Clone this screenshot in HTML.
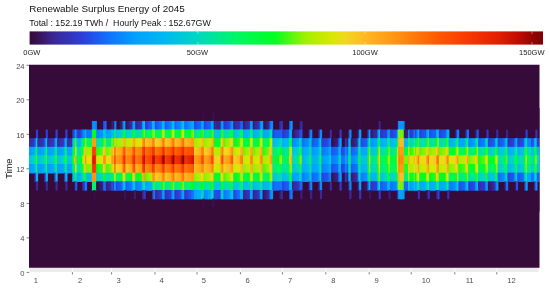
<!DOCTYPE html>
<html lang="en"><head><meta charset="utf-8"><title>Renewable Surplus Energy of 2045</title>
<style>html,body{margin:0;padding:0;background:#fff}body{width:550px;height:289px;overflow:hidden}svg{display:block}text{font-family:"Liberation Sans",Arial,sans-serif}</style></head><body>
<svg width="550" height="289" viewBox="0 0 550 289">
<defs><linearGradient id="cb" x1="0" x2="1" y1="0" y2="0"><stop offset="0.0000" stop-color="#360a39"/><stop offset="0.0104" stop-color="#370f49"/><stop offset="0.0208" stop-color="#38165e"/><stop offset="0.0312" stop-color="#391d73"/><stop offset="0.0417" stop-color="#392489"/><stop offset="0.0521" stop-color="#392a9b"/><stop offset="0.0625" stop-color="#362ea8"/><stop offset="0.0729" stop-color="#3332b5"/><stop offset="0.0833" stop-color="#3036c2"/><stop offset="0.0938" stop-color="#2e3bcf"/><stop offset="0.1042" stop-color="#2b3fdd"/><stop offset="0.1146" stop-color="#2648e5"/><stop offset="0.1250" stop-color="#2053ec"/><stop offset="0.1354" stop-color="#1a5ef3"/><stop offset="0.1458" stop-color="#1469fb"/><stop offset="0.1562" stop-color="#0f74ff"/><stop offset="0.1667" stop-color="#0c7dff"/><stop offset="0.1771" stop-color="#0887ff"/><stop offset="0.1875" stop-color="#0590ff"/><stop offset="0.1979" stop-color="#029aff"/><stop offset="0.2083" stop-color="#00a2fe"/><stop offset="0.2188" stop-color="#00a6fb"/><stop offset="0.2292" stop-color="#00aaf9"/><stop offset="0.2396" stop-color="#00aef6"/><stop offset="0.2500" stop-color="#00b3f3"/><stop offset="0.2604" stop-color="#00b7f1"/><stop offset="0.2708" stop-color="#00bcea"/><stop offset="0.2812" stop-color="#00c1e3"/><stop offset="0.2917" stop-color="#00c6db"/><stop offset="0.3021" stop-color="#00cbd3"/><stop offset="0.3125" stop-color="#00d0cb"/><stop offset="0.3229" stop-color="#00d5c4"/><stop offset="0.3333" stop-color="#00dab9"/><stop offset="0.3438" stop-color="#00dead"/><stop offset="0.3542" stop-color="#00e3a0"/><stop offset="0.3646" stop-color="#00e793"/><stop offset="0.3750" stop-color="#00eb86"/><stop offset="0.3854" stop-color="#00f079"/><stop offset="0.3958" stop-color="#00f46d"/><stop offset="0.4062" stop-color="#00f860"/><stop offset="0.4167" stop-color="#00f957"/><stop offset="0.4271" stop-color="#00fa4d"/><stop offset="0.4375" stop-color="#00fb44"/><stop offset="0.4479" stop-color="#00fc3b"/><stop offset="0.4583" stop-color="#00fd31"/><stop offset="0.4688" stop-color="#00fe28"/><stop offset="0.4792" stop-color="#04ff1f"/><stop offset="0.4896" stop-color="#21fc19"/><stop offset="0.5000" stop-color="#3df914"/><stop offset="0.5104" stop-color="#5af70e"/><stop offset="0.5208" stop-color="#76f408"/><stop offset="0.5312" stop-color="#93f103"/><stop offset="0.5417" stop-color="#a6ef00"/><stop offset="0.5521" stop-color="#b1ee00"/><stop offset="0.5625" stop-color="#bcec00"/><stop offset="0.5729" stop-color="#c8ea00"/><stop offset="0.5833" stop-color="#d3e900"/><stop offset="0.5938" stop-color="#dde507"/><stop offset="0.6042" stop-color="#e7de14"/><stop offset="0.6146" stop-color="#f0d820"/><stop offset="0.6250" stop-color="#f4cf20"/><stop offset="0.6354" stop-color="#f9c720"/><stop offset="0.6458" stop-color="#fcbe20"/><stop offset="0.6562" stop-color="#ffb61f"/><stop offset="0.6667" stop-color="#ffb01d"/><stop offset="0.6771" stop-color="#ffa91a"/><stop offset="0.6875" stop-color="#ffa318"/><stop offset="0.6979" stop-color="#ff9d15"/><stop offset="0.7083" stop-color="#ff9612"/><stop offset="0.7188" stop-color="#ff9010"/><stop offset="0.7292" stop-color="#ff880e"/><stop offset="0.7396" stop-color="#ff810c"/><stop offset="0.7500" stop-color="#ff790a"/><stop offset="0.7604" stop-color="#ff7207"/><stop offset="0.7708" stop-color="#ff6a05"/><stop offset="0.7812" stop-color="#ff6303"/><stop offset="0.7917" stop-color="#ff5b01"/><stop offset="0.8021" stop-color="#fe5500"/><stop offset="0.8125" stop-color="#fd4f00"/><stop offset="0.8229" stop-color="#fc4a00"/><stop offset="0.8333" stop-color="#fb4400"/><stop offset="0.8438" stop-color="#f93e00"/><stop offset="0.8542" stop-color="#f83800"/><stop offset="0.8646" stop-color="#f43400"/><stop offset="0.8750" stop-color="#f02f00"/><stop offset="0.8854" stop-color="#ed2a00"/><stop offset="0.8958" stop-color="#e92600"/><stop offset="0.9062" stop-color="#e52100"/><stop offset="0.9167" stop-color="#df1d00"/><stop offset="0.9271" stop-color="#d61800"/><stop offset="0.9375" stop-color="#cd1300"/><stop offset="0.9479" stop-color="#c40e00"/><stop offset="0.9583" stop-color="#b70a00"/><stop offset="0.9688" stop-color="#a70700"/><stop offset="0.9792" stop-color="#970400"/><stop offset="0.9896" stop-color="#890200"/><stop offset="1.0000" stop-color="#7d0000"/></linearGradient>
<filter id="bl" x="-2%" y="-20%" width="104%" height="140%" color-interpolation-filters="sRGB"><feGaussianBlur stdDeviation="0.70"/></filter>
<clipPath id="pc"><rect x="29.0" y="64.8" width="510.5" height="202.9"/></clipPath></defs>
<rect width="550" height="289" fill="#fff"/>
<text transform="translate(29.3,12.2) scale(1,0.94)" font-size="9.9" fill="#111">Renewable Surplus Energy of 2045</text>
<text transform="translate(29.3,25.6) scale(1,0.96)" font-size="8.85" fill="#111" xml:space="preserve">Total : 152.19 TWh /  Hourly Peak : 152.67GW</text>
<rect x="29.6" y="31.4" width="513.4" height="13.2" fill="url(#cb)"/>
<path d="M198.0 31.4v2.6M198.0 44.6v-2.6" stroke="#fff" stroke-width="0.7" opacity="0.55"/>
<path d="M365.0 31.4v2.6M365.0 44.6v-2.6" stroke="#fff" stroke-width="0.7" opacity="0.55"/>
<path d="M532.0 31.4v2.6M532.0 44.6v-2.6" stroke="#fff" stroke-width="0.7" opacity="0.55"/>
<text x="31.8" y="55.3" font-size="7.5" fill="#222" text-anchor="middle">0GW</text>
<text x="197.5" y="55.3" font-size="7.5" fill="#222" text-anchor="middle">50GW</text>
<text x="365.0" y="55.3" font-size="7.5" fill="#222" text-anchor="middle">100GW</text>
<text x="531.8" y="55.3" font-size="7.5" fill="#222" text-anchor="middle">150GW</text>
<rect x="30" y="64.8" width="508.6" height="207.2" fill="#ebebeb"/>
<path d="M72.4 267.5v4.5" stroke="#fff" stroke-width="0.7"/>
<path d="M111.6 267.5v4.5" stroke="#fff" stroke-width="0.7"/>
<path d="M155.0 267.5v4.5" stroke="#fff" stroke-width="0.7"/>
<path d="M197.0 267.5v4.5" stroke="#fff" stroke-width="0.7"/>
<path d="M240.4 267.5v4.5" stroke="#fff" stroke-width="0.7"/>
<path d="M282.4 267.5v4.5" stroke="#fff" stroke-width="0.7"/>
<path d="M325.8 267.5v4.5" stroke="#fff" stroke-width="0.7"/>
<path d="M369.2 267.5v4.5" stroke="#fff" stroke-width="0.7"/>
<path d="M411.2 267.5v4.5" stroke="#fff" stroke-width="0.7"/>
<path d="M454.8 267.5v4.5" stroke="#fff" stroke-width="0.7"/>
<path d="M496.8 267.5v4.5" stroke="#fff" stroke-width="0.7"/>
<g clip-path="url(#pc)"><rect x="26.0" y="61.8" width="516.5" height="208.9" fill="#360a39"/>
<g filter="url(#bl)">
<rect x="26.0" y="108.0" width="516.5" height="103.6" fill="#360a39"/>
<rect x="202.4" y="112.34" width="2.2" height="9.23" fill="#370e46"/>
<rect x="212.2" y="112.34" width="2.2" height="9.23" fill="#371354"/>
<rect x="91.9" y="120.97" width="2.2" height="9.23" fill="#0888ff"/>
<rect x="93.3" y="120.97" width="2.2" height="9.23" fill="#0494ff"/>
<rect x="94.7" y="120.97" width="2.2" height="9.23" fill="#0888ff"/>
<rect x="103.0" y="120.97" width="2.2" height="9.23" fill="#2a40e0"/>
<rect x="104.4" y="120.97" width="2.2" height="9.23" fill="#1469fb"/>
<rect x="111.4" y="120.97" width="2.2" height="9.23" fill="#391f7b"/>
<rect x="114.2" y="120.97" width="2.2" height="9.23" fill="#0a82ff"/>
<rect x="118.4" y="120.97" width="2.2" height="9.23" fill="#370e46"/>
<rect x="119.8" y="120.97" width="2.2" height="9.23" fill="#381761"/>
<rect x="121.2" y="120.97" width="2.2" height="9.23" fill="#391f7b"/>
<rect x="122.6" y="120.97" width="2.2" height="9.23" fill="#0888ff"/>
<rect x="124.0" y="120.97" width="2.2" height="9.23" fill="#00a3fd"/>
<rect x="125.4" y="120.97" width="2.2" height="9.23" fill="#371354"/>
<rect x="126.8" y="120.97" width="2.2" height="9.23" fill="#381b6e"/>
<rect x="128.2" y="120.97" width="2.2" height="9.23" fill="#391f7b"/>
<rect x="129.6" y="120.97" width="2.2" height="9.23" fill="#3a2896"/>
<rect x="131.0" y="120.97" width="2.2" height="9.23" fill="#362da6"/>
<rect x="132.4" y="120.97" width="2.2" height="9.23" fill="#0494ff"/>
<rect x="133.8" y="120.97" width="2.2" height="9.23" fill="#00a8fa"/>
<rect x="135.2" y="120.97" width="2.2" height="9.23" fill="#392489"/>
<rect x="136.6" y="120.97" width="2.2" height="9.23" fill="#382b9e"/>
<rect x="138.0" y="120.97" width="2.2" height="9.23" fill="#362da6"/>
<rect x="139.4" y="120.97" width="2.2" height="9.23" fill="#3333b7"/>
<rect x="140.8" y="120.97" width="2.2" height="9.23" fill="#2f38c7"/>
<rect x="142.2" y="120.97" width="2.2" height="9.23" fill="#00adf7"/>
<rect x="143.6" y="120.97" width="2.2" height="9.23" fill="#00c2e2"/>
<rect x="145.0" y="120.97" width="2.2" height="9.23" fill="#2c3dd8"/>
<rect x="146.4" y="120.97" width="2.2" height="9.23" fill="#2a40e0"/>
<rect x="147.8" y="120.97" width="2.2" height="9.23" fill="#234ee9"/>
<rect x="149.2" y="120.97" width="2.2" height="9.23" fill="#1b5bf2"/>
<rect x="150.6" y="120.97" width="2.2" height="9.23" fill="#1469fb"/>
<rect x="152.0" y="120.97" width="3.6" height="9.23" fill="#00b8f0"/>
<rect x="154.8" y="120.97" width="2.2" height="9.23" fill="#234ee9"/>
<rect x="156.2" y="120.97" width="2.2" height="9.23" fill="#1b5bf2"/>
<rect x="157.6" y="120.97" width="2.2" height="9.23" fill="#1762f6"/>
<rect x="159.0" y="120.97" width="2.2" height="9.23" fill="#1070ff"/>
<rect x="160.4" y="120.97" width="2.2" height="9.23" fill="#0e76ff"/>
<rect x="161.8" y="120.97" width="2.2" height="9.23" fill="#00b5f2"/>
<rect x="163.2" y="120.97" width="2.2" height="9.23" fill="#00c2e2"/>
<rect x="164.6" y="120.97" width="2.2" height="9.23" fill="#1b5bf2"/>
<rect x="166.0" y="120.97" width="2.2" height="9.23" fill="#1469fb"/>
<rect x="167.4" y="120.97" width="2.2" height="9.23" fill="#1070ff"/>
<rect x="168.8" y="120.97" width="2.2" height="9.23" fill="#0c7cff"/>
<rect x="170.2" y="120.97" width="2.2" height="9.23" fill="#0a82ff"/>
<rect x="171.6" y="120.97" width="2.2" height="9.23" fill="#00b8f0"/>
<rect x="173.0" y="120.97" width="2.2" height="9.23" fill="#00c5dd"/>
<rect x="174.4" y="120.97" width="2.2" height="9.23" fill="#1469fb"/>
<rect x="175.8" y="120.97" width="2.2" height="9.23" fill="#0e76ff"/>
<rect x="177.2" y="120.97" width="2.2" height="9.23" fill="#0c7cff"/>
<rect x="178.6" y="120.97" width="2.2" height="9.23" fill="#0888ff"/>
<rect x="180.0" y="120.97" width="2.2" height="9.23" fill="#068eff"/>
<rect x="181.4" y="120.97" width="2.2" height="9.23" fill="#00bbeb"/>
<rect x="182.8" y="120.97" width="2.2" height="9.23" fill="#00c8d8"/>
<rect x="184.2" y="120.97" width="2.2" height="9.23" fill="#1070ff"/>
<rect x="185.6" y="120.97" width="2.2" height="9.23" fill="#0e76ff"/>
<rect x="187.0" y="120.97" width="2.2" height="9.23" fill="#0a82ff"/>
<rect x="188.4" y="120.97" width="2.2" height="9.23" fill="#068eff"/>
<rect x="189.8" y="120.97" width="2.2" height="9.23" fill="#029aff"/>
<rect x="191.2" y="120.97" width="2.2" height="9.23" fill="#00a8fa"/>
<rect x="192.6" y="120.97" width="2.2" height="9.23" fill="#00adf7"/>
<rect x="194.0" y="120.97" width="2.2" height="9.23" fill="#2647e4"/>
<rect x="195.4" y="120.97" width="2.2" height="9.23" fill="#234ee9"/>
<rect x="196.8" y="120.97" width="2.2" height="9.23" fill="#1b5bf2"/>
<rect x="198.2" y="120.97" width="2.2" height="9.23" fill="#1762f6"/>
<rect x="199.6" y="120.97" width="2.2" height="9.23" fill="#1469fb"/>
<rect x="201.0" y="120.97" width="2.2" height="9.23" fill="#00a0ff"/>
<rect x="202.4" y="120.97" width="2.2" height="9.23" fill="#00a8fa"/>
<rect x="203.8" y="120.97" width="2.2" height="9.23" fill="#2a40e0"/>
<rect x="205.2" y="120.97" width="2.2" height="9.23" fill="#234ee9"/>
<rect x="206.6" y="120.97" width="2.2" height="9.23" fill="#1f55ed"/>
<rect x="208.0" y="120.97" width="2.2" height="9.23" fill="#1b5bf2"/>
<rect x="209.4" y="120.97" width="2.2" height="9.23" fill="#1762f6"/>
<rect x="210.8" y="120.97" width="2.2" height="9.23" fill="#00a0ff"/>
<rect x="212.2" y="120.97" width="2.2" height="9.23" fill="#00abf8"/>
<rect x="213.6" y="120.97" width="2.2" height="9.23" fill="#392489"/>
<rect x="215.0" y="120.97" width="2.2" height="9.23" fill="#382b9e"/>
<rect x="216.4" y="120.97" width="5.0" height="9.23" fill="#392489"/>
<rect x="220.6" y="120.97" width="2.2" height="9.23" fill="#0888ff"/>
<rect x="222.0" y="120.97" width="2.2" height="9.23" fill="#00a3fd"/>
<rect x="223.4" y="120.97" width="2.2" height="9.23" fill="#2f38c7"/>
<rect x="224.8" y="120.97" width="2.2" height="9.23" fill="#2e3bd0"/>
<rect x="226.2" y="120.97" width="2.2" height="9.23" fill="#2a40e0"/>
<rect x="227.6" y="120.97" width="2.2" height="9.23" fill="#2647e4"/>
<rect x="229.0" y="120.97" width="2.2" height="9.23" fill="#234ee9"/>
<rect x="230.4" y="120.97" width="2.2" height="9.23" fill="#0888ff"/>
<rect x="231.8" y="120.97" width="2.2" height="9.23" fill="#029aff"/>
<rect x="233.2" y="120.97" width="2.2" height="9.23" fill="#392489"/>
<rect x="234.6" y="120.97" width="2.2" height="9.23" fill="#382b9e"/>
<rect x="236.0" y="120.97" width="2.2" height="9.23" fill="#362da6"/>
<rect x="237.4" y="120.97" width="2.2" height="9.23" fill="#3530af"/>
<rect x="238.8" y="120.97" width="2.2" height="9.23" fill="#3333b7"/>
<rect x="240.1" y="120.97" width="2.2" height="9.23" fill="#1b5bf2"/>
<rect x="241.5" y="120.97" width="2.2" height="9.23" fill="#1070ff"/>
<rect x="242.9" y="120.97" width="2.2" height="9.23" fill="#381b6e"/>
<rect x="244.3" y="120.97" width="2.2" height="9.23" fill="#392489"/>
<rect x="245.7" y="120.97" width="2.2" height="9.23" fill="#3a2896"/>
<rect x="247.1" y="120.97" width="2.2" height="9.23" fill="#362da6"/>
<rect x="248.5" y="120.97" width="2.2" height="9.23" fill="#3530af"/>
<rect x="249.9" y="120.97" width="2.2" height="9.23" fill="#0494ff"/>
<rect x="251.3" y="120.97" width="2.2" height="9.23" fill="#00a8fa"/>
<rect x="252.7" y="120.97" width="2.2" height="9.23" fill="#381b6e"/>
<rect x="254.1" y="120.97" width="2.2" height="9.23" fill="#392489"/>
<rect x="255.5" y="120.97" width="2.2" height="9.23" fill="#3a2896"/>
<rect x="256.9" y="120.97" width="2.2" height="9.23" fill="#362da6"/>
<rect x="258.3" y="120.97" width="2.2" height="9.23" fill="#3530af"/>
<rect x="259.7" y="120.97" width="2.2" height="9.23" fill="#0888ff"/>
<rect x="261.1" y="120.97" width="2.2" height="9.23" fill="#00a3fd"/>
<rect x="263.9" y="120.97" width="2.2" height="9.23" fill="#371354"/>
<rect x="265.3" y="120.97" width="2.2" height="9.23" fill="#381761"/>
<rect x="266.7" y="120.97" width="2.2" height="9.23" fill="#391f7b"/>
<rect x="268.1" y="120.97" width="2.2" height="9.23" fill="#392489"/>
<rect x="269.5" y="120.97" width="2.2" height="9.23" fill="#1070ff"/>
<rect x="270.9" y="120.97" width="2.2" height="9.23" fill="#068eff"/>
<rect x="279.3" y="120.97" width="2.2" height="9.23" fill="#3a2896"/>
<rect x="280.7" y="120.97" width="2.2" height="9.23" fill="#3135bf"/>
<rect x="289.1" y="120.97" width="2.2" height="9.23" fill="#1762f6"/>
<rect x="290.5" y="120.97" width="2.2" height="9.23" fill="#029aff"/>
<rect x="298.9" y="120.97" width="2.2" height="9.23" fill="#371354"/>
<rect x="300.3" y="120.97" width="2.2" height="9.23" fill="#362da6"/>
<rect x="359.1" y="120.97" width="2.2" height="9.23" fill="#370e46"/>
<rect x="378.6" y="120.97" width="2.2" height="9.23" fill="#392489"/>
<rect x="396.8" y="120.97" width="2.2" height="9.23" fill="#381761"/>
<rect x="398.2" y="120.97" width="2.2" height="9.23" fill="#00a3fd"/>
<rect x="399.6" y="120.97" width="2.2" height="9.23" fill="#0494ff"/>
<rect x="401.0" y="120.97" width="2.2" height="9.23" fill="#029aff"/>
<rect x="402.4" y="120.97" width="2.2" height="9.23" fill="#068eff"/>
<rect x="35.9" y="129.60" width="2.2" height="9.23" fill="#2a40e0"/>
<rect x="45.7" y="129.60" width="2.2" height="9.23" fill="#2a40e0"/>
<rect x="55.5" y="129.60" width="2.2" height="9.23" fill="#2a40e0"/>
<rect x="65.3" y="129.60" width="2.2" height="9.23" fill="#2a40e0"/>
<rect x="72.3" y="129.60" width="2.2" height="9.23" fill="#2c3dd8"/>
<rect x="73.7" y="129.60" width="2.2" height="9.23" fill="#1b5bf2"/>
<rect x="75.1" y="129.60" width="2.2" height="9.23" fill="#00a3fd"/>
<rect x="76.5" y="129.60" width="2.2" height="9.23" fill="#2a40e0"/>
<rect x="77.9" y="129.60" width="3.6" height="9.23" fill="#2f38c7"/>
<rect x="80.7" y="129.60" width="2.2" height="9.23" fill="#1f55ed"/>
<rect x="82.1" y="129.60" width="2.2" height="9.23" fill="#0e76ff"/>
<rect x="83.5" y="129.60" width="2.2" height="9.23" fill="#0494ff"/>
<rect x="84.9" y="129.60" width="2.2" height="9.23" fill="#00b0f5"/>
<rect x="86.3" y="129.60" width="2.2" height="9.23" fill="#1070ff"/>
<rect x="87.7" y="129.60" width="3.6" height="9.23" fill="#0e76ff"/>
<rect x="90.5" y="129.60" width="2.2" height="9.23" fill="#0c7cff"/>
<rect x="91.9" y="129.60" width="2.2" height="9.23" fill="#00fd31"/>
<rect x="93.3" y="129.60" width="2.2" height="9.23" fill="#12fd1c"/>
<rect x="94.7" y="129.60" width="2.2" height="9.23" fill="#00fd31"/>
<rect x="96.1" y="129.60" width="2.2" height="9.23" fill="#0a82ff"/>
<rect x="97.5" y="129.60" width="2.2" height="9.23" fill="#0888ff"/>
<rect x="98.8" y="129.60" width="2.2" height="9.23" fill="#068eff"/>
<rect x="100.2" y="129.60" width="3.6" height="9.23" fill="#0494ff"/>
<rect x="103.0" y="129.60" width="2.2" height="9.23" fill="#00c2e2"/>
<rect x="104.4" y="129.60" width="2.2" height="9.23" fill="#00cece"/>
<rect x="105.8" y="129.60" width="2.2" height="9.23" fill="#029aff"/>
<rect x="107.2" y="129.60" width="2.2" height="9.23" fill="#00a0ff"/>
<rect x="108.6" y="129.60" width="2.2" height="9.23" fill="#00a3fd"/>
<rect x="110.0" y="129.60" width="2.2" height="9.23" fill="#00a5fc"/>
<rect x="111.4" y="129.60" width="2.2" height="9.23" fill="#00c8d8"/>
<rect x="112.8" y="129.60" width="2.2" height="9.23" fill="#00b5f2"/>
<rect x="114.2" y="129.60" width="2.2" height="9.23" fill="#00f95a"/>
<rect x="115.6" y="129.60" width="2.2" height="9.23" fill="#00bee6"/>
<rect x="117.0" y="129.60" width="2.2" height="9.23" fill="#00c5dd"/>
<rect x="118.4" y="129.60" width="2.2" height="9.23" fill="#00c8d8"/>
<rect x="119.8" y="129.60" width="2.2" height="9.23" fill="#00cbd3"/>
<rect x="121.2" y="129.60" width="2.2" height="9.23" fill="#00d2ca"/>
<rect x="122.6" y="129.60" width="2.2" height="9.23" fill="#00f954"/>
<rect x="124.0" y="129.60" width="2.2" height="9.23" fill="#00fc37"/>
<rect x="125.4" y="129.60" width="2.2" height="9.23" fill="#00cbd3"/>
<rect x="126.8" y="129.60" width="2.2" height="9.23" fill="#00d2ca"/>
<rect x="128.2" y="129.60" width="2.2" height="9.23" fill="#00d5c5"/>
<rect x="129.6" y="129.60" width="2.2" height="9.23" fill="#00d8c0"/>
<rect x="131.0" y="129.60" width="2.2" height="9.23" fill="#00ddb0"/>
<rect x="132.4" y="129.60" width="2.2" height="9.23" fill="#00fb43"/>
<rect x="133.8" y="129.60" width="2.2" height="9.23" fill="#00fe2c"/>
<rect x="135.2" y="129.60" width="2.2" height="9.23" fill="#00d8c0"/>
<rect x="136.6" y="129.60" width="2.2" height="9.23" fill="#00ddb0"/>
<rect x="138.0" y="129.60" width="2.2" height="9.23" fill="#00e0a8"/>
<rect x="139.4" y="129.60" width="2.2" height="9.23" fill="#00e3a0"/>
<rect x="140.8" y="129.60" width="2.2" height="9.23" fill="#00e890"/>
<rect x="142.2" y="129.60" width="2.2" height="9.23" fill="#12fd1c"/>
<rect x="143.6" y="129.60" width="2.2" height="9.23" fill="#7cf307"/>
<rect x="145.0" y="129.60" width="2.2" height="9.23" fill="#00f078"/>
<rect x="146.4" y="129.60" width="2.2" height="9.23" fill="#00f370"/>
<rect x="147.8" y="129.60" width="2.2" height="9.23" fill="#00f860"/>
<rect x="149.2" y="129.60" width="2.2" height="9.23" fill="#00f95a"/>
<rect x="150.6" y="129.60" width="2.2" height="9.23" fill="#00fa4f"/>
<rect x="152.0" y="129.60" width="2.2" height="9.23" fill="#59f70e"/>
<rect x="153.4" y="129.60" width="2.2" height="9.23" fill="#aeee00"/>
<rect x="154.8" y="129.60" width="2.2" height="9.23" fill="#00f370"/>
<rect x="156.2" y="129.60" width="2.2" height="9.23" fill="#00f860"/>
<rect x="157.6" y="129.60" width="2.2" height="9.23" fill="#00f95a"/>
<rect x="159.0" y="129.60" width="2.2" height="9.23" fill="#00fa4f"/>
<rect x="160.4" y="129.60" width="2.2" height="9.23" fill="#00fb43"/>
<rect x="161.8" y="129.60" width="2.2" height="9.23" fill="#a0f000"/>
<rect x="163.2" y="129.60" width="2.2" height="9.23" fill="#c3eb00"/>
<rect x="164.6" y="129.60" width="2.2" height="9.23" fill="#00f860"/>
<rect x="166.0" y="129.60" width="2.2" height="9.23" fill="#00f954"/>
<rect x="167.4" y="129.60" width="2.2" height="9.23" fill="#00fa4f"/>
<rect x="168.8" y="129.60" width="2.2" height="9.23" fill="#00fb43"/>
<rect x="170.2" y="129.60" width="2.2" height="9.23" fill="#00fc37"/>
<rect x="171.6" y="129.60" width="2.2" height="9.23" fill="#a7ef00"/>
<rect x="173.0" y="129.60" width="2.2" height="9.23" fill="#caea00"/>
<rect x="174.4" y="129.60" width="2.2" height="9.23" fill="#00f954"/>
<rect x="175.8" y="129.60" width="2.2" height="9.23" fill="#00fb49"/>
<rect x="177.2" y="129.60" width="2.2" height="9.23" fill="#00fb43"/>
<rect x="178.6" y="129.60" width="2.2" height="9.23" fill="#00fc37"/>
<rect x="180.0" y="129.60" width="2.2" height="9.23" fill="#00fe2c"/>
<rect x="181.4" y="129.60" width="2.2" height="9.23" fill="#b5ed00"/>
<rect x="182.8" y="129.60" width="2.2" height="9.23" fill="#d1e900"/>
<rect x="184.2" y="129.60" width="2.2" height="9.23" fill="#00fa4f"/>
<rect x="185.6" y="129.60" width="2.2" height="9.23" fill="#00fb49"/>
<rect x="187.0" y="129.60" width="2.2" height="9.23" fill="#00fc3d"/>
<rect x="188.4" y="129.60" width="2.2" height="9.23" fill="#00fd31"/>
<rect x="189.8" y="129.60" width="2.2" height="9.23" fill="#00ff20"/>
<rect x="191.2" y="129.60" width="2.2" height="9.23" fill="#59f70e"/>
<rect x="192.6" y="129.60" width="2.2" height="9.23" fill="#7cf307"/>
<rect x="194.0" y="129.60" width="2.2" height="9.23" fill="#00e0a8"/>
<rect x="195.4" y="129.60" width="2.2" height="9.23" fill="#00e3a0"/>
<rect x="196.8" y="129.60" width="2.2" height="9.23" fill="#00e890"/>
<rect x="198.2" y="129.60" width="2.2" height="9.23" fill="#00ed80"/>
<rect x="199.6" y="129.60" width="2.2" height="9.23" fill="#00f370"/>
<rect x="201.0" y="129.60" width="2.2" height="9.23" fill="#00ff20"/>
<rect x="202.4" y="129.60" width="2.2" height="9.23" fill="#47f812"/>
<rect x="203.8" y="129.60" width="2.2" height="9.23" fill="#00ddb0"/>
<rect x="205.2" y="129.60" width="2.2" height="9.23" fill="#00e3a0"/>
<rect x="206.6" y="129.60" width="2.2" height="9.23" fill="#00e598"/>
<rect x="208.0" y="129.60" width="2.2" height="9.23" fill="#00eb88"/>
<rect x="209.4" y="129.60" width="2.2" height="9.23" fill="#00ed80"/>
<rect x="210.8" y="129.60" width="2.2" height="9.23" fill="#00ff20"/>
<rect x="212.2" y="129.60" width="2.2" height="9.23" fill="#59f70e"/>
<rect x="213.6" y="129.60" width="2.2" height="9.23" fill="#00bee6"/>
<rect x="215.0" y="129.60" width="2.2" height="9.23" fill="#00c5dd"/>
<rect x="216.4" y="129.60" width="5.0" height="9.23" fill="#00bee6"/>
<rect x="220.6" y="129.60" width="2.2" height="9.23" fill="#00fd31"/>
<rect x="222.0" y="129.60" width="2.2" height="9.23" fill="#35fa15"/>
<rect x="223.4" y="129.60" width="2.2" height="9.23" fill="#00d5c5"/>
<rect x="224.8" y="129.60" width="2.2" height="9.23" fill="#00d8c0"/>
<rect x="226.2" y="129.60" width="2.2" height="9.23" fill="#00ddb0"/>
<rect x="227.6" y="129.60" width="2.2" height="9.23" fill="#00e3a0"/>
<rect x="229.0" y="129.60" width="2.2" height="9.23" fill="#00e890"/>
<rect x="230.4" y="129.60" width="2.2" height="9.23" fill="#00fc37"/>
<rect x="231.8" y="129.60" width="2.2" height="9.23" fill="#00ff20"/>
<rect x="233.2" y="129.60" width="2.2" height="9.23" fill="#00bee6"/>
<rect x="234.6" y="129.60" width="2.2" height="9.23" fill="#00c5dd"/>
<rect x="236.0" y="129.60" width="2.2" height="9.23" fill="#00c8d8"/>
<rect x="237.4" y="129.60" width="2.2" height="9.23" fill="#00cece"/>
<rect x="238.8" y="129.60" width="2.2" height="9.23" fill="#00d5c5"/>
<rect x="240.1" y="129.60" width="2.2" height="9.23" fill="#00f860"/>
<rect x="241.5" y="129.60" width="2.2" height="9.23" fill="#00fb49"/>
<rect x="242.9" y="129.60" width="2.2" height="9.23" fill="#00adf7"/>
<rect x="244.3" y="129.60" width="2.2" height="9.23" fill="#00b3f3"/>
<rect x="245.7" y="129.60" width="2.2" height="9.23" fill="#00b5f2"/>
<rect x="247.1" y="129.60" width="2.2" height="9.23" fill="#00b8f0"/>
<rect x="248.5" y="129.60" width="2.2" height="9.23" fill="#00bee6"/>
<rect x="249.9" y="129.60" width="2.2" height="9.23" fill="#00eb88"/>
<rect x="251.3" y="129.60" width="2.2" height="9.23" fill="#00f860"/>
<rect x="252.7" y="129.60" width="2.2" height="9.23" fill="#00adf7"/>
<rect x="254.1" y="129.60" width="2.2" height="9.23" fill="#00b3f3"/>
<rect x="255.5" y="129.60" width="2.2" height="9.23" fill="#00b5f2"/>
<rect x="256.9" y="129.60" width="2.2" height="9.23" fill="#00b8f0"/>
<rect x="258.3" y="129.60" width="2.2" height="9.23" fill="#00bee6"/>
<rect x="259.7" y="129.60" width="2.2" height="9.23" fill="#00e890"/>
<rect x="261.1" y="129.60" width="2.2" height="9.23" fill="#00f370"/>
<rect x="262.5" y="129.60" width="2.2" height="9.23" fill="#00a3fd"/>
<rect x="263.9" y="129.60" width="2.2" height="9.23" fill="#00a8fa"/>
<rect x="265.3" y="129.60" width="2.2" height="9.23" fill="#00abf8"/>
<rect x="266.7" y="129.60" width="2.2" height="9.23" fill="#00adf7"/>
<rect x="268.1" y="129.60" width="2.2" height="9.23" fill="#00b3f3"/>
<rect x="269.5" y="129.60" width="2.2" height="9.23" fill="#00ddb0"/>
<rect x="270.9" y="129.60" width="2.2" height="9.23" fill="#00e890"/>
<rect x="272.3" y="129.60" width="2.2" height="9.23" fill="#2647e4"/>
<rect x="273.7" y="129.60" width="2.2" height="9.23" fill="#234ee9"/>
<rect x="275.1" y="129.60" width="6.4" height="9.23" fill="#1b5bf2"/>
<rect x="280.7" y="129.60" width="2.2" height="9.23" fill="#1469fb"/>
<rect x="282.1" y="129.60" width="2.2" height="9.23" fill="#2f38c7"/>
<rect x="283.5" y="129.60" width="2.2" height="9.23" fill="#2e3bd0"/>
<rect x="284.9" y="129.60" width="2.2" height="9.23" fill="#2a40e0"/>
<rect x="286.3" y="129.60" width="2.2" height="9.23" fill="#2647e4"/>
<rect x="287.7" y="129.60" width="2.2" height="9.23" fill="#234ee9"/>
<rect x="289.1" y="129.60" width="2.2" height="9.23" fill="#00a8fa"/>
<rect x="290.5" y="129.60" width="2.2" height="9.23" fill="#00b8f0"/>
<rect x="291.9" y="129.60" width="2.2" height="9.23" fill="#381761"/>
<rect x="293.3" y="129.60" width="2.2" height="9.23" fill="#381b6e"/>
<rect x="294.7" y="129.60" width="2.2" height="9.23" fill="#392489"/>
<rect x="296.1" y="129.60" width="3.6" height="9.23" fill="#3a2896"/>
<rect x="298.9" y="129.60" width="2.2" height="9.23" fill="#2c3dd8"/>
<rect x="300.3" y="129.60" width="2.2" height="9.23" fill="#1f55ed"/>
<rect x="308.7" y="129.60" width="2.2" height="9.23" fill="#2f38c7"/>
<rect x="310.1" y="129.60" width="2.2" height="9.23" fill="#0888ff"/>
<rect x="318.5" y="129.60" width="2.2" height="9.23" fill="#3333b7"/>
<rect x="319.9" y="129.60" width="2.2" height="9.23" fill="#068eff"/>
<rect x="329.7" y="129.60" width="2.2" height="9.23" fill="#362da6"/>
<rect x="339.5" y="129.60" width="2.2" height="9.23" fill="#2e3bd0"/>
<rect x="347.9" y="129.60" width="2.2" height="9.23" fill="#391f7b"/>
<rect x="349.3" y="129.60" width="2.2" height="9.23" fill="#068eff"/>
<rect x="357.7" y="129.60" width="2.2" height="9.23" fill="#362da6"/>
<rect x="359.1" y="129.60" width="2.2" height="9.23" fill="#00a5fc"/>
<rect x="367.5" y="129.60" width="2.2" height="9.23" fill="#2c3dd8"/>
<rect x="368.9" y="129.60" width="2.2" height="9.23" fill="#00a5fc"/>
<rect x="370.3" y="129.60" width="2.2" height="9.23" fill="#381b6e"/>
<rect x="371.7" y="129.60" width="2.2" height="9.23" fill="#391f7b"/>
<rect x="373.1" y="129.60" width="2.2" height="9.23" fill="#392489"/>
<rect x="374.5" y="129.60" width="3.6" height="9.23" fill="#3a2896"/>
<rect x="377.3" y="129.60" width="2.2" height="9.23" fill="#0a82ff"/>
<rect x="378.6" y="129.60" width="2.2" height="9.23" fill="#00c2e2"/>
<rect x="380.0" y="129.60" width="2.2" height="9.23" fill="#3135bf"/>
<rect x="381.4" y="129.60" width="2.2" height="9.23" fill="#2f38c7"/>
<rect x="382.8" y="129.60" width="2.2" height="9.23" fill="#2e3bd0"/>
<rect x="384.2" y="129.60" width="3.6" height="9.23" fill="#2c3dd8"/>
<rect x="387.0" y="129.60" width="2.2" height="9.23" fill="#0c7cff"/>
<rect x="388.4" y="129.60" width="2.2" height="9.23" fill="#00abf8"/>
<rect x="389.8" y="129.60" width="2.2" height="9.23" fill="#2c3dd8"/>
<rect x="391.2" y="129.60" width="2.2" height="9.23" fill="#2a40e0"/>
<rect x="392.6" y="129.60" width="2.2" height="9.23" fill="#2647e4"/>
<rect x="394.0" y="129.60" width="3.6" height="9.23" fill="#234ee9"/>
<rect x="396.8" y="129.60" width="2.2" height="9.23" fill="#00bbeb"/>
<rect x="398.2" y="129.60" width="2.2" height="9.23" fill="#a0f000"/>
<rect x="399.6" y="129.60" width="2.2" height="9.23" fill="#6bf50b"/>
<rect x="401.0" y="129.60" width="2.2" height="9.23" fill="#7cf307"/>
<rect x="402.4" y="129.60" width="2.2" height="9.23" fill="#59f70e"/>
<rect x="403.8" y="129.60" width="5.0" height="9.23" fill="#391f7b"/>
<rect x="408.0" y="129.60" width="2.2" height="9.23" fill="#0888ff"/>
<rect x="409.4" y="129.60" width="2.2" height="9.23" fill="#2f38c7"/>
<rect x="410.8" y="129.60" width="2.2" height="9.23" fill="#2e3bd0"/>
<rect x="412.2" y="129.60" width="2.2" height="9.23" fill="#2c3dd8"/>
<rect x="413.6" y="129.60" width="2.2" height="9.23" fill="#0c7cff"/>
<rect x="415.0" y="129.60" width="2.2" height="9.23" fill="#2a40e0"/>
<rect x="416.4" y="129.60" width="2.2" height="9.23" fill="#0888ff"/>
<rect x="417.8" y="129.60" width="2.2" height="9.23" fill="#00b0f5"/>
<rect x="419.2" y="129.60" width="2.2" height="9.23" fill="#2a40e0"/>
<rect x="420.6" y="129.60" width="2.2" height="9.23" fill="#2647e4"/>
<rect x="422.0" y="129.60" width="2.2" height="9.23" fill="#234ee9"/>
<rect x="423.4" y="129.60" width="3.6" height="9.23" fill="#1f55ed"/>
<rect x="426.2" y="129.60" width="2.2" height="9.23" fill="#0494ff"/>
<rect x="427.6" y="129.60" width="2.2" height="9.23" fill="#00b5f2"/>
<rect x="429.0" y="129.60" width="2.2" height="9.23" fill="#234ee9"/>
<rect x="430.4" y="129.60" width="2.2" height="9.23" fill="#1f55ed"/>
<rect x="431.8" y="129.60" width="2.2" height="9.23" fill="#1b5bf2"/>
<rect x="433.2" y="129.60" width="3.6" height="9.23" fill="#1762f6"/>
<rect x="436.0" y="129.60" width="2.2" height="9.23" fill="#00a5fc"/>
<rect x="437.4" y="129.60" width="2.2" height="9.23" fill="#00c2e2"/>
<rect x="438.8" y="129.60" width="2.2" height="9.23" fill="#2a40e0"/>
<rect x="440.2" y="129.60" width="2.2" height="9.23" fill="#2647e4"/>
<rect x="441.6" y="129.60" width="2.2" height="9.23" fill="#234ee9"/>
<rect x="443.0" y="129.60" width="3.6" height="9.23" fill="#1f55ed"/>
<rect x="445.8" y="129.60" width="2.2" height="9.23" fill="#068eff"/>
<rect x="447.2" y="129.60" width="2.2" height="9.23" fill="#00b0f5"/>
<rect x="455.6" y="129.60" width="2.2" height="9.23" fill="#2f38c7"/>
<rect x="457.0" y="129.60" width="2.2" height="9.23" fill="#0a82ff"/>
<rect x="465.4" y="129.60" width="2.2" height="9.23" fill="#362da6"/>
<rect x="466.8" y="129.60" width="2.2" height="9.23" fill="#1070ff"/>
<rect x="475.2" y="129.60" width="2.2" height="9.23" fill="#391f7b"/>
<rect x="476.6" y="129.60" width="2.2" height="9.23" fill="#1f55ed"/>
<rect x="486.4" y="129.60" width="2.2" height="9.23" fill="#2f38c7"/>
<rect x="496.2" y="129.60" width="2.2" height="9.23" fill="#362da6"/>
<rect x="506.0" y="129.60" width="2.2" height="9.23" fill="#392489"/>
<rect x="515.8" y="129.60" width="2.2" height="9.23" fill="#370e46"/>
<rect x="525.5" y="129.60" width="2.2" height="9.23" fill="#2c3dd8"/>
<rect x="535.3" y="129.60" width="2.2" height="9.23" fill="#3530af"/>
<rect x="28.9" y="138.23" width="2.2" height="9.23" fill="#362da6"/>
<rect x="30.3" y="138.23" width="2.2" height="9.23" fill="#3530af"/>
<rect x="31.7" y="138.23" width="2.2" height="9.23" fill="#3333b7"/>
<rect x="33.1" y="138.23" width="2.2" height="9.23" fill="#3135bf"/>
<rect x="34.5" y="138.23" width="2.2" height="9.23" fill="#1469fb"/>
<rect x="35.9" y="138.23" width="2.2" height="9.23" fill="#00c2e2"/>
<rect x="37.3" y="138.23" width="2.2" height="9.23" fill="#382b9e"/>
<rect x="38.7" y="138.23" width="2.2" height="9.23" fill="#362da6"/>
<rect x="40.1" y="138.23" width="2.2" height="9.23" fill="#3530af"/>
<rect x="41.5" y="138.23" width="2.2" height="9.23" fill="#3333b7"/>
<rect x="42.9" y="138.23" width="2.2" height="9.23" fill="#3135bf"/>
<rect x="44.3" y="138.23" width="2.2" height="9.23" fill="#1469fb"/>
<rect x="45.7" y="138.23" width="2.2" height="9.23" fill="#00c2e2"/>
<rect x="47.1" y="138.23" width="2.2" height="9.23" fill="#382b9e"/>
<rect x="48.5" y="138.23" width="2.2" height="9.23" fill="#362da6"/>
<rect x="49.9" y="138.23" width="2.2" height="9.23" fill="#3530af"/>
<rect x="51.3" y="138.23" width="2.2" height="9.23" fill="#3333b7"/>
<rect x="52.7" y="138.23" width="2.2" height="9.23" fill="#3135bf"/>
<rect x="54.1" y="138.23" width="2.2" height="9.23" fill="#1469fb"/>
<rect x="55.5" y="138.23" width="2.2" height="9.23" fill="#00c2e2"/>
<rect x="56.9" y="138.23" width="2.2" height="9.23" fill="#382b9e"/>
<rect x="58.3" y="138.23" width="2.2" height="9.23" fill="#362da6"/>
<rect x="59.7" y="138.23" width="2.2" height="9.23" fill="#3530af"/>
<rect x="61.1" y="138.23" width="2.2" height="9.23" fill="#3333b7"/>
<rect x="62.5" y="138.23" width="2.2" height="9.23" fill="#3135bf"/>
<rect x="63.9" y="138.23" width="2.2" height="9.23" fill="#1469fb"/>
<rect x="65.3" y="138.23" width="2.2" height="9.23" fill="#00c2e2"/>
<rect x="66.7" y="138.23" width="6.4" height="9.23" fill="#3530af"/>
<rect x="72.3" y="138.23" width="2.2" height="9.23" fill="#00c8d8"/>
<rect x="73.7" y="138.23" width="2.2" height="9.23" fill="#00e598"/>
<rect x="75.1" y="138.23" width="2.2" height="9.23" fill="#47f812"/>
<rect x="76.5" y="138.23" width="2.2" height="9.23" fill="#00bee6"/>
<rect x="77.9" y="138.23" width="3.6" height="9.23" fill="#00b5f2"/>
<rect x="80.7" y="138.23" width="2.2" height="9.23" fill="#00d2ca"/>
<rect x="82.1" y="138.23" width="2.2" height="9.23" fill="#00f078"/>
<rect x="83.5" y="138.23" width="2.2" height="9.23" fill="#00fc37"/>
<rect x="84.9" y="138.23" width="2.2" height="9.23" fill="#a0f000"/>
<rect x="86.3" y="138.23" width="2.2" height="9.23" fill="#00f568"/>
<rect x="87.7" y="138.23" width="3.6" height="9.23" fill="#00f860"/>
<rect x="90.5" y="138.23" width="2.2" height="9.23" fill="#00f954"/>
<rect x="91.9" y="138.23" width="2.2" height="9.23" fill="#ffa016"/>
<rect x="93.3" y="138.23" width="2.2" height="9.23" fill="#ff9813"/>
<rect x="94.7" y="138.23" width="2.2" height="9.23" fill="#ffa016"/>
<rect x="96.1" y="138.23" width="2.2" height="9.23" fill="#00ddb0"/>
<rect x="97.5" y="138.23" width="2.2" height="9.23" fill="#00e0a8"/>
<rect x="98.8" y="138.23" width="2.2" height="9.23" fill="#00e3a0"/>
<rect x="100.2" y="138.23" width="2.2" height="9.23" fill="#00e598"/>
<rect x="101.6" y="138.23" width="2.2" height="9.23" fill="#00e890"/>
<rect x="103.0" y="138.23" width="2.2" height="9.23" fill="#24fc19"/>
<rect x="104.4" y="138.23" width="2.2" height="9.23" fill="#7cf307"/>
<rect x="105.8" y="138.23" width="2.2" height="9.23" fill="#00e890"/>
<rect x="107.2" y="138.23" width="2.2" height="9.23" fill="#00eb88"/>
<rect x="108.6" y="138.23" width="2.2" height="9.23" fill="#00ed80"/>
<rect x="110.0" y="138.23" width="2.2" height="9.23" fill="#00f078"/>
<rect x="111.4" y="138.23" width="2.2" height="9.23" fill="#8ef204"/>
<rect x="112.8" y="138.23" width="2.2" height="9.23" fill="#35fa15"/>
<rect x="114.2" y="138.23" width="2.2" height="9.23" fill="#f8c820"/>
<rect x="115.6" y="138.23" width="2.2" height="9.23" fill="#7cf307"/>
<rect x="117.0" y="138.23" width="2.2" height="9.23" fill="#a0f000"/>
<rect x="118.4" y="138.23" width="2.2" height="9.23" fill="#a7ef00"/>
<rect x="119.8" y="138.23" width="2.2" height="9.23" fill="#aeee00"/>
<rect x="121.2" y="138.23" width="2.2" height="9.23" fill="#b5ed00"/>
<rect x="122.6" y="138.23" width="2.2" height="9.23" fill="#fdbd20"/>
<rect x="124.0" y="138.23" width="2.2" height="9.23" fill="#ffac1b"/>
<rect x="125.4" y="138.23" width="2.2" height="9.23" fill="#aeee00"/>
<rect x="126.8" y="138.23" width="2.2" height="9.23" fill="#bcec00"/>
<rect x="128.2" y="138.23" width="2.2" height="9.23" fill="#c3eb00"/>
<rect x="129.6" y="138.23" width="2.2" height="9.23" fill="#caea00"/>
<rect x="131.0" y="138.23" width="2.2" height="9.23" fill="#d1e900"/>
<rect x="132.4" y="138.23" width="2.2" height="9.23" fill="#ffb41e"/>
<rect x="133.8" y="138.23" width="2.2" height="9.23" fill="#ffa418"/>
<rect x="135.2" y="138.23" width="2.2" height="9.23" fill="#caea00"/>
<rect x="136.6" y="138.23" width="2.2" height="9.23" fill="#d8e800"/>
<rect x="138.0" y="138.23" width="2.2" height="9.23" fill="#dee408"/>
<rect x="139.4" y="138.23" width="2.2" height="9.23" fill="#e4e010"/>
<rect x="140.8" y="138.23" width="2.2" height="9.23" fill="#eadc18"/>
<rect x="142.2" y="138.23" width="2.2" height="9.23" fill="#ff9412"/>
<rect x="143.6" y="138.23" width="2.2" height="9.23" fill="#ff7d0b"/>
<rect x="145.0" y="138.23" width="2.2" height="9.23" fill="#f8c820"/>
<rect x="146.4" y="138.23" width="2.2" height="9.23" fill="#fac320"/>
<rect x="147.8" y="138.23" width="2.2" height="9.23" fill="#ffb820"/>
<rect x="149.2" y="138.23" width="2.2" height="9.23" fill="#ffb41e"/>
<rect x="150.6" y="138.23" width="2.2" height="9.23" fill="#ffb01d"/>
<rect x="152.0" y="138.23" width="3.6" height="9.23" fill="#ff870d"/>
<rect x="154.8" y="138.23" width="2.2" height="9.23" fill="#f0d820"/>
<rect x="156.2" y="138.23" width="2.2" height="9.23" fill="#f5cd20"/>
<rect x="157.6" y="138.23" width="2.2" height="9.23" fill="#f8c820"/>
<rect x="159.0" y="138.23" width="2.2" height="9.23" fill="#fac320"/>
<rect x="160.4" y="138.23" width="2.2" height="9.23" fill="#ffb820"/>
<rect x="161.8" y="138.23" width="2.2" height="9.23" fill="#ff8b0f"/>
<rect x="163.2" y="138.23" width="2.2" height="9.23" fill="#ff7909"/>
<rect x="164.6" y="138.23" width="2.2" height="9.23" fill="#f5cd20"/>
<rect x="166.0" y="138.23" width="2.2" height="9.23" fill="#fac320"/>
<rect x="167.4" y="138.23" width="2.2" height="9.23" fill="#fdbd20"/>
<rect x="168.8" y="138.23" width="2.2" height="9.23" fill="#ffb820"/>
<rect x="170.2" y="138.23" width="2.2" height="9.23" fill="#ffb01d"/>
<rect x="171.6" y="138.23" width="2.2" height="9.23" fill="#ff870d"/>
<rect x="173.0" y="138.23" width="2.2" height="9.23" fill="#ff7408"/>
<rect x="174.4" y="138.23" width="2.2" height="9.23" fill="#fac320"/>
<rect x="175.8" y="138.23" width="2.2" height="9.23" fill="#ffb820"/>
<rect x="177.2" y="138.23" width="2.2" height="9.23" fill="#ffb41e"/>
<rect x="178.6" y="138.23" width="2.2" height="9.23" fill="#ffb01d"/>
<rect x="180.0" y="138.23" width="2.2" height="9.23" fill="#ffa81a"/>
<rect x="181.4" y="138.23" width="2.2" height="9.23" fill="#ff820c"/>
<rect x="182.8" y="138.23" width="2.2" height="9.23" fill="#ff6f07"/>
<rect x="184.2" y="138.23" width="2.2" height="9.23" fill="#fdbd20"/>
<rect x="185.6" y="138.23" width="2.2" height="9.23" fill="#ffb820"/>
<rect x="187.0" y="138.23" width="2.2" height="9.23" fill="#ffb01d"/>
<rect x="188.4" y="138.23" width="2.2" height="9.23" fill="#ffac1b"/>
<rect x="189.8" y="138.23" width="2.2" height="9.23" fill="#ffa81a"/>
<rect x="191.2" y="138.23" width="2.2" height="9.23" fill="#ffa016"/>
<rect x="192.6" y="138.23" width="2.2" height="9.23" fill="#ff9813"/>
<rect x="194.0" y="138.23" width="2.2" height="9.23" fill="#a0f000"/>
<rect x="195.4" y="138.23" width="2.2" height="9.23" fill="#aeee00"/>
<rect x="196.8" y="138.23" width="2.2" height="9.23" fill="#b5ed00"/>
<rect x="198.2" y="138.23" width="2.2" height="9.23" fill="#bcec00"/>
<rect x="199.6" y="138.23" width="2.2" height="9.23" fill="#caea00"/>
<rect x="201.0" y="138.23" width="2.2" height="9.23" fill="#f8c820"/>
<rect x="202.4" y="138.23" width="2.2" height="9.23" fill="#ffb41e"/>
<rect x="203.8" y="138.23" width="2.2" height="9.23" fill="#8ef204"/>
<rect x="205.2" y="138.23" width="2.2" height="9.23" fill="#a0f000"/>
<rect x="206.6" y="138.23" width="2.2" height="9.23" fill="#aeee00"/>
<rect x="208.0" y="138.23" width="2.2" height="9.23" fill="#b5ed00"/>
<rect x="209.4" y="138.23" width="2.2" height="9.23" fill="#c3eb00"/>
<rect x="210.8" y="138.23" width="2.2" height="9.23" fill="#fac320"/>
<rect x="212.2" y="138.23" width="2.2" height="9.23" fill="#ffb01d"/>
<rect x="213.6" y="138.23" width="2.2" height="9.23" fill="#00fe2c"/>
<rect x="215.0" y="138.23" width="2.2" height="9.23" fill="#00fe26"/>
<rect x="216.4" y="138.23" width="5.0" height="9.23" fill="#00fe2c"/>
<rect x="220.6" y="138.23" width="2.2" height="9.23" fill="#f0d820"/>
<rect x="222.0" y="138.23" width="2.2" height="9.23" fill="#ffb820"/>
<rect x="223.4" y="138.23" width="2.2" height="9.23" fill="#59f70e"/>
<rect x="224.8" y="138.23" width="2.2" height="9.23" fill="#7cf307"/>
<rect x="226.2" y="138.23" width="2.2" height="9.23" fill="#8ef204"/>
<rect x="227.6" y="138.23" width="2.2" height="9.23" fill="#a0f000"/>
<rect x="229.0" y="138.23" width="2.2" height="9.23" fill="#aeee00"/>
<rect x="230.4" y="138.23" width="2.2" height="9.23" fill="#eadc18"/>
<rect x="231.8" y="138.23" width="2.2" height="9.23" fill="#f8c820"/>
<rect x="233.2" y="138.23" width="2.2" height="9.23" fill="#00fe2c"/>
<rect x="234.6" y="138.23" width="2.2" height="9.23" fill="#00fe26"/>
<rect x="236.0" y="138.23" width="2.2" height="9.23" fill="#12fd1c"/>
<rect x="237.4" y="138.23" width="2.2" height="9.23" fill="#24fc19"/>
<rect x="238.8" y="138.23" width="2.2" height="9.23" fill="#47f812"/>
<rect x="240.1" y="138.23" width="2.2" height="9.23" fill="#bcec00"/>
<rect x="241.5" y="138.23" width="2.2" height="9.23" fill="#d8e800"/>
<rect x="242.9" y="138.23" width="2.2" height="9.23" fill="#00fa4f"/>
<rect x="244.3" y="138.23" width="2.2" height="9.23" fill="#00fb49"/>
<rect x="245.7" y="138.23" width="2.2" height="9.23" fill="#00fc3d"/>
<rect x="247.1" y="138.23" width="2.2" height="9.23" fill="#00fd31"/>
<rect x="248.5" y="138.23" width="2.2" height="9.23" fill="#00fe2c"/>
<rect x="249.9" y="138.23" width="2.2" height="9.23" fill="#d1e900"/>
<rect x="251.3" y="138.23" width="2.2" height="9.23" fill="#f0d820"/>
<rect x="252.7" y="138.23" width="2.2" height="9.23" fill="#00fa4f"/>
<rect x="254.1" y="138.23" width="2.2" height="9.23" fill="#00fb49"/>
<rect x="255.5" y="138.23" width="2.2" height="9.23" fill="#00fc3d"/>
<rect x="256.9" y="138.23" width="2.2" height="9.23" fill="#00fd31"/>
<rect x="258.3" y="138.23" width="2.2" height="9.23" fill="#00fe2c"/>
<rect x="259.7" y="138.23" width="2.2" height="9.23" fill="#c3eb00"/>
<rect x="261.1" y="138.23" width="2.2" height="9.23" fill="#e4e010"/>
<rect x="262.5" y="138.23" width="2.2" height="9.23" fill="#00f568"/>
<rect x="263.9" y="138.23" width="2.2" height="9.23" fill="#00f860"/>
<rect x="265.3" y="138.23" width="2.2" height="9.23" fill="#00f954"/>
<rect x="266.7" y="138.23" width="2.2" height="9.23" fill="#00fb49"/>
<rect x="268.1" y="138.23" width="2.2" height="9.23" fill="#00fb43"/>
<rect x="269.5" y="138.23" width="2.2" height="9.23" fill="#a7ef00"/>
<rect x="270.9" y="138.23" width="2.2" height="9.23" fill="#caea00"/>
<rect x="272.3" y="138.23" width="2.2" height="9.23" fill="#00b8f0"/>
<rect x="273.7" y="138.23" width="2.2" height="9.23" fill="#00bee6"/>
<rect x="275.1" y="138.23" width="2.2" height="9.23" fill="#00c2e2"/>
<rect x="276.5" y="138.23" width="3.6" height="9.23" fill="#00c5dd"/>
<rect x="279.3" y="138.23" width="2.2" height="9.23" fill="#00d5c5"/>
<rect x="280.7" y="138.23" width="2.2" height="9.23" fill="#00ddb0"/>
<rect x="282.1" y="138.23" width="2.2" height="9.23" fill="#00adf7"/>
<rect x="283.5" y="138.23" width="2.2" height="9.23" fill="#00b3f3"/>
<rect x="284.9" y="138.23" width="2.2" height="9.23" fill="#00b5f2"/>
<rect x="286.3" y="138.23" width="2.2" height="9.23" fill="#00b8f0"/>
<rect x="287.7" y="138.23" width="2.2" height="9.23" fill="#00bbeb"/>
<rect x="289.1" y="138.23" width="2.2" height="9.23" fill="#00f95a"/>
<rect x="290.5" y="138.23" width="2.2" height="9.23" fill="#00fd31"/>
<rect x="291.9" y="138.23" width="2.2" height="9.23" fill="#0a82ff"/>
<rect x="293.3" y="138.23" width="2.2" height="9.23" fill="#068eff"/>
<rect x="294.7" y="138.23" width="2.2" height="9.23" fill="#0494ff"/>
<rect x="296.1" y="138.23" width="2.2" height="9.23" fill="#029aff"/>
<rect x="297.5" y="138.23" width="2.2" height="9.23" fill="#00a0ff"/>
<rect x="298.9" y="138.23" width="2.2" height="9.23" fill="#00c5dd"/>
<rect x="300.3" y="138.23" width="2.2" height="9.23" fill="#00d5c5"/>
<rect x="301.7" y="138.23" width="2.2" height="9.23" fill="#1070ff"/>
<rect x="303.1" y="138.23" width="2.2" height="9.23" fill="#0e76ff"/>
<rect x="304.5" y="138.23" width="2.2" height="9.23" fill="#0a82ff"/>
<rect x="305.9" y="138.23" width="3.6" height="9.23" fill="#0888ff"/>
<rect x="308.7" y="138.23" width="2.2" height="9.23" fill="#00adf7"/>
<rect x="310.1" y="138.23" width="2.2" height="9.23" fill="#00c5dd"/>
<rect x="311.5" y="138.23" width="2.2" height="9.23" fill="#1f55ed"/>
<rect x="312.9" y="138.23" width="2.2" height="9.23" fill="#1b5bf2"/>
<rect x="314.3" y="138.23" width="2.2" height="9.23" fill="#1762f6"/>
<rect x="315.7" y="138.23" width="3.6" height="9.23" fill="#1469fb"/>
<rect x="318.5" y="138.23" width="2.2" height="9.23" fill="#00a8fa"/>
<rect x="319.9" y="138.23" width="2.2" height="9.23" fill="#00c8d8"/>
<rect x="321.3" y="138.23" width="2.2" height="9.23" fill="#2e3bd0"/>
<rect x="322.7" y="138.23" width="2.2" height="9.23" fill="#2c3dd8"/>
<rect x="324.1" y="138.23" width="2.2" height="9.23" fill="#2a40e0"/>
<rect x="325.5" y="138.23" width="3.6" height="9.23" fill="#2647e4"/>
<rect x="328.3" y="138.23" width="2.2" height="9.23" fill="#1762f6"/>
<rect x="329.7" y="138.23" width="2.2" height="9.23" fill="#0a82ff"/>
<rect x="331.1" y="138.23" width="2.2" height="9.23" fill="#370e46"/>
<rect x="332.5" y="138.23" width="2.2" height="9.23" fill="#371354"/>
<rect x="333.9" y="138.23" width="2.2" height="9.23" fill="#381761"/>
<rect x="335.3" y="138.23" width="2.2" height="9.23" fill="#381b6e"/>
<rect x="336.7" y="138.23" width="2.2" height="9.23" fill="#391f7b"/>
<rect x="338.1" y="138.23" width="2.2" height="9.23" fill="#1f55ed"/>
<rect x="339.5" y="138.23" width="2.2" height="9.23" fill="#00a0ff"/>
<rect x="343.7" y="138.23" width="2.2" height="9.23" fill="#370e46"/>
<rect x="345.1" y="138.23" width="2.2" height="9.23" fill="#2f38c7"/>
<rect x="346.5" y="138.23" width="2.2" height="9.23" fill="#381761"/>
<rect x="347.9" y="138.23" width="2.2" height="9.23" fill="#0c7cff"/>
<rect x="349.3" y="138.23" width="2.2" height="9.23" fill="#00c8d8"/>
<rect x="350.7" y="138.23" width="2.2" height="9.23" fill="#381761"/>
<rect x="352.1" y="138.23" width="2.2" height="9.23" fill="#381b6e"/>
<rect x="353.5" y="138.23" width="2.2" height="9.23" fill="#391f7b"/>
<rect x="354.9" y="138.23" width="2.2" height="9.23" fill="#392489"/>
<rect x="356.3" y="138.23" width="2.2" height="9.23" fill="#3a2896"/>
<rect x="357.7" y="138.23" width="2.2" height="9.23" fill="#029aff"/>
<rect x="359.1" y="138.23" width="2.2" height="9.23" fill="#00d8c0"/>
<rect x="360.5" y="138.23" width="2.2" height="9.23" fill="#2647e4"/>
<rect x="361.9" y="138.23" width="2.2" height="9.23" fill="#234ee9"/>
<rect x="363.3" y="138.23" width="2.2" height="9.23" fill="#1f55ed"/>
<rect x="364.7" y="138.23" width="3.6" height="9.23" fill="#1b5bf2"/>
<rect x="367.5" y="138.23" width="2.2" height="9.23" fill="#00b8f0"/>
<rect x="368.9" y="138.23" width="2.2" height="9.23" fill="#00ed80"/>
<rect x="370.3" y="138.23" width="2.2" height="9.23" fill="#0494ff"/>
<rect x="371.7" y="138.23" width="2.2" height="9.23" fill="#029aff"/>
<rect x="373.1" y="138.23" width="2.2" height="9.23" fill="#00a0ff"/>
<rect x="374.5" y="138.23" width="3.6" height="9.23" fill="#00a3fd"/>
<rect x="377.3" y="138.23" width="2.2" height="9.23" fill="#00dbb8"/>
<rect x="378.6" y="138.23" width="2.2" height="9.23" fill="#00fc3d"/>
<rect x="380.0" y="138.23" width="2.2" height="9.23" fill="#00b0f5"/>
<rect x="381.4" y="138.23" width="2.2" height="9.23" fill="#00b3f3"/>
<rect x="382.8" y="138.23" width="2.2" height="9.23" fill="#00b5f2"/>
<rect x="384.2" y="138.23" width="3.6" height="9.23" fill="#00b8f0"/>
<rect x="387.0" y="138.23" width="2.2" height="9.23" fill="#00d8c0"/>
<rect x="388.4" y="138.23" width="2.2" height="9.23" fill="#00f370"/>
<rect x="389.8" y="138.23" width="2.2" height="9.23" fill="#00b8f0"/>
<rect x="391.2" y="138.23" width="2.2" height="9.23" fill="#00bbeb"/>
<rect x="392.6" y="138.23" width="2.2" height="9.23" fill="#00bee6"/>
<rect x="394.0" y="138.23" width="3.6" height="9.23" fill="#00c2e2"/>
<rect x="396.8" y="138.23" width="2.2" height="9.23" fill="#00fb49"/>
<rect x="398.2" y="138.23" width="2.2" height="9.23" fill="#ffb01d"/>
<rect x="399.6" y="138.23" width="2.2" height="9.23" fill="#fdbd20"/>
<rect x="401.0" y="138.23" width="2.2" height="9.23" fill="#ffb820"/>
<rect x="402.4" y="138.23" width="2.2" height="9.23" fill="#fac320"/>
<rect x="403.8" y="138.23" width="5.0" height="9.23" fill="#00b8f0"/>
<rect x="408.0" y="138.23" width="2.2" height="9.23" fill="#00fb49"/>
<rect x="409.4" y="138.23" width="2.2" height="9.23" fill="#00d2ca"/>
<rect x="410.8" y="138.23" width="2.2" height="9.23" fill="#00d5c5"/>
<rect x="412.2" y="138.23" width="2.2" height="9.23" fill="#00d8c0"/>
<rect x="413.6" y="138.23" width="2.2" height="9.23" fill="#00f860"/>
<rect x="415.0" y="138.23" width="2.2" height="9.23" fill="#00ddb0"/>
<rect x="416.4" y="138.23" width="2.2" height="9.23" fill="#00fa4f"/>
<rect x="417.8" y="138.23" width="2.2" height="9.23" fill="#35fa15"/>
<rect x="419.2" y="138.23" width="2.2" height="9.23" fill="#00dbb8"/>
<rect x="420.6" y="138.23" width="2.2" height="9.23" fill="#00ddb0"/>
<rect x="422.0" y="138.23" width="2.2" height="9.23" fill="#00e0a8"/>
<rect x="423.4" y="138.23" width="2.2" height="9.23" fill="#00e3a0"/>
<rect x="424.8" y="138.23" width="2.2" height="9.23" fill="#00e598"/>
<rect x="426.2" y="138.23" width="2.2" height="9.23" fill="#00fb43"/>
<rect x="427.6" y="138.23" width="2.2" height="9.23" fill="#59f70e"/>
<rect x="429.0" y="138.23" width="2.2" height="9.23" fill="#00e0a8"/>
<rect x="430.4" y="138.23" width="2.2" height="9.23" fill="#00e3a0"/>
<rect x="431.8" y="138.23" width="2.2" height="9.23" fill="#00e598"/>
<rect x="433.2" y="138.23" width="2.2" height="9.23" fill="#00e890"/>
<rect x="434.6" y="138.23" width="2.2" height="9.23" fill="#00eb88"/>
<rect x="436.0" y="138.23" width="2.2" height="9.23" fill="#00fd31"/>
<rect x="437.4" y="138.23" width="2.2" height="9.23" fill="#a0f000"/>
<rect x="438.8" y="138.23" width="2.2" height="9.23" fill="#00dbb8"/>
<rect x="440.2" y="138.23" width="2.2" height="9.23" fill="#00ddb0"/>
<rect x="441.6" y="138.23" width="2.2" height="9.23" fill="#00e0a8"/>
<rect x="443.0" y="138.23" width="2.2" height="9.23" fill="#00e3a0"/>
<rect x="444.4" y="138.23" width="2.2" height="9.23" fill="#00e598"/>
<rect x="445.8" y="138.23" width="2.2" height="9.23" fill="#00fb49"/>
<rect x="447.2" y="138.23" width="2.2" height="9.23" fill="#35fa15"/>
<rect x="448.6" y="138.23" width="2.2" height="9.23" fill="#00b0f5"/>
<rect x="450.0" y="138.23" width="2.2" height="9.23" fill="#00b3f3"/>
<rect x="451.4" y="138.23" width="2.2" height="9.23" fill="#00b5f2"/>
<rect x="452.8" y="138.23" width="2.2" height="9.23" fill="#00b8f0"/>
<rect x="454.2" y="138.23" width="2.2" height="9.23" fill="#00bbeb"/>
<rect x="455.6" y="138.23" width="2.2" height="9.23" fill="#00e0a8"/>
<rect x="457.0" y="138.23" width="2.2" height="9.23" fill="#00f954"/>
<rect x="458.4" y="138.23" width="2.2" height="9.23" fill="#00a0ff"/>
<rect x="459.8" y="138.23" width="2.2" height="9.23" fill="#00a3fd"/>
<rect x="461.2" y="138.23" width="2.2" height="9.23" fill="#00a5fc"/>
<rect x="462.6" y="138.23" width="2.2" height="9.23" fill="#00a8fa"/>
<rect x="464.0" y="138.23" width="2.2" height="9.23" fill="#00abf8"/>
<rect x="465.4" y="138.23" width="2.2" height="9.23" fill="#00d5c5"/>
<rect x="466.8" y="138.23" width="2.2" height="9.23" fill="#00f568"/>
<rect x="468.2" y="138.23" width="2.2" height="9.23" fill="#0888ff"/>
<rect x="469.6" y="138.23" width="2.2" height="9.23" fill="#068eff"/>
<rect x="471.0" y="138.23" width="2.2" height="9.23" fill="#0494ff"/>
<rect x="472.4" y="138.23" width="2.2" height="9.23" fill="#029aff"/>
<rect x="473.8" y="138.23" width="2.2" height="9.23" fill="#00a0ff"/>
<rect x="475.2" y="138.23" width="2.2" height="9.23" fill="#00c8d8"/>
<rect x="476.6" y="138.23" width="2.2" height="9.23" fill="#00eb88"/>
<rect x="478.0" y="138.23" width="2.2" height="9.23" fill="#1469fb"/>
<rect x="479.4" y="138.23" width="2.2" height="9.23" fill="#1070ff"/>
<rect x="480.8" y="138.23" width="2.2" height="9.23" fill="#0e76ff"/>
<rect x="482.2" y="138.23" width="2.2" height="9.23" fill="#0c7cff"/>
<rect x="483.6" y="138.23" width="2.2" height="9.23" fill="#0a82ff"/>
<rect x="485.0" y="138.23" width="2.2" height="9.23" fill="#00b5f2"/>
<rect x="486.4" y="138.23" width="2.2" height="9.23" fill="#00dbb8"/>
<rect x="487.8" y="138.23" width="2.2" height="9.23" fill="#2a40e0"/>
<rect x="489.2" y="138.23" width="2.2" height="9.23" fill="#2647e4"/>
<rect x="490.6" y="138.23" width="2.2" height="9.23" fill="#234ee9"/>
<rect x="492.0" y="138.23" width="2.2" height="9.23" fill="#1f55ed"/>
<rect x="493.4" y="138.23" width="2.2" height="9.23" fill="#1b5bf2"/>
<rect x="494.8" y="138.23" width="2.2" height="9.23" fill="#00a8fa"/>
<rect x="496.2" y="138.23" width="2.2" height="9.23" fill="#00cece"/>
<rect x="497.6" y="138.23" width="2.2" height="9.23" fill="#234ee9"/>
<rect x="499.0" y="138.23" width="2.2" height="9.23" fill="#1f55ed"/>
<rect x="500.4" y="138.23" width="2.2" height="9.23" fill="#1b5bf2"/>
<rect x="501.8" y="138.23" width="2.2" height="9.23" fill="#1762f6"/>
<rect x="503.2" y="138.23" width="2.2" height="9.23" fill="#1469fb"/>
<rect x="504.6" y="138.23" width="2.2" height="9.23" fill="#00a3fd"/>
<rect x="506.0" y="138.23" width="2.2" height="9.23" fill="#00bee6"/>
<rect x="507.4" y="138.23" width="2.2" height="9.23" fill="#3333b7"/>
<rect x="508.8" y="138.23" width="2.2" height="9.23" fill="#3135bf"/>
<rect x="510.2" y="138.23" width="2.2" height="9.23" fill="#2f38c7"/>
<rect x="511.6" y="138.23" width="2.2" height="9.23" fill="#2e3bd0"/>
<rect x="513.0" y="138.23" width="2.2" height="9.23" fill="#2c3dd8"/>
<rect x="514.4" y="138.23" width="2.2" height="9.23" fill="#0a82ff"/>
<rect x="515.8" y="138.23" width="2.2" height="9.23" fill="#00b0f5"/>
<rect x="517.2" y="138.23" width="2.2" height="9.23" fill="#2e3bd0"/>
<rect x="518.6" y="138.23" width="2.2" height="9.23" fill="#2c3dd8"/>
<rect x="519.9" y="138.23" width="2.2" height="9.23" fill="#2a40e0"/>
<rect x="521.3" y="138.23" width="2.2" height="9.23" fill="#2647e4"/>
<rect x="522.7" y="138.23" width="2.2" height="9.23" fill="#234ee9"/>
<rect x="524.1" y="138.23" width="2.2" height="9.23" fill="#00abf8"/>
<rect x="525.5" y="138.23" width="2.2" height="9.23" fill="#00dbb8"/>
<rect x="526.9" y="138.23" width="5.0" height="9.23" fill="#0888ff"/>
<rect x="531.1" y="138.23" width="2.2" height="9.23" fill="#234ee9"/>
<rect x="532.5" y="138.23" width="2.2" height="9.23" fill="#1f55ed"/>
<rect x="533.9" y="138.23" width="2.2" height="9.23" fill="#00a5fc"/>
<rect x="535.3" y="138.23" width="2.2" height="9.23" fill="#00cbd3"/>
<rect x="536.7" y="138.23" width="2.2" height="9.23" fill="#2c3dd8"/>
<rect x="538.1" y="138.23" width="2.2" height="9.23" fill="#2a40e0"/>
<rect x="28.9" y="146.87" width="2.2" height="9.23" fill="#00a0ff"/>
<rect x="30.3" y="146.87" width="2.2" height="9.23" fill="#00a3fd"/>
<rect x="31.7" y="146.87" width="2.2" height="9.23" fill="#00a5fc"/>
<rect x="33.1" y="146.87" width="2.2" height="9.23" fill="#00a8fa"/>
<rect x="34.5" y="146.87" width="2.2" height="9.23" fill="#00c2e2"/>
<rect x="35.9" y="146.87" width="2.2" height="9.23" fill="#00f95a"/>
<rect x="37.3" y="146.87" width="2.2" height="9.23" fill="#029aff"/>
<rect x="38.7" y="146.87" width="2.2" height="9.23" fill="#00a0ff"/>
<rect x="40.1" y="146.87" width="2.2" height="9.23" fill="#00a3fd"/>
<rect x="41.5" y="146.87" width="2.2" height="9.23" fill="#00a5fc"/>
<rect x="42.9" y="146.87" width="2.2" height="9.23" fill="#00a8fa"/>
<rect x="44.3" y="146.87" width="2.2" height="9.23" fill="#00c2e2"/>
<rect x="45.7" y="146.87" width="2.2" height="9.23" fill="#00f95a"/>
<rect x="47.1" y="146.87" width="2.2" height="9.23" fill="#029aff"/>
<rect x="48.5" y="146.87" width="2.2" height="9.23" fill="#00a0ff"/>
<rect x="49.9" y="146.87" width="2.2" height="9.23" fill="#00a3fd"/>
<rect x="51.3" y="146.87" width="2.2" height="9.23" fill="#00a5fc"/>
<rect x="52.7" y="146.87" width="2.2" height="9.23" fill="#00a8fa"/>
<rect x="54.1" y="146.87" width="2.2" height="9.23" fill="#00c2e2"/>
<rect x="55.5" y="146.87" width="2.2" height="9.23" fill="#00f95a"/>
<rect x="56.9" y="146.87" width="2.2" height="9.23" fill="#029aff"/>
<rect x="58.3" y="146.87" width="2.2" height="9.23" fill="#00a0ff"/>
<rect x="59.7" y="146.87" width="2.2" height="9.23" fill="#00a3fd"/>
<rect x="61.1" y="146.87" width="2.2" height="9.23" fill="#00a5fc"/>
<rect x="62.5" y="146.87" width="2.2" height="9.23" fill="#00a8fa"/>
<rect x="63.9" y="146.87" width="2.2" height="9.23" fill="#00c2e2"/>
<rect x="65.3" y="146.87" width="2.2" height="9.23" fill="#00f95a"/>
<rect x="66.7" y="146.87" width="6.4" height="9.23" fill="#00a3fd"/>
<rect x="72.3" y="146.87" width="2.2" height="9.23" fill="#00f370"/>
<rect x="73.7" y="146.87" width="2.2" height="9.23" fill="#00fd31"/>
<rect x="75.1" y="146.87" width="2.2" height="9.23" fill="#f0d820"/>
<rect x="76.5" y="146.87" width="2.2" height="9.23" fill="#00e890"/>
<rect x="77.9" y="146.87" width="3.6" height="9.23" fill="#00e0a8"/>
<rect x="80.7" y="146.87" width="2.2" height="9.23" fill="#00f860"/>
<rect x="82.1" y="146.87" width="2.2" height="9.23" fill="#12fd1c"/>
<rect x="83.5" y="146.87" width="2.2" height="9.23" fill="#b5ed00"/>
<rect x="84.9" y="146.87" width="2.2" height="9.23" fill="#fdbd20"/>
<rect x="86.3" y="146.87" width="2.2" height="9.23" fill="#a0f000"/>
<rect x="87.7" y="146.87" width="3.6" height="9.23" fill="#a7ef00"/>
<rect x="90.5" y="146.87" width="2.2" height="9.23" fill="#b5ed00"/>
<rect x="91.9" y="146.87" width="2.2" height="9.23" fill="#fb4600"/>
<rect x="93.3" y="146.87" width="2.2" height="9.23" fill="#f93c00"/>
<rect x="94.7" y="146.87" width="2.2" height="9.23" fill="#fb4600"/>
<rect x="96.1" y="146.87" width="2.2" height="9.23" fill="#24fc19"/>
<rect x="97.5" y="146.87" width="2.2" height="9.23" fill="#35fa15"/>
<rect x="98.8" y="146.87" width="2.2" height="9.23" fill="#47f812"/>
<rect x="100.2" y="146.87" width="2.2" height="9.23" fill="#59f70e"/>
<rect x="101.6" y="146.87" width="2.2" height="9.23" fill="#6bf50b"/>
<rect x="103.0" y="146.87" width="2.2" height="9.23" fill="#f3d320"/>
<rect x="104.4" y="146.87" width="2.2" height="9.23" fill="#fdbd20"/>
<rect x="105.8" y="146.87" width="2.2" height="9.23" fill="#6bf50b"/>
<rect x="107.2" y="146.87" width="2.2" height="9.23" fill="#7cf307"/>
<rect x="108.6" y="146.87" width="2.2" height="9.23" fill="#8ef204"/>
<rect x="110.0" y="146.87" width="2.2" height="9.23" fill="#a0f000"/>
<rect x="111.4" y="146.87" width="2.2" height="9.23" fill="#ffb41e"/>
<rect x="112.8" y="146.87" width="2.2" height="9.23" fill="#f5cd20"/>
<rect x="114.2" y="146.87" width="2.2" height="9.23" fill="#ff6f07"/>
<rect x="115.6" y="146.87" width="2.2" height="9.23" fill="#ffb820"/>
<rect x="117.0" y="146.87" width="2.2" height="9.23" fill="#ffb01d"/>
<rect x="118.4" y="146.87" width="2.2" height="9.23" fill="#ffac1b"/>
<rect x="119.8" y="146.87" width="2.2" height="9.23" fill="#ffa81a"/>
<rect x="121.2" y="146.87" width="2.2" height="9.23" fill="#ffa418"/>
<rect x="122.6" y="146.87" width="2.2" height="9.23" fill="#ff6604"/>
<rect x="124.0" y="146.87" width="2.2" height="9.23" fill="#fe5400"/>
<rect x="125.4" y="146.87" width="2.2" height="9.23" fill="#ffa81a"/>
<rect x="126.8" y="146.87" width="2.2" height="9.23" fill="#ffa016"/>
<rect x="128.2" y="146.87" width="2.2" height="9.23" fill="#ff9c15"/>
<rect x="129.6" y="146.87" width="2.2" height="9.23" fill="#ff9813"/>
<rect x="131.0" y="146.87" width="2.2" height="9.23" fill="#ff9412"/>
<rect x="132.4" y="146.87" width="2.2" height="9.23" fill="#ff5d01"/>
<rect x="133.8" y="146.87" width="2.2" height="9.23" fill="#fd4d00"/>
<rect x="135.2" y="146.87" width="2.2" height="9.23" fill="#ff9813"/>
<rect x="136.6" y="146.87" width="2.2" height="9.23" fill="#ff9010"/>
<rect x="138.0" y="146.87" width="2.2" height="9.23" fill="#ff8b0f"/>
<rect x="139.4" y="146.87" width="2.2" height="9.23" fill="#ff870d"/>
<rect x="140.8" y="146.87" width="2.2" height="9.23" fill="#ff820c"/>
<rect x="142.2" y="146.87" width="2.2" height="9.23" fill="#fa3f00"/>
<rect x="143.6" y="146.87" width="2.2" height="9.23" fill="#f12f00"/>
<rect x="145.0" y="146.87" width="2.2" height="9.23" fill="#ff6f07"/>
<rect x="146.4" y="146.87" width="2.2" height="9.23" fill="#ff6b05"/>
<rect x="147.8" y="146.87" width="2.2" height="9.23" fill="#ff6103"/>
<rect x="149.2" y="146.87" width="2.2" height="9.23" fill="#ff5d01"/>
<rect x="150.6" y="146.87" width="2.2" height="9.23" fill="#ff5800"/>
<rect x="152.0" y="146.87" width="2.2" height="9.23" fill="#f63500"/>
<rect x="153.4" y="146.87" width="2.2" height="9.23" fill="#f83800"/>
<rect x="154.8" y="146.87" width="2.2" height="9.23" fill="#ff7909"/>
<rect x="156.2" y="146.87" width="2.2" height="9.23" fill="#ff7408"/>
<rect x="157.6" y="146.87" width="2.2" height="9.23" fill="#ff6b05"/>
<rect x="159.0" y="146.87" width="2.2" height="9.23" fill="#ff6604"/>
<rect x="160.4" y="146.87" width="2.2" height="9.23" fill="#ff6103"/>
<rect x="161.8" y="146.87" width="2.2" height="9.23" fill="#f93c00"/>
<rect x="163.2" y="146.87" width="2.2" height="9.23" fill="#f12f00"/>
<rect x="164.6" y="146.87" width="2.2" height="9.23" fill="#ff6f07"/>
<rect x="166.0" y="146.87" width="2.2" height="9.23" fill="#ff6b05"/>
<rect x="167.4" y="146.87" width="2.2" height="9.23" fill="#ff6103"/>
<rect x="168.8" y="146.87" width="2.2" height="9.23" fill="#ff5d01"/>
<rect x="170.2" y="146.87" width="2.2" height="9.23" fill="#ff5800"/>
<rect x="171.6" y="146.87" width="2.2" height="9.23" fill="#f83800"/>
<rect x="173.0" y="146.87" width="2.2" height="9.23" fill="#ee2c00"/>
<rect x="174.4" y="146.87" width="2.2" height="9.23" fill="#ff6604"/>
<rect x="175.8" y="146.87" width="2.2" height="9.23" fill="#ff6103"/>
<rect x="177.2" y="146.87" width="2.2" height="9.23" fill="#ff5800"/>
<rect x="178.6" y="146.87" width="2.2" height="9.23" fill="#fe5400"/>
<rect x="180.0" y="146.87" width="2.2" height="9.23" fill="#fd5100"/>
<rect x="181.4" y="146.87" width="2.2" height="9.23" fill="#f33200"/>
<rect x="182.8" y="146.87" width="2.2" height="9.23" fill="#ec2a00"/>
<rect x="184.2" y="146.87" width="2.2" height="9.23" fill="#ff6103"/>
<rect x="185.6" y="146.87" width="2.2" height="9.23" fill="#ff5800"/>
<rect x="187.0" y="146.87" width="2.2" height="9.23" fill="#fe5400"/>
<rect x="188.4" y="146.87" width="3.6" height="9.23" fill="#fd5100"/>
<rect x="191.2" y="146.87" width="2.2" height="9.23" fill="#fc4a00"/>
<rect x="192.6" y="146.87" width="2.2" height="9.23" fill="#fb4600"/>
<rect x="194.0" y="146.87" width="2.2" height="9.23" fill="#f5cd20"/>
<rect x="195.4" y="146.87" width="2.2" height="9.23" fill="#fac320"/>
<rect x="196.8" y="146.87" width="2.2" height="9.23" fill="#fdbd20"/>
<rect x="198.2" y="146.87" width="2.2" height="9.23" fill="#ffb820"/>
<rect x="199.6" y="146.87" width="2.2" height="9.23" fill="#ffb01d"/>
<rect x="201.0" y="146.87" width="2.2" height="9.23" fill="#ff8b0f"/>
<rect x="202.4" y="146.87" width="2.2" height="9.23" fill="#ff7909"/>
<rect x="203.8" y="146.87" width="2.2" height="9.23" fill="#f3d320"/>
<rect x="205.2" y="146.87" width="2.2" height="9.23" fill="#f5cd20"/>
<rect x="206.6" y="146.87" width="2.2" height="9.23" fill="#fac320"/>
<rect x="208.0" y="146.87" width="2.2" height="9.23" fill="#fdbd20"/>
<rect x="209.4" y="146.87" width="2.2" height="9.23" fill="#ffb41e"/>
<rect x="210.8" y="146.87" width="2.2" height="9.23" fill="#ff870d"/>
<rect x="212.2" y="146.87" width="2.2" height="9.23" fill="#ff7408"/>
<rect x="213.6" y="146.87" width="2.2" height="9.23" fill="#b5ed00"/>
<rect x="215.0" y="146.87" width="2.2" height="9.23" fill="#bcec00"/>
<rect x="216.4" y="146.87" width="5.0" height="9.23" fill="#b5ed00"/>
<rect x="220.6" y="146.87" width="2.2" height="9.23" fill="#ff9813"/>
<rect x="222.0" y="146.87" width="2.2" height="9.23" fill="#ff7d0b"/>
<rect x="223.4" y="146.87" width="2.2" height="9.23" fill="#e4e010"/>
<rect x="224.8" y="146.87" width="2.2" height="9.23" fill="#f0d820"/>
<rect x="226.2" y="146.87" width="2.2" height="9.23" fill="#f3d320"/>
<rect x="227.6" y="146.87" width="2.2" height="9.23" fill="#f5cd20"/>
<rect x="229.0" y="146.87" width="2.2" height="9.23" fill="#fac320"/>
<rect x="230.4" y="146.87" width="2.2" height="9.23" fill="#ff9c15"/>
<rect x="231.8" y="146.87" width="2.2" height="9.23" fill="#ff8b0f"/>
<rect x="233.2" y="146.87" width="2.2" height="9.23" fill="#b5ed00"/>
<rect x="234.6" y="146.87" width="2.2" height="9.23" fill="#bcec00"/>
<rect x="236.0" y="146.87" width="2.2" height="9.23" fill="#caea00"/>
<rect x="237.4" y="146.87" width="2.2" height="9.23" fill="#d1e900"/>
<rect x="238.8" y="146.87" width="2.2" height="9.23" fill="#dee408"/>
<rect x="240.1" y="146.87" width="2.2" height="9.23" fill="#ffb820"/>
<rect x="241.5" y="146.87" width="2.2" height="9.23" fill="#ffa81a"/>
<rect x="242.9" y="146.87" width="2.2" height="9.23" fill="#6bf50b"/>
<rect x="244.3" y="146.87" width="2.2" height="9.23" fill="#7cf307"/>
<rect x="245.7" y="146.87" width="2.2" height="9.23" fill="#a0f000"/>
<rect x="247.1" y="146.87" width="2.2" height="9.23" fill="#a7ef00"/>
<rect x="248.5" y="146.87" width="2.2" height="9.23" fill="#b5ed00"/>
<rect x="249.9" y="146.87" width="2.2" height="9.23" fill="#ffb41e"/>
<rect x="251.3" y="146.87" width="2.2" height="9.23" fill="#ffa016"/>
<rect x="252.7" y="146.87" width="2.2" height="9.23" fill="#6bf50b"/>
<rect x="254.1" y="146.87" width="2.2" height="9.23" fill="#7cf307"/>
<rect x="255.5" y="146.87" width="2.2" height="9.23" fill="#a0f000"/>
<rect x="256.9" y="146.87" width="2.2" height="9.23" fill="#a7ef00"/>
<rect x="258.3" y="146.87" width="2.2" height="9.23" fill="#b5ed00"/>
<rect x="259.7" y="146.87" width="2.2" height="9.23" fill="#ffb820"/>
<rect x="261.1" y="146.87" width="2.2" height="9.23" fill="#ffa81a"/>
<rect x="262.5" y="146.87" width="2.2" height="9.23" fill="#24fc19"/>
<rect x="263.9" y="146.87" width="2.2" height="9.23" fill="#35fa15"/>
<rect x="265.3" y="146.87" width="2.2" height="9.23" fill="#59f70e"/>
<rect x="266.7" y="146.87" width="2.2" height="9.23" fill="#6bf50b"/>
<rect x="268.1" y="146.87" width="2.2" height="9.23" fill="#8ef204"/>
<rect x="269.5" y="146.87" width="2.2" height="9.23" fill="#f5cd20"/>
<rect x="270.9" y="146.87" width="2.2" height="9.23" fill="#ffb820"/>
<rect x="272.3" y="146.87" width="2.2" height="9.23" fill="#00eb88"/>
<rect x="273.7" y="146.87" width="2.2" height="9.23" fill="#00ed80"/>
<rect x="275.1" y="146.87" width="2.2" height="9.23" fill="#00f370"/>
<rect x="276.5" y="146.87" width="2.2" height="9.23" fill="#00f568"/>
<rect x="277.9" y="146.87" width="2.2" height="9.23" fill="#00f860"/>
<rect x="279.3" y="146.87" width="2.2" height="9.23" fill="#00fc3d"/>
<rect x="280.7" y="146.87" width="2.2" height="9.23" fill="#00fe2c"/>
<rect x="282.1" y="146.87" width="2.2" height="9.23" fill="#00e0a8"/>
<rect x="283.5" y="146.87" width="2.2" height="9.23" fill="#00e3a0"/>
<rect x="284.9" y="146.87" width="2.2" height="9.23" fill="#00e890"/>
<rect x="286.3" y="146.87" width="2.2" height="9.23" fill="#00eb88"/>
<rect x="287.7" y="146.87" width="2.2" height="9.23" fill="#00ed80"/>
<rect x="289.1" y="146.87" width="2.2" height="9.23" fill="#a0f000"/>
<rect x="290.5" y="146.87" width="2.2" height="9.23" fill="#d1e900"/>
<rect x="291.9" y="146.87" width="2.2" height="9.23" fill="#00c2e2"/>
<rect x="293.3" y="146.87" width="2.2" height="9.23" fill="#00c5dd"/>
<rect x="294.7" y="146.87" width="2.2" height="9.23" fill="#00cbd3"/>
<rect x="296.1" y="146.87" width="2.2" height="9.23" fill="#00cece"/>
<rect x="297.5" y="146.87" width="2.2" height="9.23" fill="#00d2ca"/>
<rect x="298.9" y="146.87" width="2.2" height="9.23" fill="#00f95a"/>
<rect x="300.3" y="146.87" width="2.2" height="9.23" fill="#00fc3d"/>
<rect x="301.7" y="146.87" width="2.2" height="9.23" fill="#00a5fc"/>
<rect x="303.1" y="146.87" width="2.2" height="9.23" fill="#00a8fa"/>
<rect x="304.5" y="146.87" width="2.2" height="9.23" fill="#00adf7"/>
<rect x="305.9" y="146.87" width="3.6" height="9.23" fill="#00b0f5"/>
<rect x="308.7" y="146.87" width="2.2" height="9.23" fill="#00cbd3"/>
<rect x="310.1" y="146.87" width="2.2" height="9.23" fill="#00e598"/>
<rect x="311.5" y="146.87" width="2.2" height="9.23" fill="#0494ff"/>
<rect x="312.9" y="146.87" width="2.2" height="9.23" fill="#029aff"/>
<rect x="314.3" y="146.87" width="2.2" height="9.23" fill="#00a0ff"/>
<rect x="315.7" y="146.87" width="3.6" height="9.23" fill="#00a3fd"/>
<rect x="318.5" y="146.87" width="2.2" height="9.23" fill="#00c5dd"/>
<rect x="319.9" y="146.87" width="2.2" height="9.23" fill="#00e890"/>
<rect x="321.3" y="146.87" width="2.2" height="9.23" fill="#0e76ff"/>
<rect x="322.7" y="146.87" width="2.2" height="9.23" fill="#0c7cff"/>
<rect x="324.1" y="146.87" width="2.2" height="9.23" fill="#0a82ff"/>
<rect x="325.5" y="146.87" width="3.6" height="9.23" fill="#0888ff"/>
<rect x="328.3" y="146.87" width="2.2" height="9.23" fill="#00a3fd"/>
<rect x="329.7" y="146.87" width="2.2" height="9.23" fill="#00b0f5"/>
<rect x="331.1" y="146.87" width="2.2" height="9.23" fill="#1f55ed"/>
<rect x="332.5" y="146.87" width="2.2" height="9.23" fill="#1b5bf2"/>
<rect x="333.9" y="146.87" width="2.2" height="9.23" fill="#1762f6"/>
<rect x="335.3" y="146.87" width="3.6" height="9.23" fill="#1469fb"/>
<rect x="338.1" y="146.87" width="2.2" height="9.23" fill="#00a3fd"/>
<rect x="339.5" y="146.87" width="2.2" height="9.23" fill="#00bee6"/>
<rect x="340.9" y="146.87" width="2.2" height="9.23" fill="#2647e4"/>
<rect x="342.3" y="146.87" width="2.2" height="9.23" fill="#234ee9"/>
<rect x="343.7" y="146.87" width="2.2" height="9.23" fill="#1f55ed"/>
<rect x="345.1" y="146.87" width="2.2" height="9.23" fill="#0494ff"/>
<rect x="346.5" y="146.87" width="2.2" height="9.23" fill="#1b5bf2"/>
<rect x="347.9" y="146.87" width="2.2" height="9.23" fill="#00b5f2"/>
<rect x="349.3" y="146.87" width="2.2" height="9.23" fill="#00e890"/>
<rect x="350.7" y="146.87" width="2.2" height="9.23" fill="#1762f6"/>
<rect x="352.1" y="146.87" width="2.2" height="9.23" fill="#1469fb"/>
<rect x="353.5" y="146.87" width="2.2" height="9.23" fill="#1070ff"/>
<rect x="354.9" y="146.87" width="3.6" height="9.23" fill="#0e76ff"/>
<rect x="357.7" y="146.87" width="2.2" height="9.23" fill="#00c5dd"/>
<rect x="359.1" y="146.87" width="2.2" height="9.23" fill="#00f568"/>
<rect x="360.5" y="146.87" width="2.2" height="9.23" fill="#00a3fd"/>
<rect x="361.9" y="146.87" width="2.2" height="9.23" fill="#00a5fc"/>
<rect x="363.3" y="146.87" width="2.2" height="9.23" fill="#00a8fa"/>
<rect x="364.7" y="146.87" width="2.2" height="9.23" fill="#00abf8"/>
<rect x="366.1" y="146.87" width="2.2" height="9.23" fill="#00adf7"/>
<rect x="367.5" y="146.87" width="2.2" height="9.23" fill="#00ed80"/>
<rect x="368.9" y="146.87" width="2.2" height="9.23" fill="#59f70e"/>
<rect x="370.3" y="146.87" width="2.2" height="9.23" fill="#00c5dd"/>
<rect x="371.7" y="146.87" width="2.2" height="9.23" fill="#00c8d8"/>
<rect x="373.1" y="146.87" width="2.2" height="9.23" fill="#00cbd3"/>
<rect x="374.5" y="146.87" width="2.2" height="9.23" fill="#00cece"/>
<rect x="375.9" y="146.87" width="2.2" height="9.23" fill="#00d2ca"/>
<rect x="377.3" y="146.87" width="2.2" height="9.23" fill="#00fc37"/>
<rect x="378.6" y="146.87" width="2.2" height="9.23" fill="#caea00"/>
<rect x="380.0" y="146.87" width="2.2" height="9.23" fill="#00ddb0"/>
<rect x="381.4" y="146.87" width="2.2" height="9.23" fill="#00e0a8"/>
<rect x="382.8" y="146.87" width="2.2" height="9.23" fill="#00e3a0"/>
<rect x="384.2" y="146.87" width="2.2" height="9.23" fill="#00e598"/>
<rect x="385.6" y="146.87" width="2.2" height="9.23" fill="#00e890"/>
<rect x="387.0" y="146.87" width="2.2" height="9.23" fill="#00fc37"/>
<rect x="388.4" y="146.87" width="2.2" height="9.23" fill="#7cf307"/>
<rect x="389.8" y="146.87" width="2.2" height="9.23" fill="#00e598"/>
<rect x="391.2" y="146.87" width="2.2" height="9.23" fill="#00e890"/>
<rect x="392.6" y="146.87" width="2.2" height="9.23" fill="#00eb88"/>
<rect x="394.0" y="146.87" width="2.2" height="9.23" fill="#00ed80"/>
<rect x="395.4" y="146.87" width="2.2" height="9.23" fill="#00f078"/>
<rect x="396.8" y="146.87" width="2.2" height="9.23" fill="#aeee00"/>
<rect x="398.2" y="146.87" width="2.2" height="9.23" fill="#ff9010"/>
<rect x="399.6" y="146.87" width="2.2" height="9.23" fill="#ff9c15"/>
<rect x="401.0" y="146.87" width="2.2" height="9.23" fill="#ff9813"/>
<rect x="402.4" y="146.87" width="2.2" height="9.23" fill="#ffa016"/>
<rect x="403.8" y="146.87" width="5.0" height="9.23" fill="#00fb43"/>
<rect x="408.0" y="146.87" width="2.2" height="9.23" fill="#d1e900"/>
<rect x="409.4" y="146.87" width="2.2" height="9.23" fill="#24fc19"/>
<rect x="410.8" y="146.87" width="2.2" height="9.23" fill="#35fa15"/>
<rect x="412.2" y="146.87" width="2.2" height="9.23" fill="#47f812"/>
<rect x="413.6" y="146.87" width="2.2" height="9.23" fill="#c3eb00"/>
<rect x="415.0" y="146.87" width="2.2" height="9.23" fill="#59f70e"/>
<rect x="416.4" y="146.87" width="2.2" height="9.23" fill="#d1e900"/>
<rect x="417.8" y="146.87" width="2.2" height="9.23" fill="#fdbd20"/>
<rect x="419.2" y="146.87" width="2.2" height="9.23" fill="#59f70e"/>
<rect x="420.6" y="146.87" width="2.2" height="9.23" fill="#6bf50b"/>
<rect x="422.0" y="146.87" width="2.2" height="9.23" fill="#7cf307"/>
<rect x="423.4" y="146.87" width="3.6" height="9.23" fill="#8ef204"/>
<rect x="426.2" y="146.87" width="2.2" height="9.23" fill="#dee408"/>
<rect x="427.6" y="146.87" width="2.2" height="9.23" fill="#ffb41e"/>
<rect x="429.0" y="146.87" width="2.2" height="9.23" fill="#7cf307"/>
<rect x="430.4" y="146.87" width="2.2" height="9.23" fill="#8ef204"/>
<rect x="431.8" y="146.87" width="2.2" height="9.23" fill="#a0f000"/>
<rect x="433.2" y="146.87" width="3.6" height="9.23" fill="#a7ef00"/>
<rect x="436.0" y="146.87" width="2.2" height="9.23" fill="#f3d320"/>
<rect x="437.4" y="146.87" width="2.2" height="9.23" fill="#ffa418"/>
<rect x="438.8" y="146.87" width="2.2" height="9.23" fill="#59f70e"/>
<rect x="440.2" y="146.87" width="2.2" height="9.23" fill="#6bf50b"/>
<rect x="441.6" y="146.87" width="2.2" height="9.23" fill="#7cf307"/>
<rect x="443.0" y="146.87" width="3.6" height="9.23" fill="#8ef204"/>
<rect x="445.8" y="146.87" width="2.2" height="9.23" fill="#d8e800"/>
<rect x="447.2" y="146.87" width="2.2" height="9.23" fill="#fdbd20"/>
<rect x="448.6" y="146.87" width="2.2" height="9.23" fill="#00fb43"/>
<rect x="450.0" y="146.87" width="2.2" height="9.23" fill="#00fc3d"/>
<rect x="451.4" y="146.87" width="2.2" height="9.23" fill="#00fc37"/>
<rect x="452.8" y="146.87" width="2.2" height="9.23" fill="#00fd31"/>
<rect x="454.2" y="146.87" width="2.2" height="9.23" fill="#00fe2c"/>
<rect x="455.6" y="146.87" width="2.2" height="9.23" fill="#7cf307"/>
<rect x="457.0" y="146.87" width="2.2" height="9.23" fill="#d8e800"/>
<rect x="458.4" y="146.87" width="2.2" height="9.23" fill="#00f568"/>
<rect x="459.8" y="146.87" width="2.2" height="9.23" fill="#00f860"/>
<rect x="461.2" y="146.87" width="2.2" height="9.23" fill="#00f95a"/>
<rect x="462.6" y="146.87" width="2.2" height="9.23" fill="#00f954"/>
<rect x="464.0" y="146.87" width="2.2" height="9.23" fill="#00fa4f"/>
<rect x="465.4" y="146.87" width="2.2" height="9.23" fill="#35fa15"/>
<rect x="466.8" y="146.87" width="2.2" height="9.23" fill="#c3eb00"/>
<rect x="468.2" y="146.87" width="2.2" height="9.23" fill="#00eb88"/>
<rect x="469.6" y="146.87" width="2.2" height="9.23" fill="#00ed80"/>
<rect x="471.0" y="146.87" width="2.2" height="9.23" fill="#00f078"/>
<rect x="472.4" y="146.87" width="2.2" height="9.23" fill="#00f370"/>
<rect x="473.8" y="146.87" width="2.2" height="9.23" fill="#00f568"/>
<rect x="475.2" y="146.87" width="2.2" height="9.23" fill="#00fe26"/>
<rect x="476.6" y="146.87" width="2.2" height="9.23" fill="#a7ef00"/>
<rect x="478.0" y="146.87" width="2.2" height="9.23" fill="#00ddb0"/>
<rect x="479.4" y="146.87" width="2.2" height="9.23" fill="#00e0a8"/>
<rect x="480.8" y="146.87" width="2.2" height="9.23" fill="#00e3a0"/>
<rect x="482.2" y="146.87" width="2.2" height="9.23" fill="#00e598"/>
<rect x="483.6" y="146.87" width="2.2" height="9.23" fill="#00e890"/>
<rect x="485.0" y="146.87" width="2.2" height="9.23" fill="#00fb43"/>
<rect x="486.4" y="146.87" width="2.2" height="9.23" fill="#47f812"/>
<rect x="487.8" y="146.87" width="2.2" height="9.23" fill="#00cbd3"/>
<rect x="489.2" y="146.87" width="2.2" height="9.23" fill="#00cece"/>
<rect x="490.6" y="146.87" width="2.2" height="9.23" fill="#00d2ca"/>
<rect x="492.0" y="146.87" width="2.2" height="9.23" fill="#00d5c5"/>
<rect x="493.4" y="146.87" width="2.2" height="9.23" fill="#00d8c0"/>
<rect x="494.8" y="146.87" width="2.2" height="9.23" fill="#00f860"/>
<rect x="496.2" y="146.87" width="2.2" height="9.23" fill="#00ff20"/>
<rect x="497.6" y="146.87" width="2.2" height="9.23" fill="#00c2e2"/>
<rect x="499.0" y="146.87" width="2.2" height="9.23" fill="#00c5dd"/>
<rect x="500.4" y="146.87" width="2.2" height="9.23" fill="#00c8d8"/>
<rect x="501.8" y="146.87" width="3.6" height="9.23" fill="#00cbd3"/>
<rect x="504.6" y="146.87" width="2.2" height="9.23" fill="#00e890"/>
<rect x="506.0" y="146.87" width="2.2" height="9.23" fill="#00fb49"/>
<rect x="507.4" y="146.87" width="2.2" height="9.23" fill="#00adf7"/>
<rect x="508.8" y="146.87" width="2.2" height="9.23" fill="#00b0f5"/>
<rect x="510.2" y="146.87" width="2.2" height="9.23" fill="#00b3f3"/>
<rect x="511.6" y="146.87" width="3.6" height="9.23" fill="#00b5f2"/>
<rect x="514.4" y="146.87" width="2.2" height="9.23" fill="#00dbb8"/>
<rect x="515.8" y="146.87" width="2.2" height="9.23" fill="#00f568"/>
<rect x="517.2" y="146.87" width="2.2" height="9.23" fill="#00b5f2"/>
<rect x="518.6" y="146.87" width="2.2" height="9.23" fill="#00b8f0"/>
<rect x="519.9" y="146.87" width="2.2" height="9.23" fill="#00bbeb"/>
<rect x="521.3" y="146.87" width="2.2" height="9.23" fill="#00bee6"/>
<rect x="522.7" y="146.87" width="2.2" height="9.23" fill="#00c2e2"/>
<rect x="524.1" y="146.87" width="2.2" height="9.23" fill="#00f370"/>
<rect x="525.5" y="146.87" width="2.2" height="9.23" fill="#24fc19"/>
<rect x="526.9" y="146.87" width="5.0" height="9.23" fill="#00dbb8"/>
<rect x="531.1" y="146.87" width="3.6" height="9.23" fill="#00c2e2"/>
<rect x="533.9" y="146.87" width="2.2" height="9.23" fill="#00eb88"/>
<rect x="535.3" y="146.87" width="2.2" height="9.23" fill="#00fd31"/>
<rect x="536.7" y="146.87" width="2.2" height="9.23" fill="#00b8f0"/>
<rect x="538.1" y="146.87" width="2.2" height="9.23" fill="#00bbeb"/>
<rect x="28.9" y="155.50" width="2.2" height="9.23" fill="#00c8d8"/>
<rect x="30.3" y="155.50" width="2.2" height="9.23" fill="#00cbd3"/>
<rect x="31.7" y="155.50" width="2.2" height="9.23" fill="#00cece"/>
<rect x="33.1" y="155.50" width="2.2" height="9.23" fill="#00d2ca"/>
<rect x="34.5" y="155.50" width="2.2" height="9.23" fill="#00e890"/>
<rect x="35.9" y="155.50" width="2.2" height="9.23" fill="#24fc19"/>
<rect x="37.3" y="155.50" width="2.2" height="9.23" fill="#00c5dd"/>
<rect x="38.7" y="155.50" width="2.2" height="9.23" fill="#00c8d8"/>
<rect x="40.1" y="155.50" width="2.2" height="9.23" fill="#00cbd3"/>
<rect x="41.5" y="155.50" width="2.2" height="9.23" fill="#00cece"/>
<rect x="42.9" y="155.50" width="2.2" height="9.23" fill="#00d2ca"/>
<rect x="44.3" y="155.50" width="2.2" height="9.23" fill="#00e890"/>
<rect x="45.7" y="155.50" width="2.2" height="9.23" fill="#24fc19"/>
<rect x="47.1" y="155.50" width="2.2" height="9.23" fill="#00c5dd"/>
<rect x="48.5" y="155.50" width="2.2" height="9.23" fill="#00c8d8"/>
<rect x="49.9" y="155.50" width="2.2" height="9.23" fill="#00cbd3"/>
<rect x="51.3" y="155.50" width="2.2" height="9.23" fill="#00cece"/>
<rect x="52.7" y="155.50" width="2.2" height="9.23" fill="#00d2ca"/>
<rect x="54.1" y="155.50" width="2.2" height="9.23" fill="#00e890"/>
<rect x="55.5" y="155.50" width="2.2" height="9.23" fill="#24fc19"/>
<rect x="56.9" y="155.50" width="2.2" height="9.23" fill="#00c5dd"/>
<rect x="58.3" y="155.50" width="2.2" height="9.23" fill="#00c8d8"/>
<rect x="59.7" y="155.50" width="2.2" height="9.23" fill="#00cbd3"/>
<rect x="61.1" y="155.50" width="2.2" height="9.23" fill="#00cece"/>
<rect x="62.5" y="155.50" width="2.2" height="9.23" fill="#00d2ca"/>
<rect x="63.9" y="155.50" width="2.2" height="9.23" fill="#00e890"/>
<rect x="65.3" y="155.50" width="2.2" height="9.23" fill="#24fc19"/>
<rect x="66.7" y="155.50" width="6.4" height="9.23" fill="#00cbd3"/>
<rect x="72.3" y="155.50" width="2.2" height="9.23" fill="#00fd31"/>
<rect x="73.7" y="155.50" width="2.2" height="9.23" fill="#7cf307"/>
<rect x="75.1" y="155.50" width="2.2" height="9.23" fill="#ffa81a"/>
<rect x="76.5" y="155.50" width="2.2" height="9.23" fill="#00fb49"/>
<rect x="77.9" y="155.50" width="3.6" height="9.23" fill="#00f95a"/>
<rect x="80.7" y="155.50" width="2.2" height="9.23" fill="#00fe26"/>
<rect x="82.1" y="155.50" width="2.2" height="9.23" fill="#aeee00"/>
<rect x="83.5" y="155.50" width="2.2" height="9.23" fill="#f3d320"/>
<rect x="84.9" y="155.50" width="2.2" height="9.23" fill="#ff9412"/>
<rect x="86.3" y="155.50" width="2.2" height="9.23" fill="#dee408"/>
<rect x="87.7" y="155.50" width="3.6" height="9.23" fill="#e4e010"/>
<rect x="90.5" y="155.50" width="2.2" height="9.23" fill="#f0d820"/>
<rect x="91.9" y="155.50" width="2.2" height="9.23" fill="#e72400"/>
<rect x="93.3" y="155.50" width="2.2" height="9.23" fill="#dc1b00"/>
<rect x="94.7" y="155.50" width="2.2" height="9.23" fill="#e72400"/>
<rect x="96.1" y="155.50" width="2.2" height="9.23" fill="#c3eb00"/>
<rect x="97.5" y="155.50" width="2.2" height="9.23" fill="#caea00"/>
<rect x="98.8" y="155.50" width="2.2" height="9.23" fill="#d1e900"/>
<rect x="100.2" y="155.50" width="2.2" height="9.23" fill="#d8e800"/>
<rect x="101.6" y="155.50" width="2.2" height="9.23" fill="#dee408"/>
<rect x="103.0" y="155.50" width="2.2" height="9.23" fill="#ff9c15"/>
<rect x="104.4" y="155.50" width="2.2" height="9.23" fill="#ff8b0f"/>
<rect x="105.8" y="155.50" width="2.2" height="9.23" fill="#dee408"/>
<rect x="107.2" y="155.50" width="2.2" height="9.23" fill="#e4e010"/>
<rect x="108.6" y="155.50" width="2.2" height="9.23" fill="#eadc18"/>
<rect x="110.0" y="155.50" width="2.2" height="9.23" fill="#f0d820"/>
<rect x="111.4" y="155.50" width="2.2" height="9.23" fill="#ff9010"/>
<rect x="112.8" y="155.50" width="2.2" height="9.23" fill="#ffa81a"/>
<rect x="114.2" y="155.50" width="2.2" height="9.23" fill="#fa3f00"/>
<rect x="115.6" y="155.50" width="2.2" height="9.23" fill="#ffa016"/>
<rect x="117.0" y="155.50" width="2.2" height="9.23" fill="#ff9813"/>
<rect x="118.4" y="155.50" width="2.2" height="9.23" fill="#ff9412"/>
<rect x="119.8" y="155.50" width="2.2" height="9.23" fill="#ff9010"/>
<rect x="121.2" y="155.50" width="2.2" height="9.23" fill="#ff870d"/>
<rect x="122.6" y="155.50" width="2.2" height="9.23" fill="#f93c00"/>
<rect x="124.0" y="155.50" width="2.2" height="9.23" fill="#ee2c00"/>
<rect x="125.4" y="155.50" width="2.2" height="9.23" fill="#ff9010"/>
<rect x="126.8" y="155.50" width="2.2" height="9.23" fill="#ff870d"/>
<rect x="128.2" y="155.50" width="2.2" height="9.23" fill="#ff820c"/>
<rect x="129.6" y="155.50" width="2.2" height="9.23" fill="#ff7d0b"/>
<rect x="131.0" y="155.50" width="2.2" height="9.23" fill="#ff7408"/>
<rect x="132.4" y="155.50" width="2.2" height="9.23" fill="#f63500"/>
<rect x="133.8" y="155.50" width="2.2" height="9.23" fill="#e92700"/>
<rect x="135.2" y="155.50" width="2.2" height="9.23" fill="#ff7d0b"/>
<rect x="136.6" y="155.50" width="2.2" height="9.23" fill="#ff7408"/>
<rect x="138.0" y="155.50" width="2.2" height="9.23" fill="#ff6f07"/>
<rect x="139.4" y="155.50" width="2.2" height="9.23" fill="#ff6b05"/>
<rect x="140.8" y="155.50" width="2.2" height="9.23" fill="#ff6103"/>
<rect x="142.2" y="155.50" width="2.2" height="9.23" fill="#e21e00"/>
<rect x="143.6" y="155.50" width="2.2" height="9.23" fill="#c00c00"/>
<rect x="145.0" y="155.50" width="2.2" height="9.23" fill="#fe5400"/>
<rect x="146.4" y="155.50" width="2.2" height="9.23" fill="#fd5100"/>
<rect x="147.8" y="155.50" width="2.2" height="9.23" fill="#fc4a00"/>
<rect x="149.2" y="155.50" width="2.2" height="9.23" fill="#fa4300"/>
<rect x="150.6" y="155.50" width="2.2" height="9.23" fill="#fa3f00"/>
<rect x="152.0" y="155.50" width="2.2" height="9.23" fill="#cb1200"/>
<rect x="153.4" y="155.50" width="2.2" height="9.23" fill="#ac0800"/>
<rect x="154.8" y="155.50" width="2.2" height="9.23" fill="#fa4300"/>
<rect x="156.2" y="155.50" width="2.2" height="9.23" fill="#f93c00"/>
<rect x="157.6" y="155.50" width="2.2" height="9.23" fill="#f83800"/>
<rect x="159.0" y="155.50" width="2.2" height="9.23" fill="#f63500"/>
<rect x="160.4" y="155.50" width="2.2" height="9.23" fill="#f12f00"/>
<rect x="161.8" y="155.50" width="2.2" height="9.23" fill="#b60a00"/>
<rect x="163.2" y="155.50" width="2.2" height="9.23" fill="#8f0300"/>
<rect x="164.6" y="155.50" width="2.2" height="9.23" fill="#f93c00"/>
<rect x="166.0" y="155.50" width="2.2" height="9.23" fill="#f63500"/>
<rect x="167.4" y="155.50" width="2.2" height="9.23" fill="#f33200"/>
<rect x="168.8" y="155.50" width="2.2" height="9.23" fill="#f12f00"/>
<rect x="170.2" y="155.50" width="2.2" height="9.23" fill="#ec2a00"/>
<rect x="171.6" y="155.50" width="2.2" height="9.23" fill="#ac0800"/>
<rect x="173.0" y="155.50" width="2.2" height="9.23" fill="#860100"/>
<rect x="174.4" y="155.50" width="2.2" height="9.23" fill="#f63500"/>
<rect x="175.8" y="155.50" width="2.2" height="9.23" fill="#f12f00"/>
<rect x="177.2" y="155.50" width="2.2" height="9.23" fill="#ee2c00"/>
<rect x="178.6" y="155.50" width="2.2" height="9.23" fill="#ec2a00"/>
<rect x="180.0" y="155.50" width="2.2" height="9.23" fill="#e72400"/>
<rect x="181.4" y="155.50" width="2.2" height="9.23" fill="#a20600"/>
<rect x="182.8" y="155.50" width="2.2" height="9.23" fill="#7d0000"/>
<rect x="184.2" y="155.50" width="2.2" height="9.23" fill="#f33200"/>
<rect x="185.6" y="155.50" width="2.2" height="9.23" fill="#f12f00"/>
<rect x="187.0" y="155.50" width="2.2" height="9.23" fill="#ec2a00"/>
<rect x="188.4" y="155.50" width="2.2" height="9.23" fill="#e72400"/>
<rect x="189.8" y="155.50" width="2.2" height="9.23" fill="#e42100"/>
<rect x="191.2" y="155.50" width="2.2" height="9.23" fill="#d71800"/>
<rect x="192.6" y="155.50" width="2.2" height="9.23" fill="#cb1200"/>
<rect x="194.0" y="155.50" width="2.2" height="9.23" fill="#ffa016"/>
<rect x="195.4" y="155.50" width="2.2" height="9.23" fill="#ff9813"/>
<rect x="196.8" y="155.50" width="2.2" height="9.23" fill="#ff9412"/>
<rect x="198.2" y="155.50" width="2.2" height="9.23" fill="#ff9010"/>
<rect x="199.6" y="155.50" width="2.2" height="9.23" fill="#ff870d"/>
<rect x="201.0" y="155.50" width="2.2" height="9.23" fill="#fe5400"/>
<rect x="202.4" y="155.50" width="2.2" height="9.23" fill="#fb4600"/>
<rect x="203.8" y="155.50" width="2.2" height="9.23" fill="#ffa418"/>
<rect x="205.2" y="155.50" width="2.2" height="9.23" fill="#ffa016"/>
<rect x="206.6" y="155.50" width="2.2" height="9.23" fill="#ff9813"/>
<rect x="208.0" y="155.50" width="2.2" height="9.23" fill="#ff9010"/>
<rect x="209.4" y="155.50" width="2.2" height="9.23" fill="#ff8b0f"/>
<rect x="210.8" y="155.50" width="2.2" height="9.23" fill="#fd5100"/>
<rect x="212.2" y="155.50" width="2.2" height="9.23" fill="#fa4300"/>
<rect x="213.6" y="155.50" width="2.2" height="9.23" fill="#f3d320"/>
<rect x="215.0" y="155.50" width="2.2" height="9.23" fill="#f5cd20"/>
<rect x="216.4" y="155.50" width="5.0" height="9.23" fill="#f3d320"/>
<rect x="220.6" y="155.50" width="2.2" height="9.23" fill="#ff6103"/>
<rect x="222.0" y="155.50" width="2.2" height="9.23" fill="#fc4a00"/>
<rect x="223.4" y="155.50" width="2.2" height="9.23" fill="#ffb01d"/>
<rect x="224.8" y="155.50" width="2.2" height="9.23" fill="#ffa81a"/>
<rect x="226.2" y="155.50" width="2.2" height="9.23" fill="#ffa418"/>
<rect x="227.6" y="155.50" width="2.2" height="9.23" fill="#ffa016"/>
<rect x="229.0" y="155.50" width="2.2" height="9.23" fill="#ff9813"/>
<rect x="230.4" y="155.50" width="2.2" height="9.23" fill="#ff6604"/>
<rect x="231.8" y="155.50" width="2.2" height="9.23" fill="#fe5400"/>
<rect x="233.2" y="155.50" width="2.2" height="9.23" fill="#f3d320"/>
<rect x="234.6" y="155.50" width="2.2" height="9.23" fill="#f5cd20"/>
<rect x="236.0" y="155.50" width="2.2" height="9.23" fill="#fac320"/>
<rect x="237.4" y="155.50" width="2.2" height="9.23" fill="#ffb820"/>
<rect x="238.8" y="155.50" width="2.2" height="9.23" fill="#ffb41e"/>
<rect x="240.1" y="155.50" width="2.2" height="9.23" fill="#ff870d"/>
<rect x="241.5" y="155.50" width="2.2" height="9.23" fill="#ff7408"/>
<rect x="242.9" y="155.50" width="2.2" height="9.23" fill="#bcec00"/>
<rect x="244.3" y="155.50" width="2.2" height="9.23" fill="#caea00"/>
<rect x="245.7" y="155.50" width="2.2" height="9.23" fill="#d1e900"/>
<rect x="247.1" y="155.50" width="2.2" height="9.23" fill="#d8e800"/>
<rect x="248.5" y="155.50" width="2.2" height="9.23" fill="#e4e010"/>
<rect x="249.9" y="155.50" width="2.2" height="9.23" fill="#ff9412"/>
<rect x="251.3" y="155.50" width="2.2" height="9.23" fill="#ff7d0b"/>
<rect x="252.7" y="155.50" width="2.2" height="9.23" fill="#bcec00"/>
<rect x="254.1" y="155.50" width="2.2" height="9.23" fill="#caea00"/>
<rect x="255.5" y="155.50" width="2.2" height="9.23" fill="#d1e900"/>
<rect x="256.9" y="155.50" width="2.2" height="9.23" fill="#d8e800"/>
<rect x="258.3" y="155.50" width="2.2" height="9.23" fill="#e4e010"/>
<rect x="259.7" y="155.50" width="2.2" height="9.23" fill="#ff9c15"/>
<rect x="261.1" y="155.50" width="2.2" height="9.23" fill="#ff870d"/>
<rect x="262.5" y="155.50" width="2.2" height="9.23" fill="#a0f000"/>
<rect x="263.9" y="155.50" width="2.2" height="9.23" fill="#aeee00"/>
<rect x="265.3" y="155.50" width="2.2" height="9.23" fill="#b5ed00"/>
<rect x="266.7" y="155.50" width="2.2" height="9.23" fill="#bcec00"/>
<rect x="268.1" y="155.50" width="2.2" height="9.23" fill="#caea00"/>
<rect x="269.5" y="155.50" width="2.2" height="9.23" fill="#ffac1b"/>
<rect x="270.9" y="155.50" width="2.2" height="9.23" fill="#ff9813"/>
<rect x="272.3" y="155.50" width="2.2" height="9.23" fill="#00f954"/>
<rect x="273.7" y="155.50" width="2.2" height="9.23" fill="#00fb49"/>
<rect x="275.1" y="155.50" width="2.2" height="9.23" fill="#00fb43"/>
<rect x="276.5" y="155.50" width="2.2" height="9.23" fill="#00fc3d"/>
<rect x="277.9" y="155.50" width="2.2" height="9.23" fill="#00fd31"/>
<rect x="279.3" y="155.50" width="2.2" height="9.23" fill="#8ef204"/>
<rect x="280.7" y="155.50" width="2.2" height="9.23" fill="#b5ed00"/>
<rect x="282.1" y="155.50" width="2.2" height="9.23" fill="#00f370"/>
<rect x="283.5" y="155.50" width="2.2" height="9.23" fill="#00f860"/>
<rect x="284.9" y="155.50" width="2.2" height="9.23" fill="#00f95a"/>
<rect x="286.3" y="155.50" width="2.2" height="9.23" fill="#00f954"/>
<rect x="287.7" y="155.50" width="2.2" height="9.23" fill="#00fb49"/>
<rect x="289.1" y="155.50" width="2.2" height="9.23" fill="#f3d320"/>
<rect x="290.5" y="155.50" width="2.2" height="9.23" fill="#ffac1b"/>
<rect x="291.9" y="155.50" width="2.2" height="9.23" fill="#00d8c0"/>
<rect x="293.3" y="155.50" width="2.2" height="9.23" fill="#00ddb0"/>
<rect x="294.7" y="155.50" width="2.2" height="9.23" fill="#00e0a8"/>
<rect x="296.1" y="155.50" width="2.2" height="9.23" fill="#00e3a0"/>
<rect x="297.5" y="155.50" width="2.2" height="9.23" fill="#00e890"/>
<rect x="298.9" y="155.50" width="2.2" height="9.23" fill="#35fa15"/>
<rect x="300.3" y="155.50" width="2.2" height="9.23" fill="#a0f000"/>
<rect x="301.7" y="155.50" width="2.2" height="9.23" fill="#00b5f2"/>
<rect x="303.1" y="155.50" width="2.2" height="9.23" fill="#00b8f0"/>
<rect x="304.5" y="155.50" width="2.2" height="9.23" fill="#00bee6"/>
<rect x="305.9" y="155.50" width="3.6" height="9.23" fill="#00c5dd"/>
<rect x="308.7" y="155.50" width="2.2" height="9.23" fill="#00e598"/>
<rect x="310.1" y="155.50" width="2.2" height="9.23" fill="#00fa4f"/>
<rect x="311.5" y="155.50" width="2.2" height="9.23" fill="#00abf8"/>
<rect x="312.9" y="155.50" width="2.2" height="9.23" fill="#00adf7"/>
<rect x="314.3" y="155.50" width="2.2" height="9.23" fill="#00b0f5"/>
<rect x="315.7" y="155.50" width="2.2" height="9.23" fill="#00b3f3"/>
<rect x="317.1" y="155.50" width="2.2" height="9.23" fill="#00b5f2"/>
<rect x="318.5" y="155.50" width="2.2" height="9.23" fill="#00e0a8"/>
<rect x="319.9" y="155.50" width="2.2" height="9.23" fill="#00fb49"/>
<rect x="321.3" y="155.50" width="2.2" height="9.23" fill="#029aff"/>
<rect x="322.7" y="155.50" width="2.2" height="9.23" fill="#00a0ff"/>
<rect x="324.1" y="155.50" width="2.2" height="9.23" fill="#00a3fd"/>
<rect x="325.5" y="155.50" width="2.2" height="9.23" fill="#00a5fc"/>
<rect x="326.9" y="155.50" width="2.2" height="9.23" fill="#00a8fa"/>
<rect x="328.3" y="155.50" width="2.2" height="9.23" fill="#00b8f0"/>
<rect x="329.7" y="155.50" width="2.2" height="9.23" fill="#00cece"/>
<rect x="331.1" y="155.50" width="2.2" height="9.23" fill="#0c7cff"/>
<rect x="332.5" y="155.50" width="2.2" height="9.23" fill="#0a82ff"/>
<rect x="333.9" y="155.50" width="2.2" height="9.23" fill="#0888ff"/>
<rect x="335.3" y="155.50" width="2.2" height="9.23" fill="#068eff"/>
<rect x="336.7" y="155.50" width="2.2" height="9.23" fill="#0494ff"/>
<rect x="338.1" y="155.50" width="2.2" height="9.23" fill="#00bbeb"/>
<rect x="339.5" y="155.50" width="2.2" height="9.23" fill="#00ddb0"/>
<rect x="340.9" y="155.50" width="2.2" height="9.23" fill="#1070ff"/>
<rect x="342.3" y="155.50" width="2.2" height="9.23" fill="#0e76ff"/>
<rect x="343.7" y="155.50" width="2.2" height="9.23" fill="#0c7cff"/>
<rect x="345.1" y="155.50" width="2.2" height="9.23" fill="#00adf7"/>
<rect x="346.5" y="155.50" width="2.2" height="9.23" fill="#0888ff"/>
<rect x="347.9" y="155.50" width="2.2" height="9.23" fill="#00cece"/>
<rect x="349.3" y="155.50" width="2.2" height="9.23" fill="#00fb49"/>
<rect x="350.7" y="155.50" width="2.2" height="9.23" fill="#0888ff"/>
<rect x="352.1" y="155.50" width="2.2" height="9.23" fill="#068eff"/>
<rect x="353.5" y="155.50" width="2.2" height="9.23" fill="#0494ff"/>
<rect x="354.9" y="155.50" width="2.2" height="9.23" fill="#029aff"/>
<rect x="356.3" y="155.50" width="2.2" height="9.23" fill="#00a0ff"/>
<rect x="357.7" y="155.50" width="2.2" height="9.23" fill="#00ddb0"/>
<rect x="359.1" y="155.50" width="2.2" height="9.23" fill="#00fe2c"/>
<rect x="360.5" y="155.50" width="2.2" height="9.23" fill="#00bee6"/>
<rect x="361.9" y="155.50" width="2.2" height="9.23" fill="#00c2e2"/>
<rect x="363.3" y="155.50" width="2.2" height="9.23" fill="#00c5dd"/>
<rect x="364.7" y="155.50" width="2.2" height="9.23" fill="#00c8d8"/>
<rect x="366.1" y="155.50" width="2.2" height="9.23" fill="#00cbd3"/>
<rect x="367.5" y="155.50" width="2.2" height="9.23" fill="#00fb43"/>
<rect x="368.9" y="155.50" width="2.2" height="9.23" fill="#bcec00"/>
<rect x="370.3" y="155.50" width="2.2" height="9.23" fill="#00e3a0"/>
<rect x="371.7" y="155.50" width="2.2" height="9.23" fill="#00e598"/>
<rect x="373.1" y="155.50" width="2.2" height="9.23" fill="#00e890"/>
<rect x="374.5" y="155.50" width="2.2" height="9.23" fill="#00eb88"/>
<rect x="375.9" y="155.50" width="2.2" height="9.23" fill="#00ed80"/>
<rect x="377.3" y="155.50" width="2.2" height="9.23" fill="#59f70e"/>
<rect x="378.6" y="155.50" width="2.2" height="9.23" fill="#f5cd20"/>
<rect x="380.0" y="155.50" width="2.2" height="9.23" fill="#00f860"/>
<rect x="381.4" y="155.50" width="2.2" height="9.23" fill="#00f95a"/>
<rect x="382.8" y="155.50" width="2.2" height="9.23" fill="#00f954"/>
<rect x="384.2" y="155.50" width="2.2" height="9.23" fill="#00fa4f"/>
<rect x="385.6" y="155.50" width="2.2" height="9.23" fill="#00fb49"/>
<rect x="387.0" y="155.50" width="2.2" height="9.23" fill="#47f812"/>
<rect x="388.4" y="155.50" width="2.2" height="9.23" fill="#caea00"/>
<rect x="389.8" y="155.50" width="2.2" height="9.23" fill="#00fa4f"/>
<rect x="391.2" y="155.50" width="2.2" height="9.23" fill="#00fb49"/>
<rect x="392.6" y="155.50" width="2.2" height="9.23" fill="#00fb43"/>
<rect x="394.0" y="155.50" width="2.2" height="9.23" fill="#00fc3d"/>
<rect x="395.4" y="155.50" width="2.2" height="9.23" fill="#00fc37"/>
<rect x="396.8" y="155.50" width="2.2" height="9.23" fill="#eadc18"/>
<rect x="398.2" y="155.50" width="2.2" height="9.23" fill="#ff7d0b"/>
<rect x="399.6" y="155.50" width="2.2" height="9.23" fill="#ff8b0f"/>
<rect x="401.0" y="155.50" width="2.2" height="9.23" fill="#ff870d"/>
<rect x="402.4" y="155.50" width="2.2" height="9.23" fill="#ff9010"/>
<rect x="403.8" y="155.50" width="5.0" height="9.23" fill="#7cf307"/>
<rect x="408.0" y="155.50" width="2.2" height="9.23" fill="#ffa81a"/>
<rect x="409.4" y="155.50" width="2.2" height="9.23" fill="#caea00"/>
<rect x="410.8" y="155.50" width="2.2" height="9.23" fill="#d1e900"/>
<rect x="412.2" y="155.50" width="2.2" height="9.23" fill="#d8e800"/>
<rect x="413.6" y="155.50" width="2.2" height="9.23" fill="#ffb41e"/>
<rect x="415.0" y="155.50" width="2.2" height="9.23" fill="#e4e010"/>
<rect x="416.4" y="155.50" width="2.2" height="9.23" fill="#ffac1b"/>
<rect x="417.8" y="155.50" width="2.2" height="9.23" fill="#ff7d0b"/>
<rect x="419.2" y="155.50" width="2.2" height="9.23" fill="#dee408"/>
<rect x="420.6" y="155.50" width="2.2" height="9.23" fill="#e4e010"/>
<rect x="422.0" y="155.50" width="2.2" height="9.23" fill="#eadc18"/>
<rect x="423.4" y="155.50" width="2.2" height="9.23" fill="#f0d820"/>
<rect x="424.8" y="155.50" width="2.2" height="9.23" fill="#f3d320"/>
<rect x="426.2" y="155.50" width="2.2" height="9.23" fill="#ffa016"/>
<rect x="427.6" y="155.50" width="2.2" height="9.23" fill="#ff7408"/>
<rect x="429.0" y="155.50" width="2.2" height="9.23" fill="#eadc18"/>
<rect x="430.4" y="155.50" width="2.2" height="9.23" fill="#f0d820"/>
<rect x="431.8" y="155.50" width="2.2" height="9.23" fill="#f3d320"/>
<rect x="433.2" y="155.50" width="2.2" height="9.23" fill="#f5cd20"/>
<rect x="434.6" y="155.50" width="2.2" height="9.23" fill="#f8c820"/>
<rect x="436.0" y="155.50" width="2.2" height="9.23" fill="#ff9412"/>
<rect x="437.4" y="155.50" width="2.2" height="9.23" fill="#ff6103"/>
<rect x="438.8" y="155.50" width="2.2" height="9.23" fill="#dee408"/>
<rect x="440.2" y="155.50" width="2.2" height="9.23" fill="#e4e010"/>
<rect x="441.6" y="155.50" width="2.2" height="9.23" fill="#eadc18"/>
<rect x="443.0" y="155.50" width="2.2" height="9.23" fill="#f0d820"/>
<rect x="444.4" y="155.50" width="2.2" height="9.23" fill="#f3d320"/>
<rect x="445.8" y="155.50" width="2.2" height="9.23" fill="#ffa81a"/>
<rect x="447.2" y="155.50" width="2.2" height="9.23" fill="#ff7d0b"/>
<rect x="448.6" y="155.50" width="2.2" height="9.23" fill="#d1e900"/>
<rect x="450.0" y="155.50" width="2.2" height="9.23" fill="#d8e800"/>
<rect x="451.4" y="155.50" width="2.2" height="9.23" fill="#dee408"/>
<rect x="452.8" y="155.50" width="2.2" height="9.23" fill="#e4e010"/>
<rect x="454.2" y="155.50" width="2.2" height="9.23" fill="#eadc18"/>
<rect x="455.6" y="155.50" width="2.2" height="9.23" fill="#ffb820"/>
<rect x="457.0" y="155.50" width="2.2" height="9.23" fill="#ff9813"/>
<rect x="458.4" y="155.50" width="2.2" height="9.23" fill="#a7ef00"/>
<rect x="459.8" y="155.50" width="2.2" height="9.23" fill="#aeee00"/>
<rect x="461.2" y="155.50" width="2.2" height="9.23" fill="#b5ed00"/>
<rect x="462.6" y="155.50" width="2.2" height="9.23" fill="#bcec00"/>
<rect x="464.0" y="155.50" width="2.2" height="9.23" fill="#c3eb00"/>
<rect x="465.4" y="155.50" width="2.2" height="9.23" fill="#f5cd20"/>
<rect x="466.8" y="155.50" width="2.2" height="9.23" fill="#ffa418"/>
<rect x="468.2" y="155.50" width="2.2" height="9.23" fill="#6bf50b"/>
<rect x="469.6" y="155.50" width="2.2" height="9.23" fill="#7cf307"/>
<rect x="471.0" y="155.50" width="2.2" height="9.23" fill="#8ef204"/>
<rect x="472.4" y="155.50" width="2.2" height="9.23" fill="#a0f000"/>
<rect x="473.8" y="155.50" width="2.2" height="9.23" fill="#a7ef00"/>
<rect x="475.2" y="155.50" width="2.2" height="9.23" fill="#e4e010"/>
<rect x="476.6" y="155.50" width="2.2" height="9.23" fill="#ffb41e"/>
<rect x="478.0" y="155.50" width="2.2" height="9.23" fill="#12fd1c"/>
<rect x="479.4" y="155.50" width="2.2" height="9.23" fill="#24fc19"/>
<rect x="480.8" y="155.50" width="2.2" height="9.23" fill="#35fa15"/>
<rect x="482.2" y="155.50" width="2.2" height="9.23" fill="#47f812"/>
<rect x="483.6" y="155.50" width="2.2" height="9.23" fill="#59f70e"/>
<rect x="485.0" y="155.50" width="2.2" height="9.23" fill="#bcec00"/>
<rect x="486.4" y="155.50" width="2.2" height="9.23" fill="#f3d320"/>
<rect x="487.8" y="155.50" width="2.2" height="9.23" fill="#00fc3d"/>
<rect x="489.2" y="155.50" width="2.2" height="9.23" fill="#00fc37"/>
<rect x="490.6" y="155.50" width="2.2" height="9.23" fill="#00fd31"/>
<rect x="492.0" y="155.50" width="2.2" height="9.23" fill="#00fe2c"/>
<rect x="493.4" y="155.50" width="2.2" height="9.23" fill="#00fe26"/>
<rect x="494.8" y="155.50" width="2.2" height="9.23" fill="#8ef204"/>
<rect x="496.2" y="155.50" width="2.2" height="9.23" fill="#dee408"/>
<rect x="497.6" y="155.50" width="2.2" height="9.23" fill="#00e0a8"/>
<rect x="499.0" y="155.50" width="2.2" height="9.23" fill="#00e3a0"/>
<rect x="500.4" y="155.50" width="2.2" height="9.23" fill="#00e598"/>
<rect x="501.8" y="155.50" width="2.2" height="9.23" fill="#00e890"/>
<rect x="503.2" y="155.50" width="2.2" height="9.23" fill="#00eb88"/>
<rect x="504.6" y="155.50" width="2.2" height="9.23" fill="#00fc3d"/>
<rect x="506.0" y="155.50" width="2.2" height="9.23" fill="#59f70e"/>
<rect x="507.4" y="155.50" width="2.2" height="9.23" fill="#00cbd3"/>
<rect x="508.8" y="155.50" width="2.2" height="9.23" fill="#00cece"/>
<rect x="510.2" y="155.50" width="2.2" height="9.23" fill="#00d2ca"/>
<rect x="511.6" y="155.50" width="2.2" height="9.23" fill="#00d5c5"/>
<rect x="513.0" y="155.50" width="2.2" height="9.23" fill="#00d8c0"/>
<rect x="514.4" y="155.50" width="2.2" height="9.23" fill="#00f860"/>
<rect x="515.8" y="155.50" width="2.2" height="9.23" fill="#00ff20"/>
<rect x="517.2" y="155.50" width="2.2" height="9.23" fill="#00d5c5"/>
<rect x="518.6" y="155.50" width="2.2" height="9.23" fill="#00d8c0"/>
<rect x="519.9" y="155.50" width="2.2" height="9.23" fill="#00dbb8"/>
<rect x="521.3" y="155.50" width="2.2" height="9.23" fill="#00ddb0"/>
<rect x="522.7" y="155.50" width="2.2" height="9.23" fill="#00e0a8"/>
<rect x="524.1" y="155.50" width="2.2" height="9.23" fill="#00fe2c"/>
<rect x="525.5" y="155.50" width="2.2" height="9.23" fill="#c3eb00"/>
<rect x="526.9" y="155.50" width="5.0" height="9.23" fill="#00f860"/>
<rect x="531.1" y="155.50" width="2.2" height="9.23" fill="#00e0a8"/>
<rect x="532.5" y="155.50" width="2.2" height="9.23" fill="#00e3a0"/>
<rect x="533.9" y="155.50" width="2.2" height="9.23" fill="#00fc3d"/>
<rect x="535.3" y="155.50" width="2.2" height="9.23" fill="#a0f000"/>
<rect x="536.7" y="155.50" width="2.2" height="9.23" fill="#00d8c0"/>
<rect x="538.1" y="155.50" width="2.2" height="9.23" fill="#00dbb8"/>
<rect x="28.9" y="164.12" width="2.2" height="9.23" fill="#00a0ff"/>
<rect x="30.3" y="164.12" width="2.2" height="9.23" fill="#00a3fd"/>
<rect x="31.7" y="164.12" width="2.2" height="9.23" fill="#00a5fc"/>
<rect x="33.1" y="164.12" width="2.2" height="9.23" fill="#00a8fa"/>
<rect x="34.5" y="164.12" width="2.2" height="9.23" fill="#00c2e2"/>
<rect x="35.9" y="164.12" width="2.2" height="9.23" fill="#00f95a"/>
<rect x="37.3" y="164.12" width="2.2" height="9.23" fill="#029aff"/>
<rect x="38.7" y="164.12" width="2.2" height="9.23" fill="#00a0ff"/>
<rect x="40.1" y="164.12" width="2.2" height="9.23" fill="#00a3fd"/>
<rect x="41.5" y="164.12" width="2.2" height="9.23" fill="#00a5fc"/>
<rect x="42.9" y="164.12" width="2.2" height="9.23" fill="#00a8fa"/>
<rect x="44.3" y="164.12" width="2.2" height="9.23" fill="#00c2e2"/>
<rect x="45.7" y="164.12" width="2.2" height="9.23" fill="#00f95a"/>
<rect x="47.1" y="164.12" width="2.2" height="9.23" fill="#029aff"/>
<rect x="48.5" y="164.12" width="2.2" height="9.23" fill="#00a0ff"/>
<rect x="49.9" y="164.12" width="2.2" height="9.23" fill="#00a3fd"/>
<rect x="51.3" y="164.12" width="2.2" height="9.23" fill="#00a5fc"/>
<rect x="52.7" y="164.12" width="2.2" height="9.23" fill="#00a8fa"/>
<rect x="54.1" y="164.12" width="2.2" height="9.23" fill="#00c2e2"/>
<rect x="55.5" y="164.12" width="2.2" height="9.23" fill="#00f95a"/>
<rect x="56.9" y="164.12" width="2.2" height="9.23" fill="#029aff"/>
<rect x="58.3" y="164.12" width="2.2" height="9.23" fill="#00a0ff"/>
<rect x="59.7" y="164.12" width="2.2" height="9.23" fill="#00a3fd"/>
<rect x="61.1" y="164.12" width="2.2" height="9.23" fill="#00a5fc"/>
<rect x="62.5" y="164.12" width="2.2" height="9.23" fill="#00a8fa"/>
<rect x="63.9" y="164.12" width="2.2" height="9.23" fill="#00c2e2"/>
<rect x="65.3" y="164.12" width="2.2" height="9.23" fill="#00f95a"/>
<rect x="66.7" y="164.12" width="6.4" height="9.23" fill="#00a3fd"/>
<rect x="72.3" y="164.12" width="2.2" height="9.23" fill="#00f370"/>
<rect x="73.7" y="164.12" width="2.2" height="9.23" fill="#00fd31"/>
<rect x="75.1" y="164.12" width="2.2" height="9.23" fill="#f0d820"/>
<rect x="76.5" y="164.12" width="2.2" height="9.23" fill="#00e890"/>
<rect x="77.9" y="164.12" width="3.6" height="9.23" fill="#00e0a8"/>
<rect x="80.7" y="164.12" width="2.2" height="9.23" fill="#00f860"/>
<rect x="82.1" y="164.12" width="2.2" height="9.23" fill="#12fd1c"/>
<rect x="83.5" y="164.12" width="2.2" height="9.23" fill="#b5ed00"/>
<rect x="84.9" y="164.12" width="2.2" height="9.23" fill="#fdbd20"/>
<rect x="86.3" y="164.12" width="2.2" height="9.23" fill="#6bf50b"/>
<rect x="87.7" y="164.12" width="3.6" height="9.23" fill="#7cf307"/>
<rect x="90.5" y="164.12" width="2.2" height="9.23" fill="#a0f000"/>
<rect x="91.9" y="164.12" width="2.2" height="9.23" fill="#f93c00"/>
<rect x="93.3" y="164.12" width="2.2" height="9.23" fill="#f12f00"/>
<rect x="94.7" y="164.12" width="2.2" height="9.23" fill="#f93c00"/>
<rect x="96.1" y="164.12" width="2.2" height="9.23" fill="#00ff20"/>
<rect x="97.5" y="164.12" width="2.2" height="9.23" fill="#12fd1c"/>
<rect x="98.8" y="164.12" width="2.2" height="9.23" fill="#24fc19"/>
<rect x="100.2" y="164.12" width="2.2" height="9.23" fill="#35fa15"/>
<rect x="101.6" y="164.12" width="2.2" height="9.23" fill="#47f812"/>
<rect x="103.0" y="164.12" width="2.2" height="9.23" fill="#f0d820"/>
<rect x="104.4" y="164.12" width="2.2" height="9.23" fill="#fdbd20"/>
<rect x="105.8" y="164.12" width="2.2" height="9.23" fill="#47f812"/>
<rect x="107.2" y="164.12" width="2.2" height="9.23" fill="#59f70e"/>
<rect x="108.6" y="164.12" width="2.2" height="9.23" fill="#6bf50b"/>
<rect x="110.0" y="164.12" width="2.2" height="9.23" fill="#7cf307"/>
<rect x="111.4" y="164.12" width="2.2" height="9.23" fill="#fac320"/>
<rect x="112.8" y="164.12" width="2.2" height="9.23" fill="#dee408"/>
<rect x="114.2" y="164.12" width="2.2" height="9.23" fill="#ff6f07"/>
<rect x="115.6" y="164.12" width="2.2" height="9.23" fill="#eadc18"/>
<rect x="117.0" y="164.12" width="2.2" height="9.23" fill="#f0d820"/>
<rect x="118.4" y="164.12" width="2.2" height="9.23" fill="#f5cd20"/>
<rect x="119.8" y="164.12" width="2.2" height="9.23" fill="#fac320"/>
<rect x="121.2" y="164.12" width="2.2" height="9.23" fill="#fdbd20"/>
<rect x="122.6" y="164.12" width="2.2" height="9.23" fill="#ff6b05"/>
<rect x="124.0" y="164.12" width="2.2" height="9.23" fill="#fe5400"/>
<rect x="125.4" y="164.12" width="2.2" height="9.23" fill="#f8c820"/>
<rect x="126.8" y="164.12" width="2.2" height="9.23" fill="#fac320"/>
<rect x="128.2" y="164.12" width="2.2" height="9.23" fill="#ffb820"/>
<rect x="129.6" y="164.12" width="2.2" height="9.23" fill="#ffb01d"/>
<rect x="131.0" y="164.12" width="2.2" height="9.23" fill="#ffac1b"/>
<rect x="132.4" y="164.12" width="2.2" height="9.23" fill="#ff6103"/>
<rect x="133.8" y="164.12" width="2.2" height="9.23" fill="#fd4d00"/>
<rect x="135.2" y="164.12" width="2.2" height="9.23" fill="#ffb41e"/>
<rect x="136.6" y="164.12" width="2.2" height="9.23" fill="#ffb01d"/>
<rect x="138.0" y="164.12" width="2.2" height="9.23" fill="#ffa81a"/>
<rect x="139.4" y="164.12" width="2.2" height="9.23" fill="#ffa016"/>
<rect x="140.8" y="164.12" width="2.2" height="9.23" fill="#ff9c15"/>
<rect x="142.2" y="164.12" width="2.2" height="9.23" fill="#fa4300"/>
<rect x="143.6" y="164.12" width="2.2" height="9.23" fill="#f12f00"/>
<rect x="145.0" y="164.12" width="2.2" height="9.23" fill="#ff9010"/>
<rect x="146.4" y="164.12" width="2.2" height="9.23" fill="#ff870d"/>
<rect x="147.8" y="164.12" width="2.2" height="9.23" fill="#ff820c"/>
<rect x="149.2" y="164.12" width="2.2" height="9.23" fill="#ff7909"/>
<rect x="150.6" y="164.12" width="2.2" height="9.23" fill="#ff7408"/>
<rect x="152.0" y="164.12" width="2.2" height="9.23" fill="#f83800"/>
<rect x="153.4" y="164.12" width="2.2" height="9.23" fill="#fa4300"/>
<rect x="154.8" y="164.12" width="2.2" height="9.23" fill="#ff9010"/>
<rect x="156.2" y="164.12" width="2.2" height="9.23" fill="#ff870d"/>
<rect x="157.6" y="164.12" width="2.2" height="9.23" fill="#ff820c"/>
<rect x="159.0" y="164.12" width="2.2" height="9.23" fill="#ff7d0b"/>
<rect x="160.4" y="164.12" width="2.2" height="9.23" fill="#ff7408"/>
<rect x="161.8" y="164.12" width="2.2" height="9.23" fill="#fb4600"/>
<rect x="163.2" y="164.12" width="2.2" height="9.23" fill="#f83800"/>
<rect x="164.6" y="164.12" width="2.2" height="9.23" fill="#ff870d"/>
<rect x="166.0" y="164.12" width="2.2" height="9.23" fill="#ff7d0b"/>
<rect x="167.4" y="164.12" width="2.2" height="9.23" fill="#ff7909"/>
<rect x="168.8" y="164.12" width="2.2" height="9.23" fill="#ff7408"/>
<rect x="170.2" y="164.12" width="2.2" height="9.23" fill="#ff6b05"/>
<rect x="171.6" y="164.12" width="2.2" height="9.23" fill="#fa4300"/>
<rect x="173.0" y="164.12" width="2.2" height="9.23" fill="#f63500"/>
<rect x="174.4" y="164.12" width="2.2" height="9.23" fill="#ff7d0b"/>
<rect x="175.8" y="164.12" width="2.2" height="9.23" fill="#ff7408"/>
<rect x="177.2" y="164.12" width="2.2" height="9.23" fill="#ff6f07"/>
<rect x="178.6" y="164.12" width="2.2" height="9.23" fill="#ff6b05"/>
<rect x="180.0" y="164.12" width="2.2" height="9.23" fill="#ff6103"/>
<rect x="181.4" y="164.12" width="2.2" height="9.23" fill="#fa3f00"/>
<rect x="182.8" y="164.12" width="2.2" height="9.23" fill="#f33200"/>
<rect x="184.2" y="164.12" width="2.2" height="9.23" fill="#ff7909"/>
<rect x="185.6" y="164.12" width="2.2" height="9.23" fill="#ff7408"/>
<rect x="187.0" y="164.12" width="2.2" height="9.23" fill="#ff6b05"/>
<rect x="188.4" y="164.12" width="2.2" height="9.23" fill="#ff6604"/>
<rect x="189.8" y="164.12" width="2.2" height="9.23" fill="#ff6103"/>
<rect x="191.2" y="164.12" width="2.2" height="9.23" fill="#ff5800"/>
<rect x="192.6" y="164.12" width="2.2" height="9.23" fill="#fd5100"/>
<rect x="194.0" y="164.12" width="2.2" height="9.23" fill="#fdbd20"/>
<rect x="195.4" y="164.12" width="2.2" height="9.23" fill="#ffb820"/>
<rect x="196.8" y="164.12" width="2.2" height="9.23" fill="#ffb01d"/>
<rect x="198.2" y="164.12" width="2.2" height="9.23" fill="#ffac1b"/>
<rect x="199.6" y="164.12" width="2.2" height="9.23" fill="#ffa81a"/>
<rect x="201.0" y="164.12" width="2.2" height="9.23" fill="#ff9412"/>
<rect x="202.4" y="164.12" width="2.2" height="9.23" fill="#ff870d"/>
<rect x="203.8" y="164.12" width="2.2" height="9.23" fill="#fac320"/>
<rect x="205.2" y="164.12" width="2.2" height="9.23" fill="#ffb820"/>
<rect x="206.6" y="164.12" width="2.2" height="9.23" fill="#ffb41e"/>
<rect x="208.0" y="164.12" width="2.2" height="9.23" fill="#ffb01d"/>
<rect x="209.4" y="164.12" width="2.2" height="9.23" fill="#ffac1b"/>
<rect x="210.8" y="164.12" width="2.2" height="9.23" fill="#ff9010"/>
<rect x="212.2" y="164.12" width="2.2" height="9.23" fill="#ff820c"/>
<rect x="213.6" y="164.12" width="2.2" height="9.23" fill="#caea00"/>
<rect x="215.0" y="164.12" width="2.2" height="9.23" fill="#d8e800"/>
<rect x="216.4" y="164.12" width="5.0" height="9.23" fill="#caea00"/>
<rect x="220.6" y="164.12" width="2.2" height="9.23" fill="#ffa016"/>
<rect x="222.0" y="164.12" width="2.2" height="9.23" fill="#ff9010"/>
<rect x="223.4" y="164.12" width="2.2" height="9.23" fill="#f3d320"/>
<rect x="224.8" y="164.12" width="2.2" height="9.23" fill="#f5cd20"/>
<rect x="226.2" y="164.12" width="2.2" height="9.23" fill="#fac320"/>
<rect x="227.6" y="164.12" width="2.2" height="9.23" fill="#fdbd20"/>
<rect x="229.0" y="164.12" width="2.2" height="9.23" fill="#ffb820"/>
<rect x="230.4" y="164.12" width="2.2" height="9.23" fill="#ffa418"/>
<rect x="231.8" y="164.12" width="2.2" height="9.23" fill="#ff9813"/>
<rect x="233.2" y="164.12" width="2.2" height="9.23" fill="#caea00"/>
<rect x="234.6" y="164.12" width="2.2" height="9.23" fill="#d8e800"/>
<rect x="236.0" y="164.12" width="2.2" height="9.23" fill="#dee408"/>
<rect x="237.4" y="164.12" width="3.6" height="9.23" fill="#e4e010"/>
<rect x="240.1" y="164.12" width="2.2" height="9.23" fill="#fac320"/>
<rect x="241.5" y="164.12" width="2.2" height="9.23" fill="#ffb41e"/>
<rect x="242.9" y="164.12" width="2.2" height="9.23" fill="#8ef204"/>
<rect x="244.3" y="164.12" width="2.2" height="9.23" fill="#a0f000"/>
<rect x="245.7" y="164.12" width="2.2" height="9.23" fill="#aeee00"/>
<rect x="247.1" y="164.12" width="2.2" height="9.23" fill="#b5ed00"/>
<rect x="248.5" y="164.12" width="2.2" height="9.23" fill="#bcec00"/>
<rect x="249.9" y="164.12" width="2.2" height="9.23" fill="#ffb820"/>
<rect x="251.3" y="164.12" width="2.2" height="9.23" fill="#ffa81a"/>
<rect x="252.7" y="164.12" width="2.2" height="9.23" fill="#8ef204"/>
<rect x="254.1" y="164.12" width="2.2" height="9.23" fill="#a0f000"/>
<rect x="255.5" y="164.12" width="2.2" height="9.23" fill="#aeee00"/>
<rect x="256.9" y="164.12" width="2.2" height="9.23" fill="#b5ed00"/>
<rect x="258.3" y="164.12" width="2.2" height="9.23" fill="#bcec00"/>
<rect x="259.7" y="164.12" width="2.2" height="9.23" fill="#fac320"/>
<rect x="261.1" y="164.12" width="2.2" height="9.23" fill="#ffb01d"/>
<rect x="262.5" y="164.12" width="2.2" height="9.23" fill="#47f812"/>
<rect x="263.9" y="164.12" width="2.2" height="9.23" fill="#59f70e"/>
<rect x="265.3" y="164.12" width="2.2" height="9.23" fill="#7cf307"/>
<rect x="266.7" y="164.12" width="2.2" height="9.23" fill="#8ef204"/>
<rect x="268.1" y="164.12" width="2.2" height="9.23" fill="#a0f000"/>
<rect x="269.5" y="164.12" width="2.2" height="9.23" fill="#f0d820"/>
<rect x="270.9" y="164.12" width="2.2" height="9.23" fill="#fac320"/>
<rect x="272.3" y="164.12" width="2.2" height="9.23" fill="#00ed80"/>
<rect x="273.7" y="164.12" width="2.2" height="9.23" fill="#00f370"/>
<rect x="275.1" y="164.12" width="3.6" height="9.23" fill="#00f568"/>
<rect x="277.9" y="164.12" width="2.2" height="9.23" fill="#00f860"/>
<rect x="279.3" y="164.12" width="2.2" height="9.23" fill="#00f954"/>
<rect x="280.7" y="164.12" width="2.2" height="9.23" fill="#00fb49"/>
<rect x="282.1" y="164.12" width="2.2" height="9.23" fill="#00e3a0"/>
<rect x="283.5" y="164.12" width="2.2" height="9.23" fill="#00e890"/>
<rect x="284.9" y="164.12" width="2.2" height="9.23" fill="#00eb88"/>
<rect x="286.3" y="164.12" width="2.2" height="9.23" fill="#00ed80"/>
<rect x="287.7" y="164.12" width="2.2" height="9.23" fill="#00f078"/>
<rect x="289.1" y="164.12" width="2.2" height="9.23" fill="#47f812"/>
<rect x="290.5" y="164.12" width="2.2" height="9.23" fill="#aeee00"/>
<rect x="291.9" y="164.12" width="2.2" height="9.23" fill="#00c5dd"/>
<rect x="293.3" y="164.12" width="2.2" height="9.23" fill="#00cbd3"/>
<rect x="294.7" y="164.12" width="2.2" height="9.23" fill="#00cece"/>
<rect x="296.1" y="164.12" width="3.6" height="9.23" fill="#00d2ca"/>
<rect x="298.9" y="164.12" width="2.2" height="9.23" fill="#00ed80"/>
<rect x="300.3" y="164.12" width="2.2" height="9.23" fill="#00f95a"/>
<rect x="301.7" y="164.12" width="2.2" height="9.23" fill="#00abf8"/>
<rect x="303.1" y="164.12" width="2.2" height="9.23" fill="#00adf7"/>
<rect x="304.5" y="164.12" width="2.2" height="9.23" fill="#00b3f3"/>
<rect x="305.9" y="164.12" width="3.6" height="9.23" fill="#00b5f2"/>
<rect x="308.7" y="164.12" width="2.2" height="9.23" fill="#00cece"/>
<rect x="310.1" y="164.12" width="2.2" height="9.23" fill="#00e598"/>
<rect x="311.5" y="164.12" width="2.2" height="9.23" fill="#00a0ff"/>
<rect x="312.9" y="164.12" width="2.2" height="9.23" fill="#00a3fd"/>
<rect x="314.3" y="164.12" width="2.2" height="9.23" fill="#00a5fc"/>
<rect x="315.7" y="164.12" width="3.6" height="9.23" fill="#00a8fa"/>
<rect x="318.5" y="164.12" width="2.2" height="9.23" fill="#00c8d8"/>
<rect x="319.9" y="164.12" width="2.2" height="9.23" fill="#00e890"/>
<rect x="321.3" y="164.12" width="2.2" height="9.23" fill="#0a82ff"/>
<rect x="322.7" y="164.12" width="2.2" height="9.23" fill="#0888ff"/>
<rect x="324.1" y="164.12" width="3.6" height="9.23" fill="#068eff"/>
<rect x="326.9" y="164.12" width="2.2" height="9.23" fill="#0494ff"/>
<rect x="328.3" y="164.12" width="2.2" height="9.23" fill="#00a5fc"/>
<rect x="329.7" y="164.12" width="2.2" height="9.23" fill="#00b0f5"/>
<rect x="331.1" y="164.12" width="2.2" height="9.23" fill="#234ee9"/>
<rect x="332.5" y="164.12" width="2.2" height="9.23" fill="#1f55ed"/>
<rect x="333.9" y="164.12" width="2.2" height="9.23" fill="#1b5bf2"/>
<rect x="335.3" y="164.12" width="3.6" height="9.23" fill="#1762f6"/>
<rect x="338.1" y="164.12" width="2.2" height="9.23" fill="#00a3fd"/>
<rect x="339.5" y="164.12" width="2.2" height="9.23" fill="#00bee6"/>
<rect x="340.9" y="164.12" width="2.2" height="9.23" fill="#2a40e0"/>
<rect x="342.3" y="164.12" width="2.2" height="9.23" fill="#2647e4"/>
<rect x="343.7" y="164.12" width="2.2" height="9.23" fill="#234ee9"/>
<rect x="345.1" y="164.12" width="2.2" height="9.23" fill="#068eff"/>
<rect x="346.5" y="164.12" width="2.2" height="9.23" fill="#1f55ed"/>
<rect x="347.9" y="164.12" width="2.2" height="9.23" fill="#00b5f2"/>
<rect x="349.3" y="164.12" width="2.2" height="9.23" fill="#00e890"/>
<rect x="350.7" y="164.12" width="2.2" height="9.23" fill="#1b5bf2"/>
<rect x="352.1" y="164.12" width="2.2" height="9.23" fill="#1762f6"/>
<rect x="353.5" y="164.12" width="2.2" height="9.23" fill="#1469fb"/>
<rect x="354.9" y="164.12" width="3.6" height="9.23" fill="#1070ff"/>
<rect x="357.7" y="164.12" width="2.2" height="9.23" fill="#00c2e2"/>
<rect x="359.1" y="164.12" width="2.2" height="9.23" fill="#00f568"/>
<rect x="360.5" y="164.12" width="2.2" height="9.23" fill="#00b0f5"/>
<rect x="361.9" y="164.12" width="2.2" height="9.23" fill="#00b3f3"/>
<rect x="363.3" y="164.12" width="2.2" height="9.23" fill="#00b5f2"/>
<rect x="364.7" y="164.12" width="2.2" height="9.23" fill="#00b8f0"/>
<rect x="366.1" y="164.12" width="2.2" height="9.23" fill="#00bbeb"/>
<rect x="367.5" y="164.12" width="2.2" height="9.23" fill="#00f568"/>
<rect x="368.9" y="164.12" width="2.2" height="9.23" fill="#7cf307"/>
<rect x="370.3" y="164.12" width="2.2" height="9.23" fill="#00d5c5"/>
<rect x="371.7" y="164.12" width="2.2" height="9.23" fill="#00d8c0"/>
<rect x="373.1" y="164.12" width="2.2" height="9.23" fill="#00dbb8"/>
<rect x="374.5" y="164.12" width="2.2" height="9.23" fill="#00ddb0"/>
<rect x="375.9" y="164.12" width="2.2" height="9.23" fill="#00e0a8"/>
<rect x="377.3" y="164.12" width="2.2" height="9.23" fill="#00fe26"/>
<rect x="378.6" y="164.12" width="2.2" height="9.23" fill="#d8e800"/>
<rect x="380.0" y="164.12" width="2.2" height="9.23" fill="#00eb88"/>
<rect x="381.4" y="164.12" width="2.2" height="9.23" fill="#00ed80"/>
<rect x="382.8" y="164.12" width="2.2" height="9.23" fill="#00f078"/>
<rect x="384.2" y="164.12" width="2.2" height="9.23" fill="#00f370"/>
<rect x="385.6" y="164.12" width="2.2" height="9.23" fill="#00f568"/>
<rect x="387.0" y="164.12" width="2.2" height="9.23" fill="#00fe26"/>
<rect x="388.4" y="164.12" width="2.2" height="9.23" fill="#a0f000"/>
<rect x="389.8" y="164.12" width="2.2" height="9.23" fill="#00f370"/>
<rect x="391.2" y="164.12" width="2.2" height="9.23" fill="#00f568"/>
<rect x="392.6" y="164.12" width="2.2" height="9.23" fill="#00f860"/>
<rect x="394.0" y="164.12" width="2.2" height="9.23" fill="#00f95a"/>
<rect x="395.4" y="164.12" width="2.2" height="9.23" fill="#00f954"/>
<rect x="396.8" y="164.12" width="2.2" height="9.23" fill="#c3eb00"/>
<rect x="398.2" y="164.12" width="2.2" height="9.23" fill="#ff9010"/>
<rect x="399.6" y="164.12" width="2.2" height="9.23" fill="#ff9c15"/>
<rect x="401.0" y="164.12" width="2.2" height="9.23" fill="#ff9813"/>
<rect x="402.4" y="164.12" width="2.2" height="9.23" fill="#ffa016"/>
<rect x="403.8" y="164.12" width="5.0" height="9.23" fill="#24fc19"/>
<rect x="408.0" y="164.12" width="2.2" height="9.23" fill="#f5cd20"/>
<rect x="409.4" y="164.12" width="2.2" height="9.23" fill="#a7ef00"/>
<rect x="410.8" y="164.12" width="2.2" height="9.23" fill="#aeee00"/>
<rect x="412.2" y="164.12" width="2.2" height="9.23" fill="#b5ed00"/>
<rect x="413.6" y="164.12" width="2.2" height="9.23" fill="#f0d820"/>
<rect x="415.0" y="164.12" width="2.2" height="9.23" fill="#bcec00"/>
<rect x="416.4" y="164.12" width="2.2" height="9.23" fill="#f5cd20"/>
<rect x="417.8" y="164.12" width="2.2" height="9.23" fill="#ffa016"/>
<rect x="419.2" y="164.12" width="2.2" height="9.23" fill="#bcec00"/>
<rect x="420.6" y="164.12" width="2.2" height="9.23" fill="#c3eb00"/>
<rect x="422.0" y="164.12" width="2.2" height="9.23" fill="#caea00"/>
<rect x="423.4" y="164.12" width="3.6" height="9.23" fill="#d1e900"/>
<rect x="426.2" y="164.12" width="2.2" height="9.23" fill="#fdbd20"/>
<rect x="427.6" y="164.12" width="2.2" height="9.23" fill="#ff9813"/>
<rect x="429.0" y="164.12" width="2.2" height="9.23" fill="#caea00"/>
<rect x="430.4" y="164.12" width="2.2" height="9.23" fill="#d1e900"/>
<rect x="431.8" y="164.12" width="2.2" height="9.23" fill="#d8e800"/>
<rect x="433.2" y="164.12" width="3.6" height="9.23" fill="#dee408"/>
<rect x="436.0" y="164.12" width="2.2" height="9.23" fill="#ffb01d"/>
<rect x="437.4" y="164.12" width="2.2" height="9.23" fill="#ff870d"/>
<rect x="438.8" y="164.12" width="2.2" height="9.23" fill="#bcec00"/>
<rect x="440.2" y="164.12" width="2.2" height="9.23" fill="#c3eb00"/>
<rect x="441.6" y="164.12" width="2.2" height="9.23" fill="#caea00"/>
<rect x="443.0" y="164.12" width="3.6" height="9.23" fill="#d1e900"/>
<rect x="445.8" y="164.12" width="2.2" height="9.23" fill="#fac320"/>
<rect x="447.2" y="164.12" width="2.2" height="9.23" fill="#ffa016"/>
<rect x="448.6" y="164.12" width="2.2" height="9.23" fill="#7cf307"/>
<rect x="450.0" y="164.12" width="2.2" height="9.23" fill="#8ef204"/>
<rect x="451.4" y="164.12" width="2.2" height="9.23" fill="#a0f000"/>
<rect x="452.8" y="164.12" width="2.2" height="9.23" fill="#a7ef00"/>
<rect x="454.2" y="164.12" width="2.2" height="9.23" fill="#aeee00"/>
<rect x="455.6" y="164.12" width="2.2" height="9.23" fill="#e4e010"/>
<rect x="457.0" y="164.12" width="2.2" height="9.23" fill="#ffb820"/>
<rect x="458.4" y="164.12" width="2.2" height="9.23" fill="#12fd1c"/>
<rect x="459.8" y="164.12" width="2.2" height="9.23" fill="#24fc19"/>
<rect x="461.2" y="164.12" width="2.2" height="9.23" fill="#35fa15"/>
<rect x="462.6" y="164.12" width="2.2" height="9.23" fill="#47f812"/>
<rect x="464.0" y="164.12" width="2.2" height="9.23" fill="#59f70e"/>
<rect x="465.4" y="164.12" width="2.2" height="9.23" fill="#caea00"/>
<rect x="466.8" y="164.12" width="2.2" height="9.23" fill="#fac320"/>
<rect x="468.2" y="164.12" width="2.2" height="9.23" fill="#00fd31"/>
<rect x="469.6" y="164.12" width="2.2" height="9.23" fill="#00fe2c"/>
<rect x="471.0" y="164.12" width="2.2" height="9.23" fill="#00fe26"/>
<rect x="472.4" y="164.12" width="2.2" height="9.23" fill="#00ff20"/>
<rect x="473.8" y="164.12" width="2.2" height="9.23" fill="#12fd1c"/>
<rect x="475.2" y="164.12" width="2.2" height="9.23" fill="#aeee00"/>
<rect x="476.6" y="164.12" width="2.2" height="9.23" fill="#f0d820"/>
<rect x="478.0" y="164.12" width="2.2" height="9.23" fill="#00fa4f"/>
<rect x="479.4" y="164.12" width="2.2" height="9.23" fill="#00fb49"/>
<rect x="480.8" y="164.12" width="2.2" height="9.23" fill="#00fb43"/>
<rect x="482.2" y="164.12" width="2.2" height="9.23" fill="#00fc3d"/>
<rect x="483.6" y="164.12" width="2.2" height="9.23" fill="#00fc37"/>
<rect x="485.0" y="164.12" width="2.2" height="9.23" fill="#59f70e"/>
<rect x="486.4" y="164.12" width="2.2" height="9.23" fill="#caea00"/>
<rect x="487.8" y="164.12" width="2.2" height="9.23" fill="#00f078"/>
<rect x="489.2" y="164.12" width="2.2" height="9.23" fill="#00f370"/>
<rect x="490.6" y="164.12" width="2.2" height="9.23" fill="#00f568"/>
<rect x="492.0" y="164.12" width="2.2" height="9.23" fill="#00f860"/>
<rect x="493.4" y="164.12" width="2.2" height="9.23" fill="#00f95a"/>
<rect x="494.8" y="164.12" width="2.2" height="9.23" fill="#12fd1c"/>
<rect x="496.2" y="164.12" width="2.2" height="9.23" fill="#aeee00"/>
<rect x="497.6" y="164.12" width="2.2" height="9.23" fill="#00cece"/>
<rect x="499.0" y="164.12" width="2.2" height="9.23" fill="#00d2ca"/>
<rect x="500.4" y="164.12" width="2.2" height="9.23" fill="#00d5c5"/>
<rect x="501.8" y="164.12" width="2.2" height="9.23" fill="#00d8c0"/>
<rect x="503.2" y="164.12" width="2.2" height="9.23" fill="#00dbb8"/>
<rect x="504.6" y="164.12" width="2.2" height="9.23" fill="#00f568"/>
<rect x="506.0" y="164.12" width="2.2" height="9.23" fill="#00fe2c"/>
<rect x="507.4" y="164.12" width="2.2" height="9.23" fill="#00b8f0"/>
<rect x="508.8" y="164.12" width="2.2" height="9.23" fill="#00bbeb"/>
<rect x="510.2" y="164.12" width="2.2" height="9.23" fill="#00bee6"/>
<rect x="511.6" y="164.12" width="2.2" height="9.23" fill="#00c2e2"/>
<rect x="513.0" y="164.12" width="2.2" height="9.23" fill="#00c5dd"/>
<rect x="514.4" y="164.12" width="2.2" height="9.23" fill="#00e598"/>
<rect x="515.8" y="164.12" width="2.2" height="9.23" fill="#00fb49"/>
<rect x="517.2" y="164.12" width="2.2" height="9.23" fill="#00c2e2"/>
<rect x="518.6" y="164.12" width="2.2" height="9.23" fill="#00c5dd"/>
<rect x="519.9" y="164.12" width="2.2" height="9.23" fill="#00c8d8"/>
<rect x="521.3" y="164.12" width="2.2" height="9.23" fill="#00cbd3"/>
<rect x="522.7" y="164.12" width="2.2" height="9.23" fill="#00cece"/>
<rect x="524.1" y="164.12" width="2.2" height="9.23" fill="#00f954"/>
<rect x="525.5" y="164.12" width="2.2" height="9.23" fill="#7cf307"/>
<rect x="526.9" y="164.12" width="5.0" height="9.23" fill="#00e890"/>
<rect x="531.1" y="164.12" width="2.2" height="9.23" fill="#00cece"/>
<rect x="532.5" y="164.12" width="2.2" height="9.23" fill="#00d2ca"/>
<rect x="533.9" y="164.12" width="2.2" height="9.23" fill="#00f860"/>
<rect x="535.3" y="164.12" width="2.2" height="9.23" fill="#24fc19"/>
<rect x="536.7" y="164.12" width="2.2" height="9.23" fill="#00c5dd"/>
<rect x="538.1" y="164.12" width="2.2" height="9.23" fill="#00c8d8"/>
<rect x="34.5" y="172.75" width="2.2" height="9.23" fill="#2f38c7"/>
<rect x="35.9" y="172.75" width="2.2" height="9.23" fill="#00b5f2"/>
<rect x="44.3" y="172.75" width="2.2" height="9.23" fill="#2f38c7"/>
<rect x="45.7" y="172.75" width="2.2" height="9.23" fill="#00b5f2"/>
<rect x="54.1" y="172.75" width="2.2" height="9.23" fill="#2f38c7"/>
<rect x="55.5" y="172.75" width="2.2" height="9.23" fill="#00b5f2"/>
<rect x="63.9" y="172.75" width="2.2" height="9.23" fill="#2f38c7"/>
<rect x="65.3" y="172.75" width="2.2" height="9.23" fill="#00b5f2"/>
<rect x="72.3" y="172.75" width="2.2" height="9.23" fill="#00bbeb"/>
<rect x="73.7" y="172.75" width="2.2" height="9.23" fill="#00d2ca"/>
<rect x="75.1" y="172.75" width="2.2" height="9.23" fill="#00fb49"/>
<rect x="76.5" y="172.75" width="2.2" height="9.23" fill="#00b5f2"/>
<rect x="77.9" y="172.75" width="3.6" height="9.23" fill="#00adf7"/>
<rect x="80.7" y="172.75" width="2.2" height="9.23" fill="#00c2e2"/>
<rect x="82.1" y="172.75" width="2.2" height="9.23" fill="#00ddb0"/>
<rect x="83.5" y="172.75" width="2.2" height="9.23" fill="#00f370"/>
<rect x="84.9" y="172.75" width="2.2" height="9.23" fill="#00fe2c"/>
<rect x="86.3" y="172.75" width="2.2" height="9.23" fill="#00b8f0"/>
<rect x="87.7" y="172.75" width="3.6" height="9.23" fill="#00bbeb"/>
<rect x="90.5" y="172.75" width="2.2" height="9.23" fill="#00c5dd"/>
<rect x="91.9" y="172.75" width="2.2" height="9.23" fill="#ff9813"/>
<rect x="93.3" y="172.75" width="2.2" height="9.23" fill="#ff9010"/>
<rect x="94.7" y="172.75" width="2.2" height="9.23" fill="#ff9813"/>
<rect x="96.1" y="172.75" width="2.2" height="9.23" fill="#00cece"/>
<rect x="97.5" y="172.75" width="2.2" height="9.23" fill="#00d2ca"/>
<rect x="98.8" y="172.75" width="2.2" height="9.23" fill="#00d5c5"/>
<rect x="100.2" y="172.75" width="2.2" height="9.23" fill="#00d8c0"/>
<rect x="101.6" y="172.75" width="2.2" height="9.23" fill="#00dbb8"/>
<rect x="103.0" y="172.75" width="2.2" height="9.23" fill="#00fb43"/>
<rect x="104.4" y="172.75" width="2.2" height="9.23" fill="#00fe26"/>
<rect x="105.8" y="172.75" width="2.2" height="9.23" fill="#00dbb8"/>
<rect x="107.2" y="172.75" width="2.2" height="9.23" fill="#00ddb0"/>
<rect x="108.6" y="172.75" width="2.2" height="9.23" fill="#00e0a8"/>
<rect x="110.0" y="172.75" width="2.2" height="9.23" fill="#00e3a0"/>
<rect x="111.4" y="172.75" width="2.2" height="9.23" fill="#00fc37"/>
<rect x="112.8" y="172.75" width="2.2" height="9.23" fill="#00f568"/>
<rect x="114.2" y="172.75" width="2.2" height="9.23" fill="#dee408"/>
<rect x="115.6" y="172.75" width="2.2" height="9.23" fill="#00f568"/>
<rect x="117.0" y="172.75" width="2.2" height="9.23" fill="#00f860"/>
<rect x="118.4" y="172.75" width="2.2" height="9.23" fill="#00f954"/>
<rect x="119.8" y="172.75" width="2.2" height="9.23" fill="#00fb49"/>
<rect x="121.2" y="172.75" width="2.2" height="9.23" fill="#00fc3d"/>
<rect x="122.6" y="172.75" width="2.2" height="9.23" fill="#dee408"/>
<rect x="124.0" y="172.75" width="2.2" height="9.23" fill="#f8c820"/>
<rect x="125.4" y="172.75" width="2.2" height="9.23" fill="#00fa4f"/>
<rect x="126.8" y="172.75" width="2.2" height="9.23" fill="#00fb49"/>
<rect x="128.2" y="172.75" width="2.2" height="9.23" fill="#00fc3d"/>
<rect x="129.6" y="172.75" width="2.2" height="9.23" fill="#00fd31"/>
<rect x="131.0" y="172.75" width="2.2" height="9.23" fill="#00fe26"/>
<rect x="132.4" y="172.75" width="2.2" height="9.23" fill="#f0d820"/>
<rect x="133.8" y="172.75" width="2.2" height="9.23" fill="#fdbd20"/>
<rect x="135.2" y="172.75" width="2.2" height="9.23" fill="#00fc37"/>
<rect x="136.6" y="172.75" width="2.2" height="9.23" fill="#00fd31"/>
<rect x="138.0" y="172.75" width="2.2" height="9.23" fill="#00fe26"/>
<rect x="139.4" y="172.75" width="2.2" height="9.23" fill="#12fd1c"/>
<rect x="140.8" y="172.75" width="2.2" height="9.23" fill="#35fa15"/>
<rect x="142.2" y="172.75" width="2.2" height="9.23" fill="#ffb41e"/>
<rect x="143.6" y="172.75" width="2.2" height="9.23" fill="#ff9813"/>
<rect x="145.0" y="172.75" width="2.2" height="9.23" fill="#59f70e"/>
<rect x="146.4" y="172.75" width="2.2" height="9.23" fill="#7cf307"/>
<rect x="147.8" y="172.75" width="2.2" height="9.23" fill="#8ef204"/>
<rect x="149.2" y="172.75" width="2.2" height="9.23" fill="#a7ef00"/>
<rect x="150.6" y="172.75" width="2.2" height="9.23" fill="#b5ed00"/>
<rect x="152.0" y="172.75" width="2.2" height="9.23" fill="#ffa418"/>
<rect x="153.4" y="172.75" width="2.2" height="9.23" fill="#ff8b0f"/>
<rect x="154.8" y="172.75" width="2.2" height="9.23" fill="#f3d320"/>
<rect x="156.2" y="172.75" width="2.2" height="9.23" fill="#f5cd20"/>
<rect x="157.6" y="172.75" width="2.2" height="9.23" fill="#fac320"/>
<rect x="159.0" y="172.75" width="2.2" height="9.23" fill="#fdbd20"/>
<rect x="160.4" y="172.75" width="2.2" height="9.23" fill="#ffb820"/>
<rect x="161.8" y="172.75" width="2.2" height="9.23" fill="#ff9010"/>
<rect x="163.2" y="172.75" width="2.2" height="9.23" fill="#ff7d0b"/>
<rect x="164.6" y="172.75" width="2.2" height="9.23" fill="#f8c820"/>
<rect x="166.0" y="172.75" width="2.2" height="9.23" fill="#fac320"/>
<rect x="167.4" y="172.75" width="2.2" height="9.23" fill="#ffb820"/>
<rect x="168.8" y="172.75" width="2.2" height="9.23" fill="#ffb41e"/>
<rect x="170.2" y="172.75" width="2.2" height="9.23" fill="#ffb01d"/>
<rect x="171.6" y="172.75" width="2.2" height="9.23" fill="#ff8b0f"/>
<rect x="173.0" y="172.75" width="2.2" height="9.23" fill="#ff7909"/>
<rect x="174.4" y="172.75" width="2.2" height="9.23" fill="#fdbd20"/>
<rect x="175.8" y="172.75" width="2.2" height="9.23" fill="#ffb820"/>
<rect x="177.2" y="172.75" width="2.2" height="9.23" fill="#ffb01d"/>
<rect x="178.6" y="172.75" width="2.2" height="9.23" fill="#ffac1b"/>
<rect x="180.0" y="172.75" width="2.2" height="9.23" fill="#ffa81a"/>
<rect x="181.4" y="172.75" width="2.2" height="9.23" fill="#ff820c"/>
<rect x="182.8" y="172.75" width="2.2" height="9.23" fill="#ff7408"/>
<rect x="184.2" y="172.75" width="2.2" height="9.23" fill="#ffb820"/>
<rect x="185.6" y="172.75" width="2.2" height="9.23" fill="#ffb01d"/>
<rect x="187.0" y="172.75" width="2.2" height="9.23" fill="#ffac1b"/>
<rect x="188.4" y="172.75" width="3.6" height="9.23" fill="#ffa81a"/>
<rect x="191.2" y="172.75" width="2.2" height="9.23" fill="#ffa016"/>
<rect x="192.6" y="172.75" width="2.2" height="9.23" fill="#ff9c15"/>
<rect x="194.0" y="172.75" width="2.2" height="9.23" fill="#8ef204"/>
<rect x="195.4" y="172.75" width="2.2" height="9.23" fill="#a0f000"/>
<rect x="196.8" y="172.75" width="2.2" height="9.23" fill="#aeee00"/>
<rect x="198.2" y="172.75" width="2.2" height="9.23" fill="#b5ed00"/>
<rect x="199.6" y="172.75" width="2.2" height="9.23" fill="#bcec00"/>
<rect x="201.0" y="172.75" width="2.2" height="9.23" fill="#f0d820"/>
<rect x="202.4" y="172.75" width="2.2" height="9.23" fill="#f8c820"/>
<rect x="203.8" y="172.75" width="2.2" height="9.23" fill="#7cf307"/>
<rect x="205.2" y="172.75" width="2.2" height="9.23" fill="#a0f000"/>
<rect x="206.6" y="172.75" width="2.2" height="9.23" fill="#a7ef00"/>
<rect x="208.0" y="172.75" width="2.2" height="9.23" fill="#aeee00"/>
<rect x="209.4" y="172.75" width="2.2" height="9.23" fill="#b5ed00"/>
<rect x="210.8" y="172.75" width="2.2" height="9.23" fill="#f0d820"/>
<rect x="212.2" y="172.75" width="2.2" height="9.23" fill="#fac320"/>
<rect x="213.6" y="172.75" width="2.2" height="9.23" fill="#00fd31"/>
<rect x="215.0" y="172.75" width="2.2" height="9.23" fill="#00fe26"/>
<rect x="216.4" y="172.75" width="5.0" height="9.23" fill="#00fd31"/>
<rect x="220.6" y="172.75" width="2.2" height="9.23" fill="#dee408"/>
<rect x="222.0" y="172.75" width="2.2" height="9.23" fill="#f5cd20"/>
<rect x="223.4" y="172.75" width="2.2" height="9.23" fill="#47f812"/>
<rect x="224.8" y="172.75" width="2.2" height="9.23" fill="#59f70e"/>
<rect x="226.2" y="172.75" width="2.2" height="9.23" fill="#7cf307"/>
<rect x="227.6" y="172.75" width="2.2" height="9.23" fill="#8ef204"/>
<rect x="229.0" y="172.75" width="2.2" height="9.23" fill="#a0f000"/>
<rect x="230.4" y="172.75" width="2.2" height="9.23" fill="#d8e800"/>
<rect x="231.8" y="172.75" width="2.2" height="9.23" fill="#eadc18"/>
<rect x="233.2" y="172.75" width="2.2" height="9.23" fill="#00fd31"/>
<rect x="234.6" y="172.75" width="2.2" height="9.23" fill="#00fe26"/>
<rect x="236.0" y="172.75" width="2.2" height="9.23" fill="#00ff20"/>
<rect x="237.4" y="172.75" width="2.2" height="9.23" fill="#12fd1c"/>
<rect x="238.8" y="172.75" width="2.2" height="9.23" fill="#24fc19"/>
<rect x="240.1" y="172.75" width="2.2" height="9.23" fill="#a7ef00"/>
<rect x="241.5" y="172.75" width="2.2" height="9.23" fill="#bcec00"/>
<rect x="242.9" y="172.75" width="2.2" height="9.23" fill="#00fa4f"/>
<rect x="244.3" y="172.75" width="2.2" height="9.23" fill="#00fb49"/>
<rect x="245.7" y="172.75" width="2.2" height="9.23" fill="#00fc3d"/>
<rect x="247.1" y="172.75" width="2.2" height="9.23" fill="#00fc37"/>
<rect x="248.5" y="172.75" width="2.2" height="9.23" fill="#00fe2c"/>
<rect x="249.9" y="172.75" width="2.2" height="9.23" fill="#bcec00"/>
<rect x="251.3" y="172.75" width="2.2" height="9.23" fill="#dee408"/>
<rect x="252.7" y="172.75" width="2.2" height="9.23" fill="#00fa4f"/>
<rect x="254.1" y="172.75" width="2.2" height="9.23" fill="#00fb49"/>
<rect x="255.5" y="172.75" width="2.2" height="9.23" fill="#00fc3d"/>
<rect x="256.9" y="172.75" width="2.2" height="9.23" fill="#00fc37"/>
<rect x="258.3" y="172.75" width="2.2" height="9.23" fill="#00fe2c"/>
<rect x="259.7" y="172.75" width="2.2" height="9.23" fill="#b5ed00"/>
<rect x="261.1" y="172.75" width="2.2" height="9.23" fill="#d1e900"/>
<rect x="262.5" y="172.75" width="2.2" height="9.23" fill="#00f568"/>
<rect x="263.9" y="172.75" width="2.2" height="9.23" fill="#00f860"/>
<rect x="265.3" y="172.75" width="2.2" height="9.23" fill="#00f954"/>
<rect x="266.7" y="172.75" width="2.2" height="9.23" fill="#00fa4f"/>
<rect x="268.1" y="172.75" width="2.2" height="9.23" fill="#00fb43"/>
<rect x="269.5" y="172.75" width="2.2" height="9.23" fill="#8ef204"/>
<rect x="270.9" y="172.75" width="2.2" height="9.23" fill="#b5ed00"/>
<rect x="272.3" y="172.75" width="2.2" height="9.23" fill="#00c5dd"/>
<rect x="273.7" y="172.75" width="2.2" height="9.23" fill="#00cbd3"/>
<rect x="275.1" y="172.75" width="3.6" height="9.23" fill="#00cece"/>
<rect x="277.9" y="172.75" width="2.2" height="9.23" fill="#00d2ca"/>
<rect x="279.3" y="172.75" width="2.2" height="9.23" fill="#00d8c0"/>
<rect x="280.7" y="172.75" width="2.2" height="9.23" fill="#00ddb0"/>
<rect x="282.1" y="172.75" width="2.2" height="9.23" fill="#00b8f0"/>
<rect x="283.5" y="172.75" width="2.2" height="9.23" fill="#00bee6"/>
<rect x="284.9" y="172.75" width="2.2" height="9.23" fill="#00c2e2"/>
<rect x="286.3" y="172.75" width="2.2" height="9.23" fill="#00c5dd"/>
<rect x="287.7" y="172.75" width="2.2" height="9.23" fill="#00c8d8"/>
<rect x="289.1" y="172.75" width="2.2" height="9.23" fill="#00f95a"/>
<rect x="290.5" y="172.75" width="2.2" height="9.23" fill="#00fd31"/>
<rect x="291.9" y="172.75" width="2.2" height="9.23" fill="#029aff"/>
<rect x="293.3" y="172.75" width="2.2" height="9.23" fill="#00a3fd"/>
<rect x="294.7" y="172.75" width="2.2" height="9.23" fill="#00a5fc"/>
<rect x="296.1" y="172.75" width="3.6" height="9.23" fill="#00a8fa"/>
<rect x="298.9" y="172.75" width="2.2" height="9.23" fill="#00c5dd"/>
<rect x="300.3" y="172.75" width="2.2" height="9.23" fill="#00d5c5"/>
<rect x="301.7" y="172.75" width="2.2" height="9.23" fill="#0c7cff"/>
<rect x="303.1" y="172.75" width="2.2" height="9.23" fill="#0a82ff"/>
<rect x="304.5" y="172.75" width="2.2" height="9.23" fill="#068eff"/>
<rect x="305.9" y="172.75" width="3.6" height="9.23" fill="#0494ff"/>
<rect x="308.7" y="172.75" width="2.2" height="9.23" fill="#00b0f5"/>
<rect x="310.1" y="172.75" width="2.2" height="9.23" fill="#00c8d8"/>
<rect x="311.5" y="172.75" width="2.2" height="9.23" fill="#1762f6"/>
<rect x="312.9" y="172.75" width="2.2" height="9.23" fill="#1469fb"/>
<rect x="314.3" y="172.75" width="2.2" height="9.23" fill="#1070ff"/>
<rect x="315.7" y="172.75" width="3.6" height="9.23" fill="#0e76ff"/>
<rect x="318.5" y="172.75" width="2.2" height="9.23" fill="#00abf8"/>
<rect x="319.9" y="172.75" width="2.2" height="9.23" fill="#00cbd3"/>
<rect x="321.3" y="172.75" width="2.2" height="9.23" fill="#2a40e0"/>
<rect x="322.7" y="172.75" width="2.2" height="9.23" fill="#2647e4"/>
<rect x="324.1" y="172.75" width="3.6" height="9.23" fill="#234ee9"/>
<rect x="326.9" y="172.75" width="2.2" height="9.23" fill="#1f55ed"/>
<rect x="328.3" y="172.75" width="2.2" height="9.23" fill="#1070ff"/>
<rect x="329.7" y="172.75" width="2.2" height="9.23" fill="#0888ff"/>
<rect x="331.1" y="172.75" width="2.2" height="9.23" fill="#371354"/>
<rect x="332.5" y="172.75" width="2.2" height="9.23" fill="#381761"/>
<rect x="333.9" y="172.75" width="2.2" height="9.23" fill="#381b6e"/>
<rect x="335.3" y="172.75" width="2.2" height="9.23" fill="#391f7b"/>
<rect x="336.7" y="172.75" width="2.2" height="9.23" fill="#392489"/>
<rect x="338.1" y="172.75" width="2.2" height="9.23" fill="#1b5bf2"/>
<rect x="339.5" y="172.75" width="2.2" height="9.23" fill="#00a3fd"/>
<rect x="342.3" y="172.75" width="2.2" height="9.23" fill="#370e46"/>
<rect x="343.7" y="172.75" width="2.2" height="9.23" fill="#371354"/>
<rect x="345.1" y="172.75" width="2.2" height="9.23" fill="#2e3bd0"/>
<rect x="346.5" y="172.75" width="2.2" height="9.23" fill="#381b6e"/>
<rect x="347.9" y="172.75" width="2.2" height="9.23" fill="#0a82ff"/>
<rect x="349.3" y="172.75" width="2.2" height="9.23" fill="#00cbd3"/>
<rect x="350.7" y="172.75" width="2.2" height="9.23" fill="#381b6e"/>
<rect x="352.1" y="172.75" width="2.2" height="9.23" fill="#391f7b"/>
<rect x="353.5" y="172.75" width="2.2" height="9.23" fill="#392489"/>
<rect x="354.9" y="172.75" width="2.2" height="9.23" fill="#3a2896"/>
<rect x="356.3" y="172.75" width="2.2" height="9.23" fill="#382b9e"/>
<rect x="357.7" y="172.75" width="2.2" height="9.23" fill="#00a0ff"/>
<rect x="359.1" y="172.75" width="2.2" height="9.23" fill="#00dbb8"/>
<rect x="360.5" y="172.75" width="2.2" height="9.23" fill="#0c7cff"/>
<rect x="361.9" y="172.75" width="2.2" height="9.23" fill="#0a82ff"/>
<rect x="363.3" y="172.75" width="2.2" height="9.23" fill="#0888ff"/>
<rect x="364.7" y="172.75" width="2.2" height="9.23" fill="#068eff"/>
<rect x="366.1" y="172.75" width="2.2" height="9.23" fill="#0494ff"/>
<rect x="367.5" y="172.75" width="2.2" height="9.23" fill="#00d8c0"/>
<rect x="368.9" y="172.75" width="2.2" height="9.23" fill="#00fc37"/>
<rect x="370.3" y="172.75" width="2.2" height="9.23" fill="#00b0f5"/>
<rect x="371.7" y="172.75" width="2.2" height="9.23" fill="#00b3f3"/>
<rect x="373.1" y="172.75" width="2.2" height="9.23" fill="#00b5f2"/>
<rect x="374.5" y="172.75" width="2.2" height="9.23" fill="#00b8f0"/>
<rect x="375.9" y="172.75" width="2.2" height="9.23" fill="#00bbeb"/>
<rect x="377.3" y="172.75" width="2.2" height="9.23" fill="#00f568"/>
<rect x="378.6" y="172.75" width="2.2" height="9.23" fill="#6bf50b"/>
<rect x="380.0" y="172.75" width="2.2" height="9.23" fill="#00c8d8"/>
<rect x="381.4" y="172.75" width="2.2" height="9.23" fill="#00cbd3"/>
<rect x="382.8" y="172.75" width="2.2" height="9.23" fill="#00cece"/>
<rect x="384.2" y="172.75" width="2.2" height="9.23" fill="#00d2ca"/>
<rect x="385.6" y="172.75" width="2.2" height="9.23" fill="#00d5c5"/>
<rect x="387.0" y="172.75" width="2.2" height="9.23" fill="#00f370"/>
<rect x="388.4" y="172.75" width="2.2" height="9.23" fill="#00fe2c"/>
<rect x="389.8" y="172.75" width="2.2" height="9.23" fill="#00d2ca"/>
<rect x="391.2" y="172.75" width="2.2" height="9.23" fill="#00d5c5"/>
<rect x="392.6" y="172.75" width="2.2" height="9.23" fill="#00d8c0"/>
<rect x="394.0" y="172.75" width="2.2" height="9.23" fill="#00dbb8"/>
<rect x="395.4" y="172.75" width="2.2" height="9.23" fill="#00ddb0"/>
<rect x="396.8" y="172.75" width="2.2" height="9.23" fill="#35fa15"/>
<rect x="398.2" y="172.75" width="2.2" height="9.23" fill="#ffb01d"/>
<rect x="399.6" y="172.75" width="2.2" height="9.23" fill="#fdbd20"/>
<rect x="401.0" y="172.75" width="2.2" height="9.23" fill="#ffb820"/>
<rect x="402.4" y="172.75" width="2.2" height="9.23" fill="#fac320"/>
<rect x="403.8" y="172.75" width="5.0" height="9.23" fill="#00f078"/>
<rect x="408.0" y="172.75" width="2.2" height="9.23" fill="#aeee00"/>
<rect x="409.4" y="172.75" width="2.2" height="9.23" fill="#00fb43"/>
<rect x="410.8" y="172.75" width="2.2" height="9.23" fill="#00fc3d"/>
<rect x="412.2" y="172.75" width="2.2" height="9.23" fill="#00fc37"/>
<rect x="413.6" y="172.75" width="2.2" height="9.23" fill="#7cf307"/>
<rect x="415.0" y="172.75" width="2.2" height="9.23" fill="#00fe2c"/>
<rect x="416.4" y="172.75" width="2.2" height="9.23" fill="#a7ef00"/>
<rect x="417.8" y="172.75" width="2.2" height="9.23" fill="#f0d820"/>
<rect x="419.2" y="172.75" width="2.2" height="9.23" fill="#00fd31"/>
<rect x="420.6" y="172.75" width="2.2" height="9.23" fill="#00fe2c"/>
<rect x="422.0" y="172.75" width="2.2" height="9.23" fill="#00fe26"/>
<rect x="423.4" y="172.75" width="2.2" height="9.23" fill="#00ff20"/>
<rect x="424.8" y="172.75" width="2.2" height="9.23" fill="#12fd1c"/>
<rect x="426.2" y="172.75" width="2.2" height="9.23" fill="#b5ed00"/>
<rect x="427.6" y="172.75" width="2.2" height="9.23" fill="#f5cd20"/>
<rect x="429.0" y="172.75" width="2.2" height="9.23" fill="#00fe26"/>
<rect x="430.4" y="172.75" width="2.2" height="9.23" fill="#00ff20"/>
<rect x="431.8" y="172.75" width="2.2" height="9.23" fill="#12fd1c"/>
<rect x="433.2" y="172.75" width="2.2" height="9.23" fill="#24fc19"/>
<rect x="434.6" y="172.75" width="2.2" height="9.23" fill="#35fa15"/>
<rect x="436.0" y="172.75" width="2.2" height="9.23" fill="#d1e900"/>
<rect x="437.4" y="172.75" width="2.2" height="9.23" fill="#ffb820"/>
<rect x="438.8" y="172.75" width="2.2" height="9.23" fill="#00fd31"/>
<rect x="440.2" y="172.75" width="2.2" height="9.23" fill="#00fe2c"/>
<rect x="441.6" y="172.75" width="2.2" height="9.23" fill="#00fe26"/>
<rect x="443.0" y="172.75" width="2.2" height="9.23" fill="#00ff20"/>
<rect x="444.4" y="172.75" width="2.2" height="9.23" fill="#12fd1c"/>
<rect x="445.8" y="172.75" width="2.2" height="9.23" fill="#aeee00"/>
<rect x="447.2" y="172.75" width="2.2" height="9.23" fill="#f0d820"/>
<rect x="448.6" y="172.75" width="2.2" height="9.23" fill="#00f860"/>
<rect x="450.0" y="172.75" width="2.2" height="9.23" fill="#00f95a"/>
<rect x="451.4" y="172.75" width="2.2" height="9.23" fill="#00f954"/>
<rect x="452.8" y="172.75" width="2.2" height="9.23" fill="#00fa4f"/>
<rect x="454.2" y="172.75" width="2.2" height="9.23" fill="#00fb49"/>
<rect x="455.6" y="172.75" width="2.2" height="9.23" fill="#12fd1c"/>
<rect x="457.0" y="172.75" width="2.2" height="9.23" fill="#a0f000"/>
<rect x="458.4" y="172.75" width="2.2" height="9.23" fill="#00e890"/>
<rect x="459.8" y="172.75" width="2.2" height="9.23" fill="#00eb88"/>
<rect x="461.2" y="172.75" width="2.2" height="9.23" fill="#00ed80"/>
<rect x="462.6" y="172.75" width="2.2" height="9.23" fill="#00f078"/>
<rect x="464.0" y="172.75" width="2.2" height="9.23" fill="#00f370"/>
<rect x="465.4" y="172.75" width="2.2" height="9.23" fill="#00fd31"/>
<rect x="466.8" y="172.75" width="2.2" height="9.23" fill="#7cf307"/>
<rect x="468.2" y="172.75" width="2.2" height="9.23" fill="#00ddb0"/>
<rect x="469.6" y="172.75" width="2.2" height="9.23" fill="#00e0a8"/>
<rect x="471.0" y="172.75" width="2.2" height="9.23" fill="#00e3a0"/>
<rect x="472.4" y="172.75" width="2.2" height="9.23" fill="#00e598"/>
<rect x="473.8" y="172.75" width="2.2" height="9.23" fill="#00e890"/>
<rect x="475.2" y="172.75" width="2.2" height="9.23" fill="#00fb49"/>
<rect x="476.6" y="172.75" width="2.2" height="9.23" fill="#35fa15"/>
<rect x="478.0" y="172.75" width="2.2" height="9.23" fill="#00cece"/>
<rect x="479.4" y="172.75" width="2.2" height="9.23" fill="#00d2ca"/>
<rect x="480.8" y="172.75" width="2.2" height="9.23" fill="#00d5c5"/>
<rect x="482.2" y="172.75" width="2.2" height="9.23" fill="#00d8c0"/>
<rect x="483.6" y="172.75" width="2.2" height="9.23" fill="#00dbb8"/>
<rect x="485.0" y="172.75" width="2.2" height="9.23" fill="#00f370"/>
<rect x="486.4" y="172.75" width="2.2" height="9.23" fill="#00fd31"/>
<rect x="487.8" y="172.75" width="2.2" height="9.23" fill="#00bbeb"/>
<rect x="489.2" y="172.75" width="2.2" height="9.23" fill="#00bee6"/>
<rect x="490.6" y="172.75" width="2.2" height="9.23" fill="#00c2e2"/>
<rect x="492.0" y="172.75" width="2.2" height="9.23" fill="#00c5dd"/>
<rect x="493.4" y="172.75" width="2.2" height="9.23" fill="#00c8d8"/>
<rect x="494.8" y="172.75" width="2.2" height="9.23" fill="#00e890"/>
<rect x="496.2" y="172.75" width="2.2" height="9.23" fill="#00fb49"/>
<rect x="497.6" y="172.75" width="2.2" height="9.23" fill="#1070ff"/>
<rect x="499.0" y="172.75" width="2.2" height="9.23" fill="#0e76ff"/>
<rect x="500.4" y="172.75" width="2.2" height="9.23" fill="#0c7cff"/>
<rect x="501.8" y="172.75" width="2.2" height="9.23" fill="#0a82ff"/>
<rect x="503.2" y="172.75" width="2.2" height="9.23" fill="#0888ff"/>
<rect x="504.6" y="172.75" width="2.2" height="9.23" fill="#00b3f3"/>
<rect x="506.0" y="172.75" width="2.2" height="9.23" fill="#00d5c5"/>
<rect x="507.4" y="172.75" width="2.2" height="9.23" fill="#2a40e0"/>
<rect x="508.8" y="172.75" width="2.2" height="9.23" fill="#2647e4"/>
<rect x="510.2" y="172.75" width="2.2" height="9.23" fill="#234ee9"/>
<rect x="511.6" y="172.75" width="2.2" height="9.23" fill="#1f55ed"/>
<rect x="513.0" y="172.75" width="2.2" height="9.23" fill="#1b5bf2"/>
<rect x="514.4" y="172.75" width="2.2" height="9.23" fill="#00a5fc"/>
<rect x="515.8" y="172.75" width="2.2" height="9.23" fill="#00c5dd"/>
<rect x="517.2" y="172.75" width="2.2" height="9.23" fill="#1f55ed"/>
<rect x="518.6" y="172.75" width="2.2" height="9.23" fill="#1b5bf2"/>
<rect x="519.9" y="172.75" width="2.2" height="9.23" fill="#1762f6"/>
<rect x="521.3" y="172.75" width="2.2" height="9.23" fill="#1469fb"/>
<rect x="522.7" y="172.75" width="2.2" height="9.23" fill="#1070ff"/>
<rect x="524.1" y="172.75" width="2.2" height="9.23" fill="#00bee6"/>
<rect x="525.5" y="172.75" width="2.2" height="9.23" fill="#00ed80"/>
<rect x="526.9" y="172.75" width="5.0" height="9.23" fill="#00a3fd"/>
<rect x="531.1" y="172.75" width="2.2" height="9.23" fill="#1070ff"/>
<rect x="532.5" y="172.75" width="2.2" height="9.23" fill="#0e76ff"/>
<rect x="533.9" y="172.75" width="2.2" height="9.23" fill="#00b5f2"/>
<rect x="535.3" y="172.75" width="2.2" height="9.23" fill="#00e0a8"/>
<rect x="536.7" y="172.75" width="2.2" height="9.23" fill="#1b5bf2"/>
<rect x="538.1" y="172.75" width="2.2" height="9.23" fill="#1762f6"/>
<rect x="35.9" y="181.38" width="2.2" height="9.23" fill="#3a2896"/>
<rect x="45.7" y="181.38" width="2.2" height="9.23" fill="#3a2896"/>
<rect x="55.5" y="181.38" width="2.2" height="9.23" fill="#3a2896"/>
<rect x="65.3" y="181.38" width="2.2" height="9.23" fill="#3a2896"/>
<rect x="73.7" y="181.38" width="2.2" height="9.23" fill="#371354"/>
<rect x="75.1" y="181.38" width="2.2" height="9.23" fill="#1b5bf2"/>
<rect x="82.1" y="181.38" width="2.2" height="9.23" fill="#3a2896"/>
<rect x="83.5" y="181.38" width="2.2" height="9.23" fill="#2c3dd8"/>
<rect x="84.9" y="181.38" width="2.2" height="9.23" fill="#0c7cff"/>
<rect x="91.9" y="181.38" width="2.2" height="9.23" fill="#00ed80"/>
<rect x="93.3" y="181.38" width="2.2" height="9.23" fill="#00f860"/>
<rect x="94.7" y="181.38" width="2.2" height="9.23" fill="#00ed80"/>
<rect x="96.1" y="181.38" width="2.2" height="9.23" fill="#370e46"/>
<rect x="97.5" y="181.38" width="2.2" height="9.23" fill="#371354"/>
<rect x="98.8" y="181.38" width="2.2" height="9.23" fill="#381761"/>
<rect x="100.2" y="181.38" width="2.2" height="9.23" fill="#381b6e"/>
<rect x="101.6" y="181.38" width="2.2" height="9.23" fill="#391f7b"/>
<rect x="103.0" y="181.38" width="2.2" height="9.23" fill="#1b5bf2"/>
<rect x="104.4" y="181.38" width="2.2" height="9.23" fill="#0e76ff"/>
<rect x="105.8" y="181.38" width="2.2" height="9.23" fill="#391f7b"/>
<rect x="107.2" y="181.38" width="2.2" height="9.23" fill="#392489"/>
<rect x="108.6" y="181.38" width="2.2" height="9.23" fill="#3a2896"/>
<rect x="110.0" y="181.38" width="2.2" height="9.23" fill="#382b9e"/>
<rect x="111.4" y="181.38" width="2.2" height="9.23" fill="#1f55ed"/>
<rect x="112.8" y="181.38" width="2.2" height="9.23" fill="#2f38c7"/>
<rect x="114.2" y="181.38" width="2.2" height="9.23" fill="#00b0f5"/>
<rect x="115.6" y="181.38" width="2.2" height="9.23" fill="#2a40e0"/>
<rect x="117.0" y="181.38" width="2.2" height="9.23" fill="#234ee9"/>
<rect x="118.4" y="181.38" width="2.2" height="9.23" fill="#1f55ed"/>
<rect x="119.8" y="181.38" width="2.2" height="9.23" fill="#1b5bf2"/>
<rect x="121.2" y="181.38" width="2.2" height="9.23" fill="#1469fb"/>
<rect x="122.6" y="181.38" width="2.2" height="9.23" fill="#00b3f3"/>
<rect x="124.0" y="181.38" width="2.2" height="9.23" fill="#00c2e2"/>
<rect x="125.4" y="181.38" width="2.2" height="9.23" fill="#1b5bf2"/>
<rect x="126.8" y="181.38" width="2.2" height="9.23" fill="#1469fb"/>
<rect x="128.2" y="181.38" width="2.2" height="9.23" fill="#1070ff"/>
<rect x="129.6" y="181.38" width="2.2" height="9.23" fill="#0e76ff"/>
<rect x="131.0" y="181.38" width="2.2" height="9.23" fill="#0a82ff"/>
<rect x="132.4" y="181.38" width="2.2" height="9.23" fill="#00bbeb"/>
<rect x="133.8" y="181.38" width="2.2" height="9.23" fill="#00c8d8"/>
<rect x="135.2" y="181.38" width="2.2" height="9.23" fill="#0e76ff"/>
<rect x="136.6" y="181.38" width="2.2" height="9.23" fill="#0a82ff"/>
<rect x="138.0" y="181.38" width="2.2" height="9.23" fill="#0888ff"/>
<rect x="139.4" y="181.38" width="2.2" height="9.23" fill="#068eff"/>
<rect x="140.8" y="181.38" width="2.2" height="9.23" fill="#029aff"/>
<rect x="142.2" y="181.38" width="2.2" height="9.23" fill="#00d2ca"/>
<rect x="143.6" y="181.38" width="2.2" height="9.23" fill="#00e3a0"/>
<rect x="145.0" y="181.38" width="2.2" height="9.23" fill="#00a5fc"/>
<rect x="146.4" y="181.38" width="2.2" height="9.23" fill="#00a8fa"/>
<rect x="147.8" y="181.38" width="2.2" height="9.23" fill="#00adf7"/>
<rect x="149.2" y="181.38" width="2.2" height="9.23" fill="#00b0f5"/>
<rect x="150.6" y="181.38" width="2.2" height="9.23" fill="#00b5f2"/>
<rect x="152.0" y="181.38" width="2.2" height="9.23" fill="#00ddb0"/>
<rect x="153.4" y="181.38" width="2.2" height="9.23" fill="#35fa15"/>
<rect x="154.8" y="181.38" width="2.2" height="9.23" fill="#00e0a8"/>
<rect x="156.2" y="181.38" width="2.2" height="9.23" fill="#00e3a0"/>
<rect x="157.6" y="181.38" width="2.2" height="9.23" fill="#00e890"/>
<rect x="159.0" y="181.38" width="2.2" height="9.23" fill="#00ed80"/>
<rect x="160.4" y="181.38" width="2.2" height="9.23" fill="#00f370"/>
<rect x="161.8" y="181.38" width="2.2" height="9.23" fill="#12fd1c"/>
<rect x="163.2" y="181.38" width="2.2" height="9.23" fill="#6bf50b"/>
<rect x="164.6" y="181.38" width="2.2" height="9.23" fill="#00e598"/>
<rect x="166.0" y="181.38" width="2.2" height="9.23" fill="#00e890"/>
<rect x="167.4" y="181.38" width="2.2" height="9.23" fill="#00ed80"/>
<rect x="168.8" y="181.38" width="2.2" height="9.23" fill="#00f370"/>
<rect x="170.2" y="181.38" width="2.2" height="9.23" fill="#00f860"/>
<rect x="171.6" y="181.38" width="2.2" height="9.23" fill="#35fa15"/>
<rect x="173.0" y="181.38" width="2.2" height="9.23" fill="#7cf307"/>
<rect x="174.4" y="181.38" width="2.2" height="9.23" fill="#00eb88"/>
<rect x="175.8" y="181.38" width="2.2" height="9.23" fill="#00ed80"/>
<rect x="177.2" y="181.38" width="2.2" height="9.23" fill="#00f370"/>
<rect x="178.6" y="181.38" width="2.2" height="9.23" fill="#00f860"/>
<rect x="180.0" y="181.38" width="2.2" height="9.23" fill="#00f954"/>
<rect x="181.4" y="181.38" width="2.2" height="9.23" fill="#47f812"/>
<rect x="182.8" y="181.38" width="2.2" height="9.23" fill="#8ef204"/>
<rect x="184.2" y="181.38" width="2.2" height="9.23" fill="#00ed80"/>
<rect x="185.6" y="181.38" width="2.2" height="9.23" fill="#00f370"/>
<rect x="187.0" y="181.38" width="2.2" height="9.23" fill="#00f568"/>
<rect x="188.4" y="181.38" width="2.2" height="9.23" fill="#00f95a"/>
<rect x="189.8" y="181.38" width="2.2" height="9.23" fill="#00fa4f"/>
<rect x="191.2" y="181.38" width="2.2" height="9.23" fill="#00fd31"/>
<rect x="192.6" y="181.38" width="2.2" height="9.23" fill="#00fe26"/>
<rect x="194.0" y="181.38" width="2.2" height="9.23" fill="#00e3a0"/>
<rect x="195.4" y="181.38" width="2.2" height="9.23" fill="#00e890"/>
<rect x="196.8" y="181.38" width="2.2" height="9.23" fill="#00eb88"/>
<rect x="198.2" y="181.38" width="2.2" height="9.23" fill="#00ed80"/>
<rect x="199.6" y="181.38" width="2.2" height="9.23" fill="#00f370"/>
<rect x="201.0" y="181.38" width="2.2" height="9.23" fill="#00fd31"/>
<rect x="202.4" y="181.38" width="2.2" height="9.23" fill="#12fd1c"/>
<rect x="203.8" y="181.38" width="2.2" height="9.23" fill="#00e0a8"/>
<rect x="205.2" y="181.38" width="2.2" height="9.23" fill="#00e3a0"/>
<rect x="206.6" y="181.38" width="2.2" height="9.23" fill="#00e890"/>
<rect x="208.0" y="181.38" width="2.2" height="9.23" fill="#00eb88"/>
<rect x="209.4" y="181.38" width="2.2" height="9.23" fill="#00f078"/>
<rect x="210.8" y="181.38" width="2.2" height="9.23" fill="#00fe2c"/>
<rect x="212.2" y="181.38" width="2.2" height="9.23" fill="#24fc19"/>
<rect x="213.6" y="181.38" width="2.2" height="9.23" fill="#00c2e2"/>
<rect x="215.0" y="181.38" width="2.2" height="9.23" fill="#00c5dd"/>
<rect x="216.4" y="181.38" width="5.0" height="9.23" fill="#00c2e2"/>
<rect x="220.6" y="181.38" width="2.2" height="9.23" fill="#00fb43"/>
<rect x="222.0" y="181.38" width="2.2" height="9.23" fill="#00fe26"/>
<rect x="223.4" y="181.38" width="2.2" height="9.23" fill="#00d8c0"/>
<rect x="224.8" y="181.38" width="2.2" height="9.23" fill="#00ddb0"/>
<rect x="226.2" y="181.38" width="2.2" height="9.23" fill="#00e0a8"/>
<rect x="227.6" y="181.38" width="2.2" height="9.23" fill="#00e3a0"/>
<rect x="229.0" y="181.38" width="2.2" height="9.23" fill="#00e890"/>
<rect x="230.4" y="181.38" width="2.2" height="9.23" fill="#00fb49"/>
<rect x="231.8" y="181.38" width="2.2" height="9.23" fill="#00fd31"/>
<rect x="233.2" y="181.38" width="2.2" height="9.23" fill="#00c2e2"/>
<rect x="234.6" y="181.38" width="2.2" height="9.23" fill="#00c5dd"/>
<rect x="236.0" y="181.38" width="2.2" height="9.23" fill="#00cbd3"/>
<rect x="237.4" y="181.38" width="2.2" height="9.23" fill="#00cece"/>
<rect x="238.8" y="181.38" width="2.2" height="9.23" fill="#00d5c5"/>
<rect x="240.1" y="181.38" width="2.2" height="9.23" fill="#00f078"/>
<rect x="241.5" y="181.38" width="2.2" height="9.23" fill="#00f95a"/>
<rect x="242.9" y="181.38" width="2.2" height="9.23" fill="#00b8f0"/>
<rect x="244.3" y="181.38" width="2.2" height="9.23" fill="#00bee6"/>
<rect x="245.7" y="181.38" width="2.2" height="9.23" fill="#00c2e2"/>
<rect x="247.1" y="181.38" width="2.2" height="9.23" fill="#00c5dd"/>
<rect x="248.5" y="181.38" width="2.2" height="9.23" fill="#00c8d8"/>
<rect x="249.9" y="181.38" width="2.2" height="9.23" fill="#00e3a0"/>
<rect x="251.3" y="181.38" width="2.2" height="9.23" fill="#00ed80"/>
<rect x="252.7" y="181.38" width="2.2" height="9.23" fill="#00b8f0"/>
<rect x="254.1" y="181.38" width="2.2" height="9.23" fill="#00bee6"/>
<rect x="255.5" y="181.38" width="2.2" height="9.23" fill="#00c2e2"/>
<rect x="256.9" y="181.38" width="2.2" height="9.23" fill="#00c5dd"/>
<rect x="258.3" y="181.38" width="2.2" height="9.23" fill="#00c8d8"/>
<rect x="259.7" y="181.38" width="2.2" height="9.23" fill="#00e0a8"/>
<rect x="261.1" y="181.38" width="2.2" height="9.23" fill="#00e890"/>
<rect x="262.5" y="181.38" width="2.2" height="9.23" fill="#00adf7"/>
<rect x="263.9" y="181.38" width="2.2" height="9.23" fill="#00b3f3"/>
<rect x="265.3" y="181.38" width="2.2" height="9.23" fill="#00b5f2"/>
<rect x="266.7" y="181.38" width="2.2" height="9.23" fill="#00b8f0"/>
<rect x="268.1" y="181.38" width="2.2" height="9.23" fill="#00bbeb"/>
<rect x="269.5" y="181.38" width="2.2" height="9.23" fill="#00d5c5"/>
<rect x="270.9" y="181.38" width="2.2" height="9.23" fill="#00ddb0"/>
<rect x="272.3" y="181.38" width="2.2" height="9.23" fill="#1b5bf2"/>
<rect x="273.7" y="181.38" width="2.2" height="9.23" fill="#1469fb"/>
<rect x="275.1" y="181.38" width="6.4" height="9.23" fill="#1070ff"/>
<rect x="280.7" y="181.38" width="2.2" height="9.23" fill="#0c7cff"/>
<rect x="282.1" y="181.38" width="2.2" height="9.23" fill="#2a40e0"/>
<rect x="283.5" y="181.38" width="2.2" height="9.23" fill="#234ee9"/>
<rect x="284.9" y="181.38" width="2.2" height="9.23" fill="#1f55ed"/>
<rect x="286.3" y="181.38" width="2.2" height="9.23" fill="#1b5bf2"/>
<rect x="287.7" y="181.38" width="2.2" height="9.23" fill="#1762f6"/>
<rect x="289.1" y="181.38" width="2.2" height="9.23" fill="#00b0f5"/>
<rect x="290.5" y="181.38" width="2.2" height="9.23" fill="#00c2e2"/>
<rect x="291.9" y="181.38" width="2.2" height="9.23" fill="#392489"/>
<rect x="293.3" y="181.38" width="2.2" height="9.23" fill="#382b9e"/>
<rect x="294.7" y="181.38" width="2.2" height="9.23" fill="#362da6"/>
<rect x="296.1" y="181.38" width="3.6" height="9.23" fill="#3530af"/>
<rect x="298.9" y="181.38" width="2.2" height="9.23" fill="#234ee9"/>
<rect x="300.3" y="181.38" width="2.2" height="9.23" fill="#1469fb"/>
<rect x="308.7" y="181.38" width="2.2" height="9.23" fill="#2f38c7"/>
<rect x="310.1" y="181.38" width="2.2" height="9.23" fill="#0888ff"/>
<rect x="318.5" y="181.38" width="2.2" height="9.23" fill="#3333b7"/>
<rect x="319.9" y="181.38" width="2.2" height="9.23" fill="#068eff"/>
<rect x="329.7" y="181.38" width="2.2" height="9.23" fill="#362da6"/>
<rect x="339.5" y="181.38" width="2.2" height="9.23" fill="#2e3bd0"/>
<rect x="347.9" y="181.38" width="2.2" height="9.23" fill="#391f7b"/>
<rect x="349.3" y="181.38" width="2.2" height="9.23" fill="#068eff"/>
<rect x="357.7" y="181.38" width="2.2" height="9.23" fill="#362da6"/>
<rect x="359.1" y="181.38" width="2.2" height="9.23" fill="#00a5fc"/>
<rect x="361.9" y="181.38" width="2.2" height="9.23" fill="#370e46"/>
<rect x="363.3" y="181.38" width="2.2" height="9.23" fill="#371354"/>
<rect x="364.7" y="181.38" width="3.6" height="9.23" fill="#381761"/>
<rect x="367.5" y="181.38" width="2.2" height="9.23" fill="#1070ff"/>
<rect x="368.9" y="181.38" width="2.2" height="9.23" fill="#00b8f0"/>
<rect x="370.3" y="181.38" width="2.2" height="9.23" fill="#3135bf"/>
<rect x="371.7" y="181.38" width="2.2" height="9.23" fill="#2f38c7"/>
<rect x="373.1" y="181.38" width="2.2" height="9.23" fill="#2e3bd0"/>
<rect x="374.5" y="181.38" width="3.6" height="9.23" fill="#2c3dd8"/>
<rect x="377.3" y="181.38" width="2.2" height="9.23" fill="#00a5fc"/>
<rect x="378.6" y="181.38" width="2.2" height="9.23" fill="#00d8c0"/>
<rect x="380.0" y="181.38" width="2.2" height="9.23" fill="#1b5bf2"/>
<rect x="381.4" y="181.38" width="2.2" height="9.23" fill="#1762f6"/>
<rect x="382.8" y="181.38" width="2.2" height="9.23" fill="#1469fb"/>
<rect x="384.2" y="181.38" width="3.6" height="9.23" fill="#1070ff"/>
<rect x="387.0" y="181.38" width="2.2" height="9.23" fill="#00a5fc"/>
<rect x="388.4" y="181.38" width="2.2" height="9.23" fill="#00bee6"/>
<rect x="389.8" y="181.38" width="2.2" height="9.23" fill="#1070ff"/>
<rect x="391.2" y="181.38" width="2.2" height="9.23" fill="#0e76ff"/>
<rect x="392.6" y="181.38" width="2.2" height="9.23" fill="#0c7cff"/>
<rect x="394.0" y="181.38" width="3.6" height="9.23" fill="#0a82ff"/>
<rect x="396.8" y="181.38" width="2.2" height="9.23" fill="#00d5c5"/>
<rect x="398.2" y="181.38" width="2.2" height="9.23" fill="#a0f000"/>
<rect x="399.6" y="181.38" width="2.2" height="9.23" fill="#6bf50b"/>
<rect x="401.0" y="181.38" width="2.2" height="9.23" fill="#7cf307"/>
<rect x="402.4" y="181.38" width="2.2" height="9.23" fill="#59f70e"/>
<rect x="403.8" y="181.38" width="5.0" height="9.23" fill="#1469fb"/>
<rect x="408.0" y="181.38" width="2.2" height="9.23" fill="#00cece"/>
<rect x="409.4" y="181.38" width="2.2" height="9.23" fill="#029aff"/>
<rect x="410.8" y="181.38" width="2.2" height="9.23" fill="#00a0ff"/>
<rect x="412.2" y="181.38" width="2.2" height="9.23" fill="#00a3fd"/>
<rect x="413.6" y="181.38" width="2.2" height="9.23" fill="#00c5dd"/>
<rect x="415.0" y="181.38" width="2.2" height="9.23" fill="#00a8fa"/>
<rect x="416.4" y="181.38" width="2.2" height="9.23" fill="#00cbd3"/>
<rect x="417.8" y="181.38" width="2.2" height="9.23" fill="#00eb88"/>
<rect x="419.2" y="181.38" width="2.2" height="9.23" fill="#00a5fc"/>
<rect x="420.6" y="181.38" width="2.2" height="9.23" fill="#00a8fa"/>
<rect x="422.0" y="181.38" width="2.2" height="9.23" fill="#00abf8"/>
<rect x="423.4" y="181.38" width="2.2" height="9.23" fill="#00adf7"/>
<rect x="424.8" y="181.38" width="2.2" height="9.23" fill="#00b0f5"/>
<rect x="426.2" y="181.38" width="2.2" height="9.23" fill="#00d2ca"/>
<rect x="427.6" y="181.38" width="2.2" height="9.23" fill="#00f078"/>
<rect x="429.0" y="181.38" width="2.2" height="9.23" fill="#00abf8"/>
<rect x="430.4" y="181.38" width="2.2" height="9.23" fill="#00adf7"/>
<rect x="431.8" y="181.38" width="2.2" height="9.23" fill="#00b0f5"/>
<rect x="433.2" y="181.38" width="2.2" height="9.23" fill="#00b3f3"/>
<rect x="434.6" y="181.38" width="2.2" height="9.23" fill="#00b5f2"/>
<rect x="436.0" y="181.38" width="2.2" height="9.23" fill="#00ddb0"/>
<rect x="437.4" y="181.38" width="2.2" height="9.23" fill="#00f95a"/>
<rect x="438.8" y="181.38" width="2.2" height="9.23" fill="#00a5fc"/>
<rect x="440.2" y="181.38" width="2.2" height="9.23" fill="#00a8fa"/>
<rect x="441.6" y="181.38" width="2.2" height="9.23" fill="#00abf8"/>
<rect x="443.0" y="181.38" width="2.2" height="9.23" fill="#00adf7"/>
<rect x="444.4" y="181.38" width="2.2" height="9.23" fill="#00b0f5"/>
<rect x="445.8" y="181.38" width="2.2" height="9.23" fill="#00cece"/>
<rect x="447.2" y="181.38" width="2.2" height="9.23" fill="#00eb88"/>
<rect x="448.6" y="181.38" width="2.2" height="9.23" fill="#0e76ff"/>
<rect x="450.0" y="181.38" width="2.2" height="9.23" fill="#0c7cff"/>
<rect x="451.4" y="181.38" width="2.2" height="9.23" fill="#0a82ff"/>
<rect x="452.8" y="181.38" width="2.2" height="9.23" fill="#0888ff"/>
<rect x="454.2" y="181.38" width="2.2" height="9.23" fill="#068eff"/>
<rect x="455.6" y="181.38" width="2.2" height="9.23" fill="#00b0f5"/>
<rect x="457.0" y="181.38" width="2.2" height="9.23" fill="#00cbd3"/>
<rect x="458.4" y="181.38" width="2.2" height="9.23" fill="#234ee9"/>
<rect x="459.8" y="181.38" width="2.2" height="9.23" fill="#1f55ed"/>
<rect x="461.2" y="181.38" width="2.2" height="9.23" fill="#1b5bf2"/>
<rect x="462.6" y="181.38" width="2.2" height="9.23" fill="#1762f6"/>
<rect x="464.0" y="181.38" width="2.2" height="9.23" fill="#1469fb"/>
<rect x="465.4" y="181.38" width="2.2" height="9.23" fill="#00a5fc"/>
<rect x="466.8" y="181.38" width="2.2" height="9.23" fill="#00c2e2"/>
<rect x="468.2" y="181.38" width="2.2" height="9.23" fill="#2e3bd0"/>
<rect x="469.6" y="181.38" width="2.2" height="9.23" fill="#2c3dd8"/>
<rect x="471.0" y="181.38" width="2.2" height="9.23" fill="#2a40e0"/>
<rect x="472.4" y="181.38" width="2.2" height="9.23" fill="#2647e4"/>
<rect x="473.8" y="181.38" width="2.2" height="9.23" fill="#234ee9"/>
<rect x="475.2" y="181.38" width="2.2" height="9.23" fill="#0494ff"/>
<rect x="476.6" y="181.38" width="2.2" height="9.23" fill="#00b5f2"/>
<rect x="478.0" y="181.38" width="2.2" height="9.23" fill="#362da6"/>
<rect x="479.4" y="181.38" width="2.2" height="9.23" fill="#3530af"/>
<rect x="480.8" y="181.38" width="2.2" height="9.23" fill="#3333b7"/>
<rect x="482.2" y="181.38" width="2.2" height="9.23" fill="#3135bf"/>
<rect x="483.6" y="181.38" width="2.2" height="9.23" fill="#2f38c7"/>
<rect x="485.0" y="181.38" width="2.2" height="9.23" fill="#1070ff"/>
<rect x="486.4" y="181.38" width="2.2" height="9.23" fill="#00a5fc"/>
<rect x="487.8" y="181.38" width="2.2" height="9.23" fill="#381761"/>
<rect x="489.2" y="181.38" width="2.2" height="9.23" fill="#381b6e"/>
<rect x="490.6" y="181.38" width="2.2" height="9.23" fill="#391f7b"/>
<rect x="492.0" y="181.38" width="2.2" height="9.23" fill="#392489"/>
<rect x="493.4" y="181.38" width="2.2" height="9.23" fill="#3a2896"/>
<rect x="494.8" y="181.38" width="2.2" height="9.23" fill="#234ee9"/>
<rect x="496.2" y="181.38" width="2.2" height="9.23" fill="#0494ff"/>
<rect x="504.6" y="181.38" width="2.2" height="9.23" fill="#3a2896"/>
<rect x="506.0" y="181.38" width="2.2" height="9.23" fill="#1070ff"/>
<rect x="514.4" y="181.38" width="2.2" height="9.23" fill="#370e46"/>
<rect x="515.8" y="181.38" width="2.2" height="9.23" fill="#234ee9"/>
<rect x="524.1" y="181.38" width="2.2" height="9.23" fill="#3530af"/>
<rect x="525.5" y="181.38" width="2.2" height="9.23" fill="#00a3fd"/>
<rect x="533.9" y="181.38" width="2.2" height="9.23" fill="#3a2896"/>
<rect x="535.3" y="181.38" width="2.2" height="9.23" fill="#0888ff"/>
<rect x="93.3" y="190.01" width="2.2" height="9.23" fill="#370e46"/>
<rect x="124.0" y="190.01" width="2.2" height="9.23" fill="#371354"/>
<rect x="133.8" y="190.01" width="2.2" height="9.23" fill="#381b6e"/>
<rect x="142.2" y="190.01" width="2.2" height="9.23" fill="#3a2896"/>
<rect x="143.6" y="190.01" width="2.2" height="9.23" fill="#2f38c7"/>
<rect x="152.0" y="190.01" width="2.2" height="9.23" fill="#3530af"/>
<rect x="153.4" y="190.01" width="2.2" height="9.23" fill="#0494ff"/>
<rect x="154.8" y="190.01" width="2.2" height="9.23" fill="#382b9e"/>
<rect x="156.2" y="190.01" width="2.2" height="9.23" fill="#3530af"/>
<rect x="157.6" y="190.01" width="2.2" height="9.23" fill="#3333b7"/>
<rect x="159.0" y="190.01" width="2.2" height="9.23" fill="#2f38c7"/>
<rect x="160.4" y="190.01" width="2.2" height="9.23" fill="#2e3bd0"/>
<rect x="161.8" y="190.01" width="2.2" height="9.23" fill="#068eff"/>
<rect x="163.2" y="190.01" width="2.2" height="9.23" fill="#00a3fd"/>
<rect x="164.6" y="190.01" width="2.2" height="9.23" fill="#3530af"/>
<rect x="166.0" y="190.01" width="2.2" height="9.23" fill="#3135bf"/>
<rect x="167.4" y="190.01" width="2.2" height="9.23" fill="#2f38c7"/>
<rect x="168.8" y="190.01" width="2.2" height="9.23" fill="#2c3dd8"/>
<rect x="170.2" y="190.01" width="2.2" height="9.23" fill="#2a40e0"/>
<rect x="171.6" y="190.01" width="2.2" height="9.23" fill="#0494ff"/>
<rect x="173.0" y="190.01" width="2.2" height="9.23" fill="#00a5fc"/>
<rect x="174.4" y="190.01" width="2.2" height="9.23" fill="#3135bf"/>
<rect x="175.8" y="190.01" width="2.2" height="9.23" fill="#2e3bd0"/>
<rect x="177.2" y="190.01" width="2.2" height="9.23" fill="#2c3dd8"/>
<rect x="178.6" y="190.01" width="2.2" height="9.23" fill="#2647e4"/>
<rect x="180.0" y="190.01" width="2.2" height="9.23" fill="#234ee9"/>
<rect x="181.4" y="190.01" width="2.2" height="9.23" fill="#029aff"/>
<rect x="182.8" y="190.01" width="2.2" height="9.23" fill="#00a8fa"/>
<rect x="184.2" y="190.01" width="2.2" height="9.23" fill="#2f38c7"/>
<rect x="185.6" y="190.01" width="2.2" height="9.23" fill="#2e3bd0"/>
<rect x="187.0" y="190.01" width="2.2" height="9.23" fill="#2a40e0"/>
<rect x="188.4" y="190.01" width="2.2" height="9.23" fill="#234ee9"/>
<rect x="189.8" y="190.01" width="2.2" height="9.23" fill="#1f55ed"/>
<rect x="191.2" y="190.01" width="2.2" height="9.23" fill="#1070ff"/>
<rect x="192.6" y="190.01" width="2.2" height="9.23" fill="#0c7cff"/>
<rect x="194.0" y="190.01" width="2.2" height="9.23" fill="#00a5fc"/>
<rect x="195.4" y="190.01" width="2.2" height="9.23" fill="#00a8fa"/>
<rect x="196.8" y="190.01" width="3.6" height="9.23" fill="#00abf8"/>
<rect x="199.6" y="190.01" width="2.2" height="9.23" fill="#00adf7"/>
<rect x="201.0" y="190.01" width="2.2" height="9.23" fill="#00cbd3"/>
<rect x="202.4" y="190.01" width="2.2" height="9.23" fill="#00d8c0"/>
<rect x="203.8" y="190.01" width="2.2" height="9.23" fill="#0888ff"/>
<rect x="205.2" y="190.01" width="2.2" height="9.23" fill="#068eff"/>
<rect x="206.6" y="190.01" width="2.2" height="9.23" fill="#029aff"/>
<rect x="208.0" y="190.01" width="2.2" height="9.23" fill="#00a3fd"/>
<rect x="209.4" y="190.01" width="2.2" height="9.23" fill="#00a5fc"/>
<rect x="210.8" y="190.01" width="2.2" height="9.23" fill="#00cece"/>
<rect x="212.2" y="190.01" width="2.2" height="9.23" fill="#00dbb8"/>
<rect x="213.6" y="190.01" width="2.2" height="9.23" fill="#2647e4"/>
<rect x="215.0" y="190.01" width="2.2" height="9.23" fill="#234ee9"/>
<rect x="216.4" y="190.01" width="5.0" height="9.23" fill="#2647e4"/>
<rect x="220.6" y="190.01" width="2.2" height="9.23" fill="#00c2e2"/>
<rect x="222.0" y="190.01" width="2.2" height="9.23" fill="#00d2ca"/>
<rect x="223.4" y="190.01" width="2.2" height="9.23" fill="#0e76ff"/>
<rect x="224.8" y="190.01" width="2.2" height="9.23" fill="#0a82ff"/>
<rect x="226.2" y="190.01" width="2.2" height="9.23" fill="#0888ff"/>
<rect x="227.6" y="190.01" width="2.2" height="9.23" fill="#0494ff"/>
<rect x="229.0" y="190.01" width="2.2" height="9.23" fill="#029aff"/>
<rect x="230.4" y="190.01" width="2.2" height="9.23" fill="#00bee6"/>
<rect x="231.8" y="190.01" width="2.2" height="9.23" fill="#00cbd3"/>
<rect x="233.2" y="190.01" width="2.2" height="9.23" fill="#2647e4"/>
<rect x="234.6" y="190.01" width="2.2" height="9.23" fill="#234ee9"/>
<rect x="236.0" y="190.01" width="2.2" height="9.23" fill="#1b5bf2"/>
<rect x="237.4" y="190.01" width="2.2" height="9.23" fill="#1469fb"/>
<rect x="238.8" y="190.01" width="2.2" height="9.23" fill="#1070ff"/>
<rect x="240.1" y="190.01" width="2.2" height="9.23" fill="#00abf8"/>
<rect x="241.5" y="190.01" width="2.2" height="9.23" fill="#00b5f2"/>
<rect x="242.9" y="190.01" width="2.2" height="9.23" fill="#392489"/>
<rect x="244.3" y="190.01" width="2.2" height="9.23" fill="#382b9e"/>
<rect x="245.7" y="190.01" width="2.2" height="9.23" fill="#362da6"/>
<rect x="247.1" y="190.01" width="2.2" height="9.23" fill="#3333b7"/>
<rect x="248.5" y="190.01" width="2.2" height="9.23" fill="#3135bf"/>
<rect x="249.9" y="190.01" width="2.2" height="9.23" fill="#00a0ff"/>
<rect x="251.3" y="190.01" width="2.2" height="9.23" fill="#00adf7"/>
<rect x="252.7" y="190.01" width="2.2" height="9.23" fill="#392489"/>
<rect x="254.1" y="190.01" width="2.2" height="9.23" fill="#382b9e"/>
<rect x="255.5" y="190.01" width="2.2" height="9.23" fill="#362da6"/>
<rect x="256.9" y="190.01" width="2.2" height="9.23" fill="#3333b7"/>
<rect x="258.3" y="190.01" width="2.2" height="9.23" fill="#3135bf"/>
<rect x="259.7" y="190.01" width="2.2" height="9.23" fill="#0494ff"/>
<rect x="261.1" y="190.01" width="2.2" height="9.23" fill="#00a8fa"/>
<rect x="262.5" y="190.01" width="2.2" height="9.23" fill="#371354"/>
<rect x="263.9" y="190.01" width="2.2" height="9.23" fill="#381b6e"/>
<rect x="265.3" y="190.01" width="2.2" height="9.23" fill="#391f7b"/>
<rect x="266.7" y="190.01" width="2.2" height="9.23" fill="#3a2896"/>
<rect x="268.1" y="190.01" width="2.2" height="9.23" fill="#382b9e"/>
<rect x="269.5" y="190.01" width="2.2" height="9.23" fill="#0c7cff"/>
<rect x="270.9" y="190.01" width="2.2" height="9.23" fill="#029aff"/>
<rect x="279.3" y="190.01" width="2.2" height="9.23" fill="#381b6e"/>
<rect x="280.7" y="190.01" width="2.2" height="9.23" fill="#382b9e"/>
<rect x="289.1" y="190.01" width="2.2" height="9.23" fill="#234ee9"/>
<rect x="290.5" y="190.01" width="2.2" height="9.23" fill="#0a82ff"/>
<rect x="300.3" y="190.01" width="2.2" height="9.23" fill="#391f7b"/>
<rect x="310.1" y="190.01" width="2.2" height="9.23" fill="#392489"/>
<rect x="319.9" y="190.01" width="2.2" height="9.23" fill="#3a2896"/>
<rect x="349.3" y="190.01" width="2.2" height="9.23" fill="#3a2896"/>
<rect x="359.1" y="190.01" width="2.2" height="9.23" fill="#3135bf"/>
<rect x="368.9" y="190.01" width="2.2" height="9.23" fill="#381761"/>
<rect x="378.6" y="190.01" width="2.2" height="9.23" fill="#2f38c7"/>
<rect x="388.4" y="190.01" width="2.2" height="9.23" fill="#391f7b"/>
<rect x="396.8" y="190.01" width="2.2" height="9.23" fill="#362da6"/>
<rect x="398.2" y="190.01" width="2.2" height="9.23" fill="#00a8fa"/>
<rect x="399.6" y="190.01" width="2.2" height="9.23" fill="#00a0ff"/>
<rect x="401.0" y="190.01" width="2.2" height="9.23" fill="#00a3fd"/>
<rect x="402.4" y="190.01" width="2.2" height="9.23" fill="#029aff"/>
<rect x="417.8" y="190.01" width="2.2" height="9.23" fill="#3530af"/>
<rect x="426.2" y="190.01" width="2.2" height="9.23" fill="#370e46"/>
<rect x="427.6" y="190.01" width="2.2" height="9.23" fill="#3135bf"/>
<rect x="436.0" y="190.01" width="2.2" height="9.23" fill="#391f7b"/>
<rect x="437.4" y="190.01" width="2.2" height="9.23" fill="#2a40e0"/>
<rect x="447.2" y="190.01" width="2.2" height="9.23" fill="#3530af"/>
<rect x="202.4" y="198.64" width="2.2" height="9.23" fill="#370e46"/>
<rect x="212.2" y="198.64" width="2.2" height="9.23" fill="#371354"/>
<rect x="26.0" y="207.27" width="516.5" height="1.2" fill="#360a39"/>
</g></g>
<path d="M26.6 272.4h2.6" stroke="#444" stroke-width="0.7"/>
<text x="24.6" y="275.6" font-size="7.6" fill="#4d4d4d" text-anchor="end">0</text>
<path d="M26.6 237.9h2.6" stroke="#444" stroke-width="0.7"/>
<text x="24.6" y="241.1" font-size="7.6" fill="#4d4d4d" text-anchor="end">4</text>
<path d="M26.6 203.4h2.6" stroke="#444" stroke-width="0.7"/>
<text x="24.6" y="206.6" font-size="7.6" fill="#4d4d4d" text-anchor="end">8</text>
<path d="M26.6 168.8h2.6" stroke="#444" stroke-width="0.7"/>
<text x="24.6" y="172.0" font-size="7.6" fill="#4d4d4d" text-anchor="end">12</text>
<path d="M26.6 134.3h2.6" stroke="#444" stroke-width="0.7"/>
<text x="24.6" y="137.5" font-size="7.6" fill="#4d4d4d" text-anchor="end">16</text>
<path d="M26.6 99.8h2.6" stroke="#444" stroke-width="0.7"/>
<text x="24.6" y="103.0" font-size="7.6" fill="#4d4d4d" text-anchor="end">20</text>
<path d="M26.6 65.3h2.6" stroke="#444" stroke-width="0.7"/>
<text x="24.6" y="68.5" font-size="7.6" fill="#4d4d4d" text-anchor="end">24</text>
<text transform="translate(12.2,168.6) rotate(-90)" font-size="9.2" fill="#111" text-anchor="middle">Time</text>
<path d="M72.4 272.2v2.2" stroke="#444" stroke-width="0.7"/>
<path d="M111.6 272.2v2.2" stroke="#444" stroke-width="0.7"/>
<path d="M155.0 272.2v2.2" stroke="#444" stroke-width="0.7"/>
<path d="M197.0 272.2v2.2" stroke="#444" stroke-width="0.7"/>
<path d="M240.4 272.2v2.2" stroke="#444" stroke-width="0.7"/>
<path d="M282.4 272.2v2.2" stroke="#444" stroke-width="0.7"/>
<path d="M325.8 272.2v2.2" stroke="#444" stroke-width="0.7"/>
<path d="M369.2 272.2v2.2" stroke="#444" stroke-width="0.7"/>
<path d="M411.2 272.2v2.2" stroke="#444" stroke-width="0.7"/>
<path d="M454.8 272.2v2.2" stroke="#444" stroke-width="0.7"/>
<path d="M496.8 272.2v2.2" stroke="#444" stroke-width="0.7"/>
<text x="35.8" y="282.9" font-size="7.6" fill="#4d4d4d" text-anchor="middle">1</text>
<text x="80.0" y="282.9" font-size="7.6" fill="#4d4d4d" text-anchor="middle">2</text>
<text x="118.7" y="282.9" font-size="7.6" fill="#4d4d4d" text-anchor="middle">3</text>
<text x="161.5" y="282.9" font-size="7.6" fill="#4d4d4d" text-anchor="middle">4</text>
<text x="203.8" y="282.9" font-size="7.6" fill="#4d4d4d" text-anchor="middle">5</text>
<text x="247.6" y="282.9" font-size="7.6" fill="#4d4d4d" text-anchor="middle">6</text>
<text x="290.0" y="282.9" font-size="7.6" fill="#4d4d4d" text-anchor="middle">7</text>
<text x="333.4" y="282.9" font-size="7.6" fill="#4d4d4d" text-anchor="middle">8</text>
<text x="376.6" y="282.9" font-size="7.6" fill="#4d4d4d" text-anchor="middle">9</text>
<text x="426.0" y="282.9" font-size="7.6" fill="#4d4d4d" text-anchor="middle">10</text>
<text x="469.6" y="282.9" font-size="7.6" fill="#4d4d4d" text-anchor="middle">11</text>
<text x="511.6" y="282.9" font-size="7.6" fill="#4d4d4d" text-anchor="middle">12</text>
</svg></body></html>
